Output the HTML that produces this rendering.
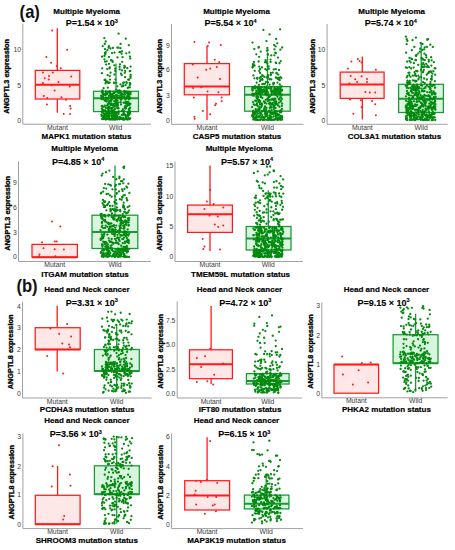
<!DOCTYPE html>
<html><head><meta charset="utf-8"><style>
html,body{margin:0;padding:0;background:#fff;}
body{width:455px;height:550px;overflow:hidden;}
svg{display:block;}
text{font-family:"Liberation Sans",sans-serif;}
.tk{font-size:6.8px;fill:#3a3a3a;}
.yl{font-size:7.7px;font-weight:bold;fill:#000;stroke:#000;stroke-width:0.3px;}
.ti{font-size:8px;font-weight:bold;fill:#000;stroke:#000;stroke-width:0.18px;}
.pv{font-size:9px;font-weight:bold;fill:#000;stroke:#000;stroke-width:0.12px;}
.sup{font-size:5.5px;}
.xt{font-size:8px;font-weight:bold;fill:#000;stroke:#000;stroke-width:0.18px;}
.lab{font-size:17.5px;font-weight:bold;fill:#111;}
</style></head><body>
<svg width="455" height="550" viewBox="0 0 455 550">
<rect width="455" height="550" fill="#fff"/>
<text transform="translate(19.6 17.9) scale(0.95 1)" class="lab">(a)</text>
<text transform="translate(16.4 292.3) scale(0.95 1)" class="lab">(b)</text>
<path d="M22.8 23.5V124.2H151" fill="none" stroke="#a0a0a0" stroke-width="1"/>
<text x="21" y="52.2" text-anchor="end" class="tk">10</text>
<text x="21" y="87.6" text-anchor="end" class="tk">5</text>
<text x="21" y="122.9" text-anchor="end" class="tk">0</text>
<text transform="translate(9.4 76.4) rotate(-90)" text-anchor="middle" textLength="74.5" lengthAdjust="spacingAndGlyphs" class="yl">ANGPTL3 expression</text>
<text x="86.7" y="14" text-anchor="middle" class="ti">Multiple Myeloma</text>
<text x="65.7" y="26.3" class="pv">P=1.54 × 10<tspan dy="-3.6" class="sup">3</tspan></text>
<text x="57.5" y="129.8" text-anchor="middle" class="tk">Mutant</text>
<text x="115.7" y="129.8" text-anchor="middle" class="tk">Wild</text>
<text x="86.5" y="139.3" text-anchor="middle" class="xt">MAPK1 mutation status</text>
<line x1="57.3" y1="28.3" x2="57.3" y2="70.4" stroke="#ff1a1a" stroke-width="1.3"/>
<line x1="57.3" y1="99" x2="57.3" y2="112.8" stroke="#ff1a1a" stroke-width="1.3"/>
<rect x="35.3" y="70.4" width="44.5" height="28.6" fill="#fde7e7" stroke="#ff1a1a" stroke-width="1.25"/>
<line x1="35.3" y1="84.7" x2="79.8" y2="84.7" stroke="#ff1a1a" stroke-width="2"/>
<line x1="116" y1="63.4" x2="116" y2="91.3" stroke="#179a35" stroke-width="1.3"/>
<line x1="116" y1="111.6" x2="116" y2="119.5" stroke="#179a35" stroke-width="1.3"/>
<rect x="93.5" y="91.3" width="45" height="20.3" fill="#d9f5dd" stroke="#179a35" stroke-width="1.25"/>
<line x1="93.5" y1="98.3" x2="138.5" y2="98.3" stroke="#179a35" stroke-width="2"/>
<circle fill="#ff1a1a" cx="52.1" cy="30.5" r="1"/>
<circle fill="#ff1a1a" cx="67.2" cy="49.7" r="1"/>
<circle fill="#ff1a1a" cx="46.4" cy="57" r="1"/>
<circle fill="#ff1a1a" cx="51.1" cy="62.7" r="1"/>
<circle fill="#ff1a1a" cx="56.8" cy="66" r="1"/>
<circle fill="#ff1a1a" cx="60.8" cy="68.2" r="1"/>
<circle fill="#ff1a1a" cx="43" cy="72.6" r="1"/>
<circle fill="#ff1a1a" cx="52.8" cy="72.6" r="1"/>
<circle fill="#ff1a1a" cx="49" cy="76" r="1"/>
<circle fill="#ff1a1a" cx="44.7" cy="78.3" r="1"/>
<circle fill="#ff1a1a" cx="48.7" cy="79.5" r="1"/>
<circle fill="#ff1a1a" cx="71.2" cy="76.5" r="1"/>
<circle fill="#ff1a1a" cx="58.5" cy="82" r="1"/>
<circle fill="#ff1a1a" cx="43" cy="83" r="1"/>
<circle fill="#ff1a1a" cx="51.6" cy="85.2" r="1"/>
<circle fill="#ff1a1a" cx="69.8" cy="86.4" r="1"/>
<circle fill="#ff1a1a" cx="54.6" cy="90.4" r="1"/>
<circle fill="#ff1a1a" cx="43.8" cy="95.9" r="1"/>
<circle fill="#ff1a1a" cx="47.3" cy="98" r="1"/>
<circle fill="#ff1a1a" cx="61.5" cy="97.3" r="1"/>
<circle fill="#ff1a1a" cx="66" cy="99.7" r="1"/>
<circle fill="#ff1a1a" cx="46.9" cy="104.5" r="1"/>
<circle fill="#ff1a1a" cx="70.1" cy="105.9" r="1"/>
<circle fill="#ff1a1a" cx="70.6" cy="108.5" r="1"/>
<circle fill="#ff1a1a" cx="63.7" cy="114" r="1"/>
<circle fill="#ff1a1a" cx="70.1" cy="114" r="1"/>
<g fill="#028a0f"><circle cx="105.73" cy="107.67" r="1.15"/><circle cx="103.43" cy="94.24" r="1.15"/><circle cx="112.05" cy="97.33" r="1.15"/><circle cx="116.22" cy="118.7" r="1.15"/><circle cx="114.05" cy="119.13" r="1.15"/><circle cx="103.97" cy="118.27" r="1.15"/><circle cx="125.61" cy="102.32" r="1.15"/><circle cx="107.86" cy="116.27" r="1.15"/><circle cx="129.16" cy="94.87" r="1.15"/><circle cx="112.96" cy="96.22" r="1.15"/><circle cx="102.67" cy="46.2" r="1.15"/><circle cx="109.81" cy="76.03" r="1.15"/><circle cx="104.76" cy="115.51" r="1.15"/><circle cx="125.29" cy="108.49" r="1.15"/><circle cx="118.4" cy="114.16" r="1.15"/><circle cx="112.25" cy="94.56" r="1.15"/><circle cx="103.15" cy="97.01" r="1.15"/><circle cx="107.36" cy="118.64" r="1.15"/><circle cx="113.87" cy="93.44" r="1.15"/><circle cx="118.52" cy="108.19" r="1.15"/><circle cx="110.11" cy="100.79" r="1.15"/><circle cx="121.85" cy="86.44" r="1.15"/><circle cx="118.19" cy="111.82" r="1.15"/><circle cx="127.03" cy="97.62" r="1.15"/><circle cx="109.77" cy="92.12" r="1.15"/><circle cx="104.77" cy="44.02" r="1.15"/><circle cx="123.56" cy="102.66" r="1.15"/><circle cx="115.68" cy="115.23" r="1.15"/><circle cx="120.95" cy="119.11" r="1.15"/><circle cx="118.15" cy="90.65" r="1.15"/><circle cx="110.52" cy="72.65" r="1.15"/><circle cx="118.77" cy="93.04" r="1.15"/><circle cx="114.71" cy="96.15" r="1.15"/><circle cx="129.07" cy="79.71" r="1.15"/><circle cx="120.83" cy="99.68" r="1.15"/><circle cx="121.92" cy="118.61" r="1.15"/><circle cx="130.5" cy="94.34" r="1.15"/><circle cx="109.67" cy="82.55" r="1.15"/><circle cx="120.96" cy="104.38" r="1.15"/><circle cx="114.87" cy="119.27" r="1.15"/><circle cx="104.74" cy="114.63" r="1.15"/><circle cx="123.89" cy="118.67" r="1.15"/><circle cx="108.58" cy="116.06" r="1.15"/><circle cx="126.92" cy="104.1" r="1.15"/><circle cx="114.51" cy="117.87" r="1.15"/><circle cx="127.27" cy="96.97" r="1.15"/><circle cx="126.7" cy="82.92" r="1.15"/><circle cx="113.51" cy="110.09" r="1.15"/><circle cx="127.3" cy="105.81" r="1.15"/><circle cx="105.74" cy="52.21" r="1.15"/><circle cx="108.12" cy="114.33" r="1.15"/><circle cx="115.56" cy="112.22" r="1.15"/><circle cx="109.02" cy="95.9" r="1.15"/><circle cx="113.62" cy="119.46" r="1.15"/><circle cx="117.95" cy="105.26" r="1.15"/><circle cx="121.6" cy="53.63" r="1.15"/><circle cx="119.46" cy="97.88" r="1.15"/><circle cx="102.89" cy="93.56" r="1.15"/><circle cx="124.23" cy="67.87" r="1.15"/><circle cx="124.76" cy="72.84" r="1.15"/><circle cx="113.03" cy="104.03" r="1.15"/><circle cx="119.95" cy="117.02" r="1.15"/><circle cx="103.28" cy="118.55" r="1.15"/><circle cx="106.07" cy="113.13" r="1.15"/><circle cx="102.85" cy="106.81" r="1.15"/><circle cx="105.75" cy="119.5" r="1.15"/><circle cx="111.99" cy="117.1" r="1.15"/><circle cx="127.01" cy="119.24" r="1.15"/><circle cx="105.67" cy="95.23" r="1.15"/><circle cx="111.51" cy="111.48" r="1.15"/><circle cx="104.91" cy="105.53" r="1.15"/><circle cx="130.5" cy="77.93" r="1.15"/><circle cx="115.52" cy="100.11" r="1.15"/><circle cx="104.3" cy="117.67" r="1.15"/><circle cx="109.08" cy="106.67" r="1.15"/><circle cx="106.05" cy="81.57" r="1.15"/><circle cx="129.26" cy="119.27" r="1.15"/><circle cx="105.61" cy="97.54" r="1.15"/><circle cx="102.1" cy="97.14" r="1.15"/><circle cx="130.07" cy="97.54" r="1.15"/><circle cx="121.77" cy="75.07" r="1.15"/><circle cx="112.08" cy="111.01" r="1.15"/><circle cx="123.99" cy="114.67" r="1.15"/><circle cx="124.2" cy="97.42" r="1.15"/><circle cx="107.86" cy="107.36" r="1.15"/><circle cx="130.26" cy="84.02" r="1.15"/><circle cx="125" cy="77.19" r="1.15"/><circle cx="123.05" cy="83.06" r="1.15"/><circle cx="116.52" cy="112.46" r="1.15"/><circle cx="102.15" cy="105.98" r="1.15"/><circle cx="109.51" cy="119.22" r="1.15"/><circle cx="121.66" cy="111.11" r="1.15"/><circle cx="114.45" cy="52.58" r="1.15"/><circle cx="130.35" cy="58.57" r="1.15"/><circle cx="112.02" cy="53.05" r="1.15"/><circle cx="107.97" cy="112.69" r="1.15"/><circle cx="107.31" cy="113.57" r="1.15"/><circle cx="127.77" cy="94.96" r="1.15"/><circle cx="115.4" cy="79.62" r="1.15"/><circle cx="124.81" cy="94.18" r="1.15"/><circle cx="120.72" cy="117.71" r="1.15"/><circle cx="124.3" cy="65.83" r="1.15"/><circle cx="115.35" cy="91.57" r="1.15"/><circle cx="124.5" cy="114.24" r="1.15"/><circle cx="124.84" cy="107.21" r="1.15"/><circle cx="112.94" cy="47.93" r="1.15"/><circle cx="129.14" cy="103.55" r="1.15"/><circle cx="106.3" cy="92.25" r="1.15"/><circle cx="105.74" cy="116.15" r="1.15"/><circle cx="125.01" cy="66.81" r="1.15"/><circle cx="125.6" cy="115.44" r="1.15"/><circle cx="120.62" cy="43.95" r="1.15"/><circle cx="117.43" cy="106.26" r="1.15"/><circle cx="101.72" cy="116" r="1.15"/><circle cx="120.4" cy="48.16" r="1.15"/><circle cx="128.75" cy="97.58" r="1.15"/><circle cx="126.93" cy="101.82" r="1.15"/><circle cx="107.5" cy="81.95" r="1.15"/><circle cx="109.91" cy="111.5" r="1.15"/><circle cx="118.54" cy="111.95" r="1.15"/><circle cx="113.62" cy="111.1" r="1.15"/><circle cx="128.05" cy="116" r="1.15"/><circle cx="114.77" cy="106.08" r="1.15"/><circle cx="127.89" cy="96.06" r="1.15"/><circle cx="128.28" cy="102.52" r="1.15"/><circle cx="116.94" cy="98.26" r="1.15"/><circle cx="101.85" cy="97.67" r="1.15"/><circle cx="106.68" cy="101.49" r="1.15"/><circle cx="124.8" cy="119.46" r="1.15"/><circle cx="115.22" cy="114.47" r="1.15"/><circle cx="117.66" cy="92.24" r="1.15"/><circle cx="116.54" cy="107.56" r="1.15"/><circle cx="124.36" cy="96.81" r="1.15"/><circle cx="117.77" cy="116.92" r="1.15"/><circle cx="109.44" cy="111.66" r="1.15"/><circle cx="116.23" cy="89.57" r="1.15"/><circle cx="123.64" cy="96.64" r="1.15"/><circle cx="114.33" cy="65.29" r="1.15"/><circle cx="116.16" cy="95.27" r="1.15"/><circle cx="121.67" cy="97.97" r="1.15"/><circle cx="116.98" cy="100.84" r="1.15"/><circle cx="128.98" cy="99.47" r="1.15"/><circle cx="127.07" cy="92.94" r="1.15"/><circle cx="108.93" cy="56.98" r="1.15"/><circle cx="129.03" cy="96.7" r="1.15"/><circle cx="105.33" cy="79.71" r="1.15"/><circle cx="114.3" cy="116.35" r="1.15"/><circle cx="108.37" cy="118.17" r="1.15"/><circle cx="120.98" cy="118.14" r="1.15"/><circle cx="127.67" cy="87.92" r="1.15"/><circle cx="122.35" cy="115.14" r="1.15"/><circle cx="105.5" cy="93.99" r="1.15"/><circle cx="129.75" cy="71.19" r="1.15"/><circle cx="129.3" cy="112.73" r="1.15"/><circle cx="115.63" cy="103.71" r="1.15"/><circle cx="125.77" cy="38.63" r="1.15"/><circle cx="113.99" cy="114.88" r="1.15"/><circle cx="111.27" cy="97.88" r="1.15"/><circle cx="110.66" cy="113.61" r="1.15"/><circle cx="101.87" cy="92.32" r="1.15"/><circle cx="114.25" cy="96.84" r="1.15"/><circle cx="111.05" cy="119.32" r="1.15"/><circle cx="116.36" cy="94.96" r="1.15"/><circle cx="130.26" cy="118.47" r="1.15"/><circle cx="129.87" cy="87.29" r="1.15"/><circle cx="109.11" cy="116.97" r="1.15"/><circle cx="124.2" cy="119.1" r="1.15"/><circle cx="105.11" cy="110.51" r="1.15"/><circle cx="128.1" cy="102.44" r="1.15"/><circle cx="108.9" cy="82.96" r="1.15"/><circle cx="128.32" cy="115.32" r="1.15"/><circle cx="121.89" cy="96.4" r="1.15"/><circle cx="102.99" cy="117.54" r="1.15"/><circle cx="113.8" cy="93.23" r="1.15"/><circle cx="128.89" cy="118.17" r="1.15"/><circle cx="124.87" cy="94.68" r="1.15"/><circle cx="126.47" cy="117.75" r="1.15"/><circle cx="126.67" cy="118.38" r="1.15"/><circle cx="111.27" cy="100.76" r="1.15"/><circle cx="128.54" cy="96.87" r="1.15"/><circle cx="105.1" cy="110.65" r="1.15"/><circle cx="108.31" cy="97.58" r="1.15"/><circle cx="106.05" cy="116.8" r="1.15"/><circle cx="107.23" cy="118.99" r="1.15"/><circle cx="110.27" cy="108.3" r="1.15"/><circle cx="109.82" cy="91.31" r="1.15"/><circle cx="106.53" cy="98.3" r="1.15"/><circle cx="101.83" cy="106.44" r="1.15"/><circle cx="101.75" cy="111.58" r="1.15"/><circle cx="117.5" cy="92.02" r="1.15"/><circle cx="115.26" cy="113.84" r="1.15"/><circle cx="104.42" cy="59.3" r="1.15"/><circle cx="114.01" cy="82.97" r="1.15"/><circle cx="125.84" cy="98.57" r="1.15"/><circle cx="116.2" cy="103.99" r="1.15"/><circle cx="130.18" cy="93.25" r="1.15"/><circle cx="125.77" cy="106.67" r="1.15"/><circle cx="120" cy="92.73" r="1.15"/><circle cx="111.52" cy="103.37" r="1.15"/><circle cx="105.12" cy="118.84" r="1.15"/><circle cx="123.08" cy="118.23" r="1.15"/><circle cx="106.1" cy="111.3" r="1.15"/><circle cx="126.03" cy="117.72" r="1.15"/><circle cx="121.01" cy="73.63" r="1.15"/><circle cx="108.42" cy="109.9" r="1.15"/><circle cx="114.81" cy="109.31" r="1.15"/><circle cx="114.41" cy="115.02" r="1.15"/><circle cx="129.58" cy="110.9" r="1.15"/><circle cx="117.38" cy="47.63" r="1.15"/><circle cx="129.69" cy="111.81" r="1.15"/><circle cx="111.78" cy="108.43" r="1.15"/><circle cx="112.52" cy="119.49" r="1.15"/><circle cx="116.08" cy="99.65" r="1.15"/><circle cx="116.14" cy="113.41" r="1.15"/><circle cx="109.07" cy="119.45" r="1.15"/><circle cx="113.05" cy="117.53" r="1.15"/><circle cx="101.96" cy="119.08" r="1.15"/><circle cx="108.14" cy="108.71" r="1.15"/><circle cx="116.86" cy="96" r="1.15"/><circle cx="120.63" cy="91.55" r="1.15"/><circle cx="127.15" cy="92.48" r="1.15"/><circle cx="110.89" cy="104.18" r="1.15"/><circle cx="105.69" cy="41.49" r="1.15"/><circle cx="120.21" cy="92.27" r="1.15"/><circle cx="125.86" cy="119.06" r="1.15"/><circle cx="119.74" cy="69.38" r="1.15"/><circle cx="125.18" cy="92" r="1.15"/><circle cx="116.7" cy="115.7" r="1.15"/><circle cx="125.85" cy="98.18" r="1.15"/><circle cx="125.6" cy="84.99" r="1.15"/><circle cx="127.55" cy="96.04" r="1.15"/><circle cx="121.68" cy="93.38" r="1.15"/><circle cx="102.22" cy="112.34" r="1.15"/><circle cx="111.9" cy="115.93" r="1.15"/><circle cx="125.87" cy="116.97" r="1.15"/><circle cx="119.76" cy="96.72" r="1.15"/><circle cx="121.31" cy="94.9" r="1.15"/><circle cx="101.4" cy="98.87" r="1.15"/><circle cx="123.3" cy="85.97" r="1.15"/><circle cx="117.03" cy="98.22" r="1.15"/><circle cx="103.24" cy="94.01" r="1.15"/><circle cx="108.71" cy="91.92" r="1.15"/><circle cx="109.11" cy="118.1" r="1.15"/><circle cx="107.33" cy="92.13" r="1.15"/><circle cx="129.99" cy="91.84" r="1.15"/><circle cx="112.55" cy="98.62" r="1.15"/><circle cx="121.4" cy="99.42" r="1.15"/><circle cx="119.44" cy="90.31" r="1.15"/><circle cx="103.58" cy="94.46" r="1.15"/><circle cx="108.77" cy="115.4" r="1.15"/><circle cx="110.25" cy="91.75" r="1.15"/><circle cx="101.67" cy="96.48" r="1.15"/><circle cx="109.2" cy="118.61" r="1.15"/><circle cx="121.65" cy="93.67" r="1.15"/><circle cx="109.85" cy="93.57" r="1.15"/><circle cx="114.96" cy="97.85" r="1.15"/><circle cx="104.78" cy="100.09" r="1.15"/><circle cx="107.16" cy="69.04" r="1.15"/><circle cx="128.83" cy="45.16" r="1.15"/><circle cx="114.79" cy="119.32" r="1.15"/><circle cx="129.76" cy="82.83" r="1.15"/><circle cx="109.2" cy="100.99" r="1.15"/><circle cx="129.1" cy="113.09" r="1.15"/><circle cx="118.4" cy="113.05" r="1.15"/><circle cx="116.71" cy="115.61" r="1.15"/><circle cx="105.2" cy="53.74" r="1.15"/><circle cx="116.26" cy="82.79" r="1.15"/><circle cx="121.98" cy="70.39" r="1.15"/><circle cx="127.69" cy="112.29" r="1.15"/><circle cx="102.03" cy="99.04" r="1.15"/><circle cx="115.76" cy="119.46" r="1.15"/><circle cx="110.18" cy="100.92" r="1.15"/><circle cx="111.41" cy="115.64" r="1.15"/><circle cx="126" cy="108.08" r="1.15"/><circle cx="123.37" cy="119.48" r="1.15"/><circle cx="104.83" cy="79.88" r="1.15"/><circle cx="122.26" cy="61.83" r="1.15"/><circle cx="109.82" cy="67.47" r="1.15"/><circle cx="112.85" cy="105.1" r="1.15"/><circle cx="118.62" cy="33.67" r="1.15"/><circle cx="113.88" cy="105.71" r="1.15"/><circle cx="102.72" cy="110.26" r="1.15"/><circle cx="125.84" cy="117.09" r="1.15"/><circle cx="128.81" cy="109.7" r="1.15"/><circle cx="109.11" cy="111.62" r="1.15"/><circle cx="106.88" cy="98" r="1.15"/><circle cx="129.41" cy="105.04" r="1.15"/><circle cx="125.17" cy="70.9" r="1.15"/><circle cx="128.15" cy="94.78" r="1.15"/><circle cx="117.45" cy="57.44" r="1.15"/><circle cx="102.75" cy="92.39" r="1.15"/><circle cx="114.56" cy="92.04" r="1.15"/><circle cx="120.25" cy="91.5" r="1.15"/><circle cx="102.74" cy="109.67" r="1.15"/><circle cx="105.04" cy="61.72" r="1.15"/><circle cx="111.4" cy="99.78" r="1.15"/><circle cx="123.03" cy="109.06" r="1.15"/><circle cx="108.95" cy="46.18" r="1.15"/><circle cx="110.14" cy="94.1" r="1.15"/><circle cx="112.89" cy="96.76" r="1.15"/><circle cx="106.05" cy="114.66" r="1.15"/><circle cx="127.94" cy="113.16" r="1.15"/><circle cx="107.77" cy="98.46" r="1.15"/><circle cx="130.6" cy="66.53" r="1.15"/><circle cx="105.4" cy="100.96" r="1.15"/><circle cx="103.97" cy="113.73" r="1.15"/><circle cx="103.98" cy="106.71" r="1.15"/><circle cx="108.9" cy="112" r="1.15"/><circle cx="127.39" cy="96.43" r="1.15"/><circle cx="113.44" cy="91.58" r="1.15"/><circle cx="116.71" cy="102.88" r="1.15"/><circle cx="111.24" cy="104.85" r="1.15"/><circle cx="109.46" cy="118.55" r="1.15"/><circle cx="105" cy="49.15" r="1.15"/><circle cx="119.81" cy="98.21" r="1.15"/><circle cx="107.65" cy="75.16" r="1.15"/><circle cx="108.6" cy="110.48" r="1.15"/><circle cx="114.41" cy="103.63" r="1.15"/><circle cx="126.25" cy="53.37" r="1.15"/><circle cx="101.94" cy="73.17" r="1.15"/><circle cx="122.16" cy="119.18" r="1.15"/><circle cx="115.21" cy="68.63" r="1.15"/><circle cx="101.31" cy="95.95" r="1.15"/><circle cx="128.55" cy="104.07" r="1.15"/><circle cx="126.45" cy="82.03" r="1.15"/><circle cx="108.6" cy="47.75" r="1.15"/><circle cx="105.84" cy="116.82" r="1.15"/><circle cx="121.35" cy="97.7" r="1.15"/><circle cx="122.52" cy="57.2" r="1.15"/><circle cx="123.79" cy="94.33" r="1.15"/><circle cx="117.51" cy="100.57" r="1.15"/><circle cx="124.3" cy="119.1" r="1.15"/><circle cx="128.35" cy="112.24" r="1.15"/><circle cx="110.23" cy="94.38" r="1.15"/><circle cx="108.7" cy="116.12" r="1.15"/><circle cx="121.84" cy="94.63" r="1.15"/><circle cx="103.37" cy="116.7" r="1.15"/><circle cx="118.44" cy="97.64" r="1.15"/><circle cx="107.87" cy="104.25" r="1.15"/><circle cx="101.61" cy="95.58" r="1.15"/><circle cx="114.84" cy="108.86" r="1.15"/><circle cx="120.25" cy="51.83" r="1.15"/><circle cx="115.27" cy="71" r="1.15"/><circle cx="108.56" cy="112.16" r="1.15"/><circle cx="122.02" cy="51.32" r="1.15"/><circle cx="101.94" cy="108.55" r="1.15"/><circle cx="121.13" cy="98.39" r="1.15"/><circle cx="108.86" cy="102.56" r="1.15"/><circle cx="128.5" cy="93.79" r="1.15"/><circle cx="102.3" cy="112.46" r="1.15"/><circle cx="113.66" cy="106.92" r="1.15"/><circle cx="107.12" cy="93.38" r="1.15"/><circle cx="123.03" cy="86.06" r="1.15"/><circle cx="107.33" cy="98.17" r="1.15"/><circle cx="110.46" cy="48.48" r="1.15"/><circle cx="108.09" cy="82.82" r="1.15"/><circle cx="123.66" cy="112.66" r="1.15"/><circle cx="129.29" cy="109.21" r="1.15"/><circle cx="106.81" cy="98.53" r="1.15"/><circle cx="113.56" cy="112.59" r="1.15"/><circle cx="129.19" cy="93.85" r="1.15"/><circle cx="112.87" cy="115.43" r="1.15"/><circle cx="129.94" cy="112.97" r="1.15"/><circle cx="102.82" cy="115.6" r="1.15"/><circle cx="112.86" cy="118.62" r="1.15"/><circle cx="127.28" cy="68.14" r="1.15"/><circle cx="130.63" cy="92.03" r="1.15"/><circle cx="110.98" cy="60.24" r="1.15"/><circle cx="128.81" cy="113.99" r="1.15"/><circle cx="102.24" cy="91.67" r="1.15"/><circle cx="112.43" cy="93.87" r="1.15"/><circle cx="111.05" cy="105.01" r="1.15"/><circle cx="101.38" cy="114.59" r="1.15"/><circle cx="111.63" cy="110.01" r="1.15"/><circle cx="104.94" cy="52.89" r="1.15"/><circle cx="107.4" cy="50.2" r="1.15"/><circle cx="125.45" cy="105.93" r="1.15"/><circle cx="114.01" cy="82.54" r="1.15"/><circle cx="115.22" cy="119.01" r="1.15"/><circle cx="128.33" cy="105.07" r="1.15"/><circle cx="112.01" cy="113.71" r="1.15"/><circle cx="102.19" cy="68.37" r="1.15"/><circle cx="125.17" cy="103.05" r="1.15"/><circle cx="102.5" cy="90.36" r="1.15"/><circle cx="103.14" cy="119.15" r="1.15"/><circle cx="108.86" cy="63.78" r="1.15"/><circle cx="127.72" cy="91.64" r="1.15"/><circle cx="109.31" cy="106.86" r="1.15"/><circle cx="119.44" cy="52.22" r="1.15"/><circle cx="122.37" cy="110.95" r="1.15"/><circle cx="109.4" cy="108.06" r="1.15"/><circle cx="123.52" cy="119.46" r="1.15"/><circle cx="119.94" cy="64.5" r="1.15"/><circle cx="102.01" cy="56.66" r="1.15"/><circle cx="115.27" cy="112.2" r="1.15"/><circle cx="129.34" cy="52.5" r="1.15"/><circle cx="108.68" cy="104.34" r="1.15"/><circle cx="115.81" cy="102.03" r="1.15"/><circle cx="106.68" cy="61.31" r="1.15"/><circle cx="123.01" cy="85.28" r="1.15"/><circle cx="124.02" cy="82.43" r="1.15"/><circle cx="110.94" cy="95.41" r="1.15"/><circle cx="111.94" cy="107.9" r="1.15"/><circle cx="103.62" cy="88.16" r="1.15"/><circle cx="123.43" cy="113.55" r="1.15"/><circle cx="103.2" cy="111.7" r="1.15"/><circle cx="117.55" cy="119.16" r="1.15"/><circle cx="130.12" cy="107.57" r="1.15"/><circle cx="130.34" cy="71.06" r="1.15"/><circle cx="103.77" cy="110.81" r="1.15"/><circle cx="115.96" cy="117.28" r="1.15"/><circle cx="114.44" cy="92.65" r="1.15"/><circle cx="113.56" cy="112.18" r="1.15"/><circle cx="121.12" cy="95.06" r="1.15"/><circle cx="126.2" cy="91.62" r="1.15"/><circle cx="104.86" cy="93.87" r="1.15"/><circle cx="109.94" cy="79.53" r="1.15"/><circle cx="112.27" cy="96.5" r="1.15"/><circle cx="107.16" cy="91.89" r="1.15"/><circle cx="108.51" cy="111.7" r="1.15"/><circle cx="127.29" cy="115.18" r="1.15"/><circle cx="110.89" cy="96.19" r="1.15"/><circle cx="130.48" cy="103.83" r="1.15"/><circle cx="108.1" cy="98.1" r="1.15"/><circle cx="120.51" cy="84.45" r="1.15"/><circle cx="104.31" cy="38.03" r="1.15"/><circle cx="125.38" cy="99.64" r="1.15"/><circle cx="128.18" cy="79.6" r="1.15"/><circle cx="109.93" cy="119.1" r="1.15"/><circle cx="106.87" cy="116.44" r="1.15"/><circle cx="118.45" cy="47.53" r="1.15"/><circle cx="112.24" cy="60.67" r="1.15"/><circle cx="114.5" cy="74.51" r="1.15"/><circle cx="124.17" cy="111.07" r="1.15"/><circle cx="104.41" cy="55.9" r="1.15"/><circle cx="119.53" cy="95.71" r="1.15"/><circle cx="112.14" cy="112.8" r="1.15"/><circle cx="107.3" cy="115.62" r="1.15"/><circle cx="118.92" cy="111.34" r="1.15"/><circle cx="107.28" cy="94.22" r="1.15"/><circle cx="110.92" cy="119.39" r="1.15"/><circle cx="106.74" cy="93.5" r="1.15"/><circle cx="107.28" cy="108.29" r="1.15"/><circle cx="117.41" cy="86.31" r="1.15"/><circle cx="104.28" cy="118.51" r="1.15"/><circle cx="117.47" cy="103.87" r="1.15"/><circle cx="103.98" cy="94.55" r="1.15"/><circle cx="121.74" cy="114.79" r="1.15"/><circle cx="109.63" cy="103.1" r="1.15"/><circle cx="129.32" cy="108.54" r="1.15"/><circle cx="117.96" cy="108.28" r="1.15"/><circle cx="113.54" cy="105.9" r="1.15"/><circle cx="130.6" cy="74.89" r="1.15"/><circle cx="107.1" cy="105.55" r="1.15"/><circle cx="107.29" cy="92.16" r="1.15"/><circle cx="127.81" cy="119.44" r="1.15"/><circle cx="125.42" cy="102.36" r="1.15"/><circle cx="127.26" cy="103.29" r="1.15"/><circle cx="106.08" cy="100.38" r="1.15"/><circle cx="117.52" cy="119.35" r="1.15"/><circle cx="128.05" cy="94.51" r="1.15"/><circle cx="119.59" cy="117.56" r="1.15"/><circle cx="116.13" cy="105.17" r="1.15"/><circle cx="109.63" cy="115.45" r="1.15"/><circle cx="128.51" cy="97.73" r="1.15"/><circle cx="115.72" cy="116.82" r="1.15"/><circle cx="129.73" cy="84.97" r="1.15"/><circle cx="105.02" cy="113.55" r="1.15"/><circle cx="129.98" cy="56.71" r="1.15"/><circle cx="102.87" cy="99.22" r="1.15"/><circle cx="112.7" cy="61.9" r="1.15"/><circle cx="119.54" cy="66.94" r="1.15"/><circle cx="106.01" cy="82.18" r="1.15"/><circle cx="107.83" cy="87.65" r="1.15"/><circle cx="126.18" cy="103.38" r="1.15"/><circle cx="106.68" cy="81.52" r="1.15"/><circle cx="113.05" cy="112.78" r="1.15"/><circle cx="112.58" cy="97.82" r="1.15"/><circle cx="108.56" cy="116.3" r="1.15"/><circle cx="127.68" cy="92.25" r="1.15"/><circle cx="117.83" cy="119.09" r="1.15"/><circle cx="102.42" cy="91.37" r="1.15"/><circle cx="104.76" cy="80.06" r="1.15"/><circle cx="117.47" cy="95.62" r="1.15"/><circle cx="110.3" cy="94.88" r="1.15"/><circle cx="118.43" cy="102.55" r="1.15"/><circle cx="120.67" cy="102.25" r="1.15"/><circle cx="114.19" cy="101.13" r="1.15"/><circle cx="119.5" cy="119.27" r="1.15"/><circle cx="108.22" cy="98.86" r="1.15"/><circle cx="124.23" cy="90.8" r="1.15"/><circle cx="106.58" cy="100.52" r="1.15"/><circle cx="104.45" cy="99.72" r="1.15"/><circle cx="113.96" cy="116.1" r="1.15"/><circle cx="114.29" cy="117.46" r="1.15"/><circle cx="102.5" cy="98.03" r="1.15"/><circle cx="103.72" cy="94.63" r="1.15"/><circle cx="124.16" cy="92.01" r="1.15"/><circle cx="102.9" cy="97.99" r="1.15"/><circle cx="112.41" cy="98.19" r="1.15"/><circle cx="105.3" cy="54.32" r="1.15"/><circle cx="130.59" cy="76.31" r="1.15"/><circle cx="125.26" cy="92.05" r="1.15"/><circle cx="130.16" cy="113.68" r="1.15"/><circle cx="129.43" cy="98.73" r="1.15"/><circle cx="106.15" cy="64.59" r="1.15"/><circle cx="128.66" cy="87.29" r="1.15"/><circle cx="111.62" cy="118.43" r="1.15"/><circle cx="105.97" cy="91.4" r="1.15"/><circle cx="109.38" cy="68.46" r="1.15"/><circle cx="105.52" cy="83.44" r="1.15"/><circle cx="128.35" cy="98.24" r="1.15"/><circle cx="109.03" cy="113.14" r="1.15"/><circle cx="110.68" cy="98.14" r="1.15"/><circle cx="106.65" cy="119.13" r="1.15"/><circle cx="128.83" cy="114.88" r="1.15"/><circle cx="127.63" cy="93.46" r="1.15"/><circle cx="124.38" cy="114.61" r="1.15"/><circle cx="116.9" cy="116.59" r="1.15"/><circle cx="111.88" cy="94.63" r="1.15"/></g>
<path d="M171.5 23.9V124.3H303.5" fill="none" stroke="#a0a0a0" stroke-width="1"/>
<text x="169.7" y="47.5" text-anchor="end" class="tk">9</text>
<text x="169.7" y="72.4" text-anchor="end" class="tk">6</text>
<text x="169.7" y="97.5" text-anchor="end" class="tk">3</text>
<text x="169.7" y="122.6" text-anchor="end" class="tk">0</text>
<text transform="translate(162.1 76.4) rotate(-90)" text-anchor="middle" textLength="74.5" lengthAdjust="spacingAndGlyphs" class="yl">ANGPTL3 expression</text>
<text x="236.5" y="14" text-anchor="middle" class="ti">Multiple Myeloma</text>
<text x="204.4" y="26.3" class="pv">P=5.54 × 10<tspan dy="-3.6" class="sup">4</tspan></text>
<text x="207" y="129.8" text-anchor="middle" class="tk">Mutant</text>
<text x="267.5" y="129.8" text-anchor="middle" class="tk">Wild</text>
<text x="237" y="139.3" text-anchor="middle" class="xt">CASP5 mutation status</text>
<line x1="207" y1="46" x2="207" y2="63.6" stroke="#ff1a1a" stroke-width="1.3"/>
<line x1="207" y1="94.8" x2="207" y2="120" stroke="#ff1a1a" stroke-width="1.3"/>
<rect x="184.3" y="63.6" width="45.2" height="31.2" fill="#fde7e7" stroke="#ff1a1a" stroke-width="1.25"/>
<line x1="184.3" y1="86.5" x2="229.5" y2="86.5" stroke="#ff1a1a" stroke-width="2"/>
<line x1="267.5" y1="52.2" x2="267.5" y2="86.6" stroke="#179a35" stroke-width="1.3"/>
<line x1="267.5" y1="111.2" x2="267.5" y2="119.4" stroke="#179a35" stroke-width="1.3"/>
<rect x="244.6" y="86.6" width="45.6" height="24.6" fill="#d9f5dd" stroke="#179a35" stroke-width="1.25"/>
<line x1="244.6" y1="94.8" x2="290.2" y2="94.8" stroke="#179a35" stroke-width="2"/>
<circle fill="#ff1a1a" cx="194.4" cy="41.9" r="1"/>
<circle fill="#ff1a1a" cx="209.1" cy="42.4" r="1"/>
<circle fill="#ff1a1a" cx="220.9" cy="45.1" r="1"/>
<circle fill="#ff1a1a" cx="207.8" cy="46.1" r="1"/>
<circle fill="#ff1a1a" cx="214.7" cy="59.8" r="1"/>
<circle fill="#ff1a1a" cx="219.2" cy="62" r="1"/>
<circle fill="#ff1a1a" cx="192.8" cy="64.4" r="1"/>
<circle fill="#ff1a1a" cx="210.2" cy="68.5" r="1"/>
<circle fill="#ff1a1a" cx="206.2" cy="69.7" r="1"/>
<circle fill="#ff1a1a" cx="216.8" cy="66.9" r="1"/>
<circle fill="#ff1a1a" cx="197.7" cy="77.5" r="1"/>
<circle fill="#ff1a1a" cx="220" cy="79.1" r="1"/>
<circle fill="#ff1a1a" cx="193.1" cy="88.1" r="1"/>
<circle fill="#ff1a1a" cx="201.3" cy="87.3" r="1"/>
<circle fill="#ff1a1a" cx="207.5" cy="91.4" r="1"/>
<circle fill="#ff1a1a" cx="218.4" cy="92.2" r="1"/>
<circle fill="#ff1a1a" cx="193.9" cy="97.4" r="1"/>
<circle fill="#ff1a1a" cx="221.7" cy="97.4" r="1"/>
<circle fill="#ff1a1a" cx="221.7" cy="101.2" r="1"/>
<circle fill="#ff1a1a" cx="216" cy="103.7" r="1"/>
<circle fill="#ff1a1a" cx="215.1" cy="105.3" r="1"/>
<circle fill="#ff1a1a" cx="202.9" cy="111" r="1"/>
<circle fill="#ff1a1a" cx="210.2" cy="114.3" r="1"/>
<circle fill="#ff1a1a" cx="194.4" cy="116.7" r="1"/>
<circle fill="#ff1a1a" cx="194.7" cy="118.7" r="1"/>
<g fill="#028a0f"><circle cx="268.88" cy="68.82" r="1.15"/><circle cx="278.83" cy="92.28" r="1.15"/><circle cx="282.19" cy="117.16" r="1.15"/><circle cx="263.99" cy="90.71" r="1.15"/><circle cx="260.05" cy="81.14" r="1.15"/><circle cx="269.55" cy="34.46" r="1.15"/><circle cx="275.25" cy="103.97" r="1.15"/><circle cx="257.37" cy="98.59" r="1.15"/><circle cx="253.47" cy="87.12" r="1.15"/><circle cx="259.71" cy="77.93" r="1.15"/><circle cx="281.92" cy="90.41" r="1.15"/><circle cx="272.18" cy="92.09" r="1.15"/><circle cx="252.05" cy="107.09" r="1.15"/><circle cx="256.54" cy="119.56" r="1.15"/><circle cx="265.14" cy="91.14" r="1.15"/><circle cx="279.22" cy="94.4" r="1.15"/><circle cx="258.91" cy="116.04" r="1.15"/><circle cx="252.68" cy="89.97" r="1.15"/><circle cx="262.79" cy="119.87" r="1.15"/><circle cx="262.86" cy="117.09" r="1.15"/><circle cx="269.74" cy="112.26" r="1.15"/><circle cx="258.21" cy="91.99" r="1.15"/><circle cx="266.44" cy="90.89" r="1.15"/><circle cx="280.47" cy="115.93" r="1.15"/><circle cx="256.54" cy="111.46" r="1.15"/><circle cx="271.4" cy="117.52" r="1.15"/><circle cx="275.78" cy="69.13" r="1.15"/><circle cx="260.03" cy="101.23" r="1.15"/><circle cx="271.61" cy="119.79" r="1.15"/><circle cx="262.65" cy="92.83" r="1.15"/><circle cx="265.49" cy="90.21" r="1.15"/><circle cx="274.3" cy="55.32" r="1.15"/><circle cx="279.47" cy="111.26" r="1.15"/><circle cx="268.16" cy="119.46" r="1.15"/><circle cx="259.23" cy="100.97" r="1.15"/><circle cx="275.68" cy="119.06" r="1.15"/><circle cx="268.75" cy="119.78" r="1.15"/><circle cx="256.32" cy="54.29" r="1.15"/><circle cx="270.49" cy="113.27" r="1.15"/><circle cx="271.5" cy="94.58" r="1.15"/><circle cx="257.31" cy="78.86" r="1.15"/><circle cx="261.13" cy="107.3" r="1.15"/><circle cx="279.04" cy="119.42" r="1.15"/><circle cx="273.75" cy="83.27" r="1.15"/><circle cx="277.67" cy="119.84" r="1.15"/><circle cx="266.14" cy="87.07" r="1.15"/><circle cx="265.76" cy="87.18" r="1.15"/><circle cx="255.2" cy="112.19" r="1.15"/><circle cx="253.18" cy="111.93" r="1.15"/><circle cx="274.79" cy="105.59" r="1.15"/><circle cx="277.7" cy="88.65" r="1.15"/><circle cx="260.09" cy="88.12" r="1.15"/><circle cx="265.26" cy="93.1" r="1.15"/><circle cx="267.91" cy="82.47" r="1.15"/><circle cx="271.52" cy="110.2" r="1.15"/><circle cx="258.6" cy="47.69" r="1.15"/><circle cx="252.46" cy="67.49" r="1.15"/><circle cx="259.18" cy="110.52" r="1.15"/><circle cx="280.72" cy="87.11" r="1.15"/><circle cx="261.94" cy="87.04" r="1.15"/><circle cx="261.99" cy="67.47" r="1.15"/><circle cx="279.59" cy="111.64" r="1.15"/><circle cx="273.06" cy="90.68" r="1.15"/><circle cx="281.76" cy="89.59" r="1.15"/><circle cx="277.53" cy="96.8" r="1.15"/><circle cx="278.07" cy="88.57" r="1.15"/><circle cx="274.03" cy="98.92" r="1.15"/><circle cx="261.36" cy="92.58" r="1.15"/><circle cx="270.93" cy="112.76" r="1.15"/><circle cx="279.69" cy="118.26" r="1.15"/><circle cx="252.82" cy="115.52" r="1.15"/><circle cx="280.24" cy="117.08" r="1.15"/><circle cx="256.31" cy="104.98" r="1.15"/><circle cx="253.27" cy="119.61" r="1.15"/><circle cx="271.27" cy="88.72" r="1.15"/><circle cx="274.4" cy="88.59" r="1.15"/><circle cx="269.95" cy="118.75" r="1.15"/><circle cx="276.85" cy="103.76" r="1.15"/><circle cx="279.09" cy="77.96" r="1.15"/><circle cx="278.38" cy="118.75" r="1.15"/><circle cx="280.71" cy="61.05" r="1.15"/><circle cx="258.25" cy="117.06" r="1.15"/><circle cx="253.05" cy="116.86" r="1.15"/><circle cx="276.69" cy="73.55" r="1.15"/><circle cx="277.08" cy="90.57" r="1.15"/><circle cx="260.74" cy="90.65" r="1.15"/><circle cx="254.97" cy="117.36" r="1.15"/><circle cx="258.23" cy="86.68" r="1.15"/><circle cx="264.88" cy="106.66" r="1.15"/><circle cx="259.8" cy="119.69" r="1.15"/><circle cx="273.76" cy="109.06" r="1.15"/><circle cx="261.75" cy="103.46" r="1.15"/><circle cx="267.31" cy="48" r="1.15"/><circle cx="270.8" cy="72.87" r="1.15"/><circle cx="264.55" cy="119.59" r="1.15"/><circle cx="275.5" cy="98.97" r="1.15"/><circle cx="273.42" cy="104.85" r="1.15"/><circle cx="258.58" cy="93.61" r="1.15"/><circle cx="254.76" cy="70.83" r="1.15"/><circle cx="257.18" cy="77.93" r="1.15"/><circle cx="258.14" cy="119.89" r="1.15"/><circle cx="281.73" cy="86.28" r="1.15"/><circle cx="266.92" cy="119.86" r="1.15"/><circle cx="276.22" cy="95.36" r="1.15"/><circle cx="267.04" cy="113.88" r="1.15"/><circle cx="277.29" cy="104.82" r="1.15"/><circle cx="280.69" cy="110.51" r="1.15"/><circle cx="258.53" cy="108.99" r="1.15"/><circle cx="267.15" cy="88.51" r="1.15"/><circle cx="271.35" cy="116.94" r="1.15"/><circle cx="275.95" cy="118.13" r="1.15"/><circle cx="275.92" cy="88.58" r="1.15"/><circle cx="262.81" cy="90.77" r="1.15"/><circle cx="264" cy="101.28" r="1.15"/><circle cx="254.62" cy="65.55" r="1.15"/><circle cx="252.77" cy="65.92" r="1.15"/><circle cx="260" cy="113" r="1.15"/><circle cx="267.24" cy="63.52" r="1.15"/><circle cx="278.87" cy="102.72" r="1.15"/><circle cx="266.01" cy="111.87" r="1.15"/><circle cx="274.94" cy="93.81" r="1.15"/><circle cx="271.65" cy="86.82" r="1.15"/><circle cx="261.93" cy="104.74" r="1.15"/><circle cx="277.63" cy="115.08" r="1.15"/><circle cx="274.56" cy="89.69" r="1.15"/><circle cx="265.34" cy="114.5" r="1.15"/><circle cx="269.61" cy="84.65" r="1.15"/><circle cx="266.05" cy="116.28" r="1.15"/><circle cx="259.23" cy="66.54" r="1.15"/><circle cx="261.17" cy="113.6" r="1.15"/><circle cx="277.65" cy="88.39" r="1.15"/><circle cx="256.74" cy="115.11" r="1.15"/><circle cx="261.93" cy="111.3" r="1.15"/><circle cx="256.89" cy="94.1" r="1.15"/><circle cx="257.75" cy="106.08" r="1.15"/><circle cx="274.15" cy="44.9" r="1.15"/><circle cx="281.26" cy="117.28" r="1.15"/><circle cx="263.68" cy="117.28" r="1.15"/><circle cx="276.16" cy="38.99" r="1.15"/><circle cx="265.22" cy="87.44" r="1.15"/><circle cx="271.39" cy="113.41" r="1.15"/><circle cx="258.28" cy="117.07" r="1.15"/><circle cx="253.03" cy="102.12" r="1.15"/><circle cx="276.05" cy="101.42" r="1.15"/><circle cx="267.21" cy="88.7" r="1.15"/><circle cx="266.08" cy="90.63" r="1.15"/><circle cx="270.35" cy="115.64" r="1.15"/><circle cx="274.52" cy="101.05" r="1.15"/><circle cx="265.07" cy="62.25" r="1.15"/><circle cx="274.77" cy="92.47" r="1.15"/><circle cx="258.95" cy="99.97" r="1.15"/><circle cx="278.75" cy="87.79" r="1.15"/><circle cx="273.28" cy="84.56" r="1.15"/><circle cx="272.66" cy="72.67" r="1.15"/><circle cx="265.8" cy="90.34" r="1.15"/><circle cx="271.1" cy="107.07" r="1.15"/><circle cx="264.76" cy="117.44" r="1.15"/><circle cx="273.68" cy="83.36" r="1.15"/><circle cx="259.6" cy="90.71" r="1.15"/><circle cx="265.84" cy="99.81" r="1.15"/><circle cx="264.44" cy="90.97" r="1.15"/><circle cx="280.28" cy="89.27" r="1.15"/><circle cx="271.9" cy="113.94" r="1.15"/><circle cx="263.82" cy="83.96" r="1.15"/><circle cx="281.63" cy="95.47" r="1.15"/><circle cx="268.52" cy="119.52" r="1.15"/><circle cx="275.77" cy="114.86" r="1.15"/><circle cx="267.78" cy="54.39" r="1.15"/><circle cx="269.47" cy="117.31" r="1.15"/><circle cx="273.81" cy="93.51" r="1.15"/><circle cx="271.43" cy="94.42" r="1.15"/><circle cx="267.86" cy="76.6" r="1.15"/><circle cx="280.82" cy="100.68" r="1.15"/><circle cx="272.8" cy="112.84" r="1.15"/><circle cx="275.19" cy="101.85" r="1.15"/><circle cx="281.93" cy="116.43" r="1.15"/><circle cx="253.72" cy="104.28" r="1.15"/><circle cx="264.15" cy="109.6" r="1.15"/><circle cx="264.72" cy="119.77" r="1.15"/><circle cx="273.23" cy="100.01" r="1.15"/><circle cx="260.06" cy="104.5" r="1.15"/><circle cx="274.54" cy="112.25" r="1.15"/><circle cx="268.02" cy="54.56" r="1.15"/><circle cx="276.37" cy="112.47" r="1.15"/><circle cx="258.45" cy="101.89" r="1.15"/><circle cx="275.61" cy="116.15" r="1.15"/><circle cx="271.28" cy="79.41" r="1.15"/><circle cx="269.09" cy="96.82" r="1.15"/><circle cx="281.3" cy="112.18" r="1.15"/><circle cx="271.42" cy="104.43" r="1.15"/><circle cx="276.81" cy="78.08" r="1.15"/><circle cx="260.95" cy="96.89" r="1.15"/><circle cx="255.81" cy="93.28" r="1.15"/><circle cx="262.78" cy="75.91" r="1.15"/><circle cx="260.13" cy="73" r="1.15"/><circle cx="259.71" cy="102.92" r="1.15"/><circle cx="257.65" cy="99.65" r="1.15"/><circle cx="273.94" cy="119.87" r="1.15"/><circle cx="259.45" cy="109.15" r="1.15"/><circle cx="266.58" cy="107.8" r="1.15"/><circle cx="271.37" cy="99.49" r="1.15"/><circle cx="263.02" cy="89.78" r="1.15"/><circle cx="277.98" cy="57.62" r="1.15"/><circle cx="277.17" cy="119.11" r="1.15"/><circle cx="275.83" cy="62.66" r="1.15"/><circle cx="277.27" cy="115.69" r="1.15"/><circle cx="252.46" cy="90.6" r="1.15"/><circle cx="280.93" cy="119.79" r="1.15"/><circle cx="259.6" cy="89.88" r="1.15"/><circle cx="256.34" cy="117.29" r="1.15"/><circle cx="275.6" cy="111.87" r="1.15"/><circle cx="256.64" cy="104.87" r="1.15"/><circle cx="276.07" cy="62.98" r="1.15"/><circle cx="279.09" cy="114.57" r="1.15"/><circle cx="275.75" cy="91.38" r="1.15"/><circle cx="279.17" cy="89.49" r="1.15"/><circle cx="277.5" cy="82.53" r="1.15"/><circle cx="273.06" cy="113.36" r="1.15"/><circle cx="274.55" cy="93.83" r="1.15"/><circle cx="278.83" cy="98.83" r="1.15"/><circle cx="260.04" cy="93.06" r="1.15"/><circle cx="256.24" cy="111.85" r="1.15"/><circle cx="253.78" cy="95.25" r="1.15"/><circle cx="256.39" cy="96.96" r="1.15"/><circle cx="267.14" cy="95.37" r="1.15"/><circle cx="278.23" cy="93.55" r="1.15"/><circle cx="277.56" cy="119.83" r="1.15"/><circle cx="269.1" cy="96.9" r="1.15"/><circle cx="277.55" cy="89.59" r="1.15"/><circle cx="264.73" cy="103" r="1.15"/><circle cx="254.29" cy="48.92" r="1.15"/><circle cx="271.34" cy="90.48" r="1.15"/><circle cx="270.53" cy="119.61" r="1.15"/><circle cx="280.32" cy="89.04" r="1.15"/><circle cx="281.84" cy="105.92" r="1.15"/><circle cx="266.73" cy="94.46" r="1.15"/><circle cx="253.03" cy="64.21" r="1.15"/><circle cx="271.01" cy="87.92" r="1.15"/><circle cx="278.2" cy="105.39" r="1.15"/><circle cx="266.43" cy="103.58" r="1.15"/><circle cx="275.43" cy="93.99" r="1.15"/><circle cx="265.23" cy="112.81" r="1.15"/><circle cx="268.84" cy="99.89" r="1.15"/><circle cx="260.9" cy="76.92" r="1.15"/><circle cx="264.27" cy="76.78" r="1.15"/><circle cx="260.26" cy="94.68" r="1.15"/><circle cx="281.64" cy="94.6" r="1.15"/><circle cx="276.08" cy="89.93" r="1.15"/><circle cx="261.64" cy="105.89" r="1.15"/><circle cx="269.83" cy="107.97" r="1.15"/><circle cx="275.84" cy="90.55" r="1.15"/><circle cx="273.97" cy="119.5" r="1.15"/><circle cx="268.58" cy="66.45" r="1.15"/><circle cx="261.13" cy="119.4" r="1.15"/><circle cx="257.77" cy="119.84" r="1.15"/><circle cx="270.5" cy="59.61" r="1.15"/><circle cx="275.99" cy="89.82" r="1.15"/><circle cx="270.6" cy="61.91" r="1.15"/><circle cx="271.06" cy="91.12" r="1.15"/><circle cx="270.13" cy="88.61" r="1.15"/><circle cx="258.46" cy="89.09" r="1.15"/><circle cx="265.92" cy="89.53" r="1.15"/><circle cx="255.08" cy="86.21" r="1.15"/><circle cx="253.12" cy="114.02" r="1.15"/><circle cx="279.79" cy="84.49" r="1.15"/><circle cx="263.21" cy="89.89" r="1.15"/><circle cx="275.91" cy="77.52" r="1.15"/><circle cx="259.84" cy="92.84" r="1.15"/><circle cx="264.82" cy="107.79" r="1.15"/><circle cx="265.09" cy="106.71" r="1.15"/><circle cx="280.39" cy="90.33" r="1.15"/><circle cx="269.25" cy="119.21" r="1.15"/><circle cx="255.61" cy="119.51" r="1.15"/><circle cx="269.49" cy="79.3" r="1.15"/><circle cx="265.57" cy="60.26" r="1.15"/><circle cx="263.77" cy="119.76" r="1.15"/><circle cx="280.51" cy="91.9" r="1.15"/><circle cx="266.45" cy="41.07" r="1.15"/><circle cx="255.1" cy="100.55" r="1.15"/><circle cx="258.45" cy="90.24" r="1.15"/><circle cx="252.47" cy="115.23" r="1.15"/><circle cx="272.79" cy="119.85" r="1.15"/><circle cx="281.38" cy="116.46" r="1.15"/><circle cx="278.43" cy="117.84" r="1.15"/><circle cx="252.54" cy="116.16" r="1.15"/><circle cx="259.37" cy="87.88" r="1.15"/><circle cx="257.7" cy="87.43" r="1.15"/><circle cx="275.53" cy="119.39" r="1.15"/><circle cx="278.01" cy="88.06" r="1.15"/><circle cx="254.56" cy="87.55" r="1.15"/><circle cx="273.56" cy="90.74" r="1.15"/><circle cx="280.34" cy="97.39" r="1.15"/><circle cx="281.32" cy="110.93" r="1.15"/><circle cx="252.35" cy="87.95" r="1.15"/><circle cx="271.78" cy="119.75" r="1.15"/><circle cx="254.42" cy="78.29" r="1.15"/><circle cx="274.18" cy="107.19" r="1.15"/><circle cx="278.17" cy="114.64" r="1.15"/><circle cx="253.82" cy="95.7" r="1.15"/><circle cx="269.48" cy="103.49" r="1.15"/><circle cx="272.58" cy="98.82" r="1.15"/><circle cx="276.24" cy="115.51" r="1.15"/><circle cx="271.6" cy="103.77" r="1.15"/><circle cx="264.71" cy="90.71" r="1.15"/><circle cx="275.9" cy="102.3" r="1.15"/><circle cx="275.85" cy="53.2" r="1.15"/><circle cx="260.89" cy="92.69" r="1.15"/><circle cx="281.61" cy="118.96" r="1.15"/><circle cx="277.15" cy="88.39" r="1.15"/><circle cx="270.42" cy="105.82" r="1.15"/><circle cx="277.27" cy="43.34" r="1.15"/><circle cx="261.38" cy="91.61" r="1.15"/><circle cx="279" cy="99.49" r="1.15"/><circle cx="272.82" cy="102.89" r="1.15"/><circle cx="279.24" cy="91.59" r="1.15"/><circle cx="260.61" cy="79.72" r="1.15"/><circle cx="260" cy="119.88" r="1.15"/><circle cx="269.83" cy="99.88" r="1.15"/><circle cx="278.98" cy="78.48" r="1.15"/><circle cx="277.33" cy="119.48" r="1.15"/><circle cx="278.36" cy="79.1" r="1.15"/><circle cx="260.32" cy="92.53" r="1.15"/><circle cx="276.53" cy="72.9" r="1.15"/><circle cx="279.78" cy="88.98" r="1.15"/><circle cx="254.59" cy="104.85" r="1.15"/><circle cx="276.24" cy="93.11" r="1.15"/><circle cx="274.81" cy="113.23" r="1.15"/><circle cx="259.11" cy="56.8" r="1.15"/><circle cx="272.6" cy="91.43" r="1.15"/><circle cx="258.28" cy="97.07" r="1.15"/><circle cx="274.83" cy="110.89" r="1.15"/><circle cx="265.98" cy="82.01" r="1.15"/><circle cx="276.52" cy="117.85" r="1.15"/><circle cx="259.08" cy="84.84" r="1.15"/><circle cx="279.27" cy="92.29" r="1.15"/><circle cx="267.86" cy="66.54" r="1.15"/><circle cx="269.92" cy="96.34" r="1.15"/><circle cx="257.85" cy="113.69" r="1.15"/><circle cx="273.31" cy="114.04" r="1.15"/><circle cx="269.16" cy="103.8" r="1.15"/><circle cx="267.72" cy="101.2" r="1.15"/><circle cx="253.36" cy="115.34" r="1.15"/><circle cx="263.37" cy="29.94" r="1.15"/><circle cx="271.24" cy="117.1" r="1.15"/><circle cx="256.75" cy="82.63" r="1.15"/><circle cx="262.49" cy="91.73" r="1.15"/><circle cx="252.63" cy="94.19" r="1.15"/><circle cx="282.11" cy="119.56" r="1.15"/><circle cx="266.78" cy="70.11" r="1.15"/><circle cx="259.95" cy="92.68" r="1.15"/><circle cx="264.95" cy="83.82" r="1.15"/><circle cx="275.32" cy="52.77" r="1.15"/><circle cx="281.29" cy="78.07" r="1.15"/><circle cx="253.15" cy="110.94" r="1.15"/><circle cx="257.49" cy="113.21" r="1.15"/><circle cx="253.55" cy="118.02" r="1.15"/><circle cx="278.47" cy="92.99" r="1.15"/><circle cx="280.8" cy="97.54" r="1.15"/><circle cx="253.95" cy="61.89" r="1.15"/><circle cx="264.08" cy="91.71" r="1.15"/><circle cx="281.16" cy="116.53" r="1.15"/><circle cx="269.16" cy="110.73" r="1.15"/><circle cx="281.08" cy="90.36" r="1.15"/><circle cx="263.95" cy="89.45" r="1.15"/><circle cx="256.86" cy="98.19" r="1.15"/><circle cx="282.15" cy="47.52" r="1.15"/><circle cx="253.17" cy="112.36" r="1.15"/><circle cx="262.7" cy="110.82" r="1.15"/><circle cx="279.5" cy="63.23" r="1.15"/><circle cx="253.43" cy="75.4" r="1.15"/><circle cx="273.57" cy="82.78" r="1.15"/><circle cx="281.96" cy="90.17" r="1.15"/><circle cx="256.4" cy="119.16" r="1.15"/><circle cx="280.56" cy="86.76" r="1.15"/><circle cx="261.08" cy="89.22" r="1.15"/><circle cx="275.04" cy="91.92" r="1.15"/><circle cx="261.85" cy="117.13" r="1.15"/><circle cx="255.77" cy="110.74" r="1.15"/><circle cx="257.12" cy="96.03" r="1.15"/><circle cx="256.35" cy="111.67" r="1.15"/><circle cx="252.38" cy="89.2" r="1.15"/><circle cx="257.93" cy="87.95" r="1.15"/><circle cx="280.2" cy="119.54" r="1.15"/><circle cx="280.39" cy="112.41" r="1.15"/><circle cx="279.02" cy="69.98" r="1.15"/><circle cx="265.6" cy="115.72" r="1.15"/><circle cx="280.23" cy="117.47" r="1.15"/><circle cx="271.1" cy="74.58" r="1.15"/><circle cx="262.33" cy="97.93" r="1.15"/><circle cx="266.52" cy="77.46" r="1.15"/><circle cx="256.34" cy="90.76" r="1.15"/><circle cx="253.72" cy="112.36" r="1.15"/><circle cx="268.82" cy="88.06" r="1.15"/><circle cx="278.47" cy="115.52" r="1.15"/><circle cx="264.52" cy="110.12" r="1.15"/><circle cx="260.24" cy="115.07" r="1.15"/><circle cx="262.17" cy="75.06" r="1.15"/><circle cx="266.93" cy="114.57" r="1.15"/><circle cx="279.46" cy="106.73" r="1.15"/><circle cx="281.75" cy="116.77" r="1.15"/><circle cx="279.21" cy="119.12" r="1.15"/><circle cx="258.42" cy="89.49" r="1.15"/><circle cx="260.7" cy="96.28" r="1.15"/><circle cx="258.13" cy="110.69" r="1.15"/><circle cx="282.13" cy="103.7" r="1.15"/><circle cx="280.12" cy="29.3" r="1.15"/><circle cx="260.8" cy="117.45" r="1.15"/><circle cx="253.75" cy="64.46" r="1.15"/><circle cx="260.92" cy="87.66" r="1.15"/><circle cx="252.49" cy="42.53" r="1.15"/><circle cx="262.36" cy="79.78" r="1.15"/><circle cx="252.06" cy="115.7" r="1.15"/><circle cx="268.01" cy="76.12" r="1.15"/><circle cx="265.23" cy="113.83" r="1.15"/><circle cx="258.64" cy="61.5" r="1.15"/><circle cx="256.2" cy="92.55" r="1.15"/><circle cx="275.42" cy="114.06" r="1.15"/><circle cx="257.98" cy="88.13" r="1.15"/><circle cx="254.66" cy="118.2" r="1.15"/><circle cx="267.06" cy="91.38" r="1.15"/><circle cx="258.26" cy="109.63" r="1.15"/><circle cx="273.52" cy="91.25" r="1.15"/><circle cx="269.72" cy="79.12" r="1.15"/><circle cx="254" cy="113.16" r="1.15"/><circle cx="264.41" cy="87.46" r="1.15"/><circle cx="253.68" cy="87.81" r="1.15"/><circle cx="262.19" cy="79.26" r="1.15"/><circle cx="278.28" cy="74.64" r="1.15"/><circle cx="252.47" cy="95.26" r="1.15"/><circle cx="266.49" cy="61.83" r="1.15"/><circle cx="260.09" cy="69" r="1.15"/><circle cx="277.28" cy="113.82" r="1.15"/><circle cx="256.97" cy="103.52" r="1.15"/><circle cx="270.08" cy="103.25" r="1.15"/><circle cx="267.8" cy="119.85" r="1.15"/><circle cx="267.68" cy="98.36" r="1.15"/><circle cx="273.72" cy="116.5" r="1.15"/><circle cx="278.31" cy="78.4" r="1.15"/><circle cx="273.62" cy="106.54" r="1.15"/><circle cx="274.84" cy="102.58" r="1.15"/><circle cx="278.53" cy="118.94" r="1.15"/><circle cx="267.04" cy="50.71" r="1.15"/><circle cx="268.13" cy="94.38" r="1.15"/><circle cx="252.63" cy="93.62" r="1.15"/><circle cx="258.8" cy="47.07" r="1.15"/><circle cx="255.12" cy="113.97" r="1.15"/><circle cx="276.84" cy="111.17" r="1.15"/><circle cx="254.93" cy="119.6" r="1.15"/><circle cx="257.93" cy="88.52" r="1.15"/><circle cx="270.22" cy="119.72" r="1.15"/><circle cx="267.9" cy="92.39" r="1.15"/><circle cx="255.13" cy="88.41" r="1.15"/><circle cx="273.8" cy="69.46" r="1.15"/><circle cx="255.74" cy="119.45" r="1.15"/><circle cx="267.22" cy="95.22" r="1.15"/><circle cx="255.71" cy="109.26" r="1.15"/><circle cx="256.16" cy="100.99" r="1.15"/><circle cx="278.18" cy="91.9" r="1.15"/><circle cx="269.41" cy="115.41" r="1.15"/><circle cx="257" cy="87.02" r="1.15"/><circle cx="280.5" cy="77.03" r="1.15"/><circle cx="264.78" cy="102.1" r="1.15"/><circle cx="267.98" cy="75.04" r="1.15"/><circle cx="280.62" cy="101.65" r="1.15"/><circle cx="262.29" cy="84.15" r="1.15"/><circle cx="262.19" cy="111.59" r="1.15"/><circle cx="281.83" cy="99.03" r="1.15"/><circle cx="279.75" cy="80.17" r="1.15"/><circle cx="277.77" cy="78.62" r="1.15"/><circle cx="267.73" cy="119.25" r="1.15"/><circle cx="280.4" cy="49.67" r="1.15"/><circle cx="264.83" cy="111.23" r="1.15"/><circle cx="263.08" cy="90.62" r="1.15"/><circle cx="254.11" cy="93.83" r="1.15"/><circle cx="267.35" cy="99.19" r="1.15"/><circle cx="256.24" cy="119.69" r="1.15"/><circle cx="275.61" cy="46.45" r="1.15"/><circle cx="271.25" cy="55.38" r="1.15"/><circle cx="278.88" cy="79.46" r="1.15"/><circle cx="253.04" cy="66.63" r="1.15"/><circle cx="260.08" cy="90.33" r="1.15"/><circle cx="260.31" cy="89.17" r="1.15"/><circle cx="280.1" cy="93.47" r="1.15"/><circle cx="259.62" cy="90.98" r="1.15"/><circle cx="265.18" cy="94.16" r="1.15"/><circle cx="260.74" cy="51.58" r="1.15"/><circle cx="271.68" cy="107.56" r="1.15"/><circle cx="270.07" cy="116.51" r="1.15"/><circle cx="267.62" cy="50.16" r="1.15"/><circle cx="266.18" cy="109.99" r="1.15"/><circle cx="256.51" cy="93.73" r="1.15"/><circle cx="255.99" cy="116.37" r="1.15"/><circle cx="264.36" cy="108.34" r="1.15"/><circle cx="259.4" cy="108.69" r="1.15"/><circle cx="268.61" cy="117.85" r="1.15"/><circle cx="270.54" cy="75.04" r="1.15"/><circle cx="271.77" cy="92.59" r="1.15"/><circle cx="273.59" cy="113.2" r="1.15"/><circle cx="268.66" cy="97.37" r="1.15"/><circle cx="266.26" cy="91.24" r="1.15"/><circle cx="259.36" cy="107.23" r="1.15"/><circle cx="267.58" cy="112.37" r="1.15"/><circle cx="269.8" cy="102.46" r="1.15"/><circle cx="262.72" cy="119.78" r="1.15"/><circle cx="259.25" cy="70.9" r="1.15"/><circle cx="266.94" cy="93.01" r="1.15"/><circle cx="282.02" cy="108.92" r="1.15"/><circle cx="275.47" cy="108.21" r="1.15"/><circle cx="254.03" cy="114.95" r="1.15"/><circle cx="265.38" cy="69.14" r="1.15"/><circle cx="263.79" cy="118.91" r="1.15"/><circle cx="274.36" cy="98.74" r="1.15"/><circle cx="258.85" cy="116.97" r="1.15"/><circle cx="274.45" cy="49.28" r="1.15"/><circle cx="262.25" cy="115.11" r="1.15"/><circle cx="272.53" cy="104.48" r="1.15"/><circle cx="277.84" cy="91.13" r="1.15"/><circle cx="267.74" cy="77.73" r="1.15"/><circle cx="274.6" cy="87.27" r="1.15"/><circle cx="266.45" cy="86.61" r="1.15"/></g>
<path d="M327.1 23.9V124.3H447.7" fill="none" stroke="#a0a0a0" stroke-width="1"/>
<text x="325.3" y="52.2" text-anchor="end" class="tk">10</text>
<text x="325.3" y="87.6" text-anchor="end" class="tk">5</text>
<text x="325.3" y="122.5" text-anchor="end" class="tk">0</text>
<text transform="translate(314.8 76.4) rotate(-90)" text-anchor="middle" textLength="74.5" lengthAdjust="spacingAndGlyphs" class="yl">ANGPTL3 expression</text>
<text x="391.7" y="14" text-anchor="middle" class="ti">Multiple Myeloma</text>
<text x="364.7" y="26.3" class="pv">P=5.74 × 10<tspan dy="-3.6" class="sup">4</tspan></text>
<text x="362.3" y="129.8" text-anchor="middle" class="tk">Mutant</text>
<text x="421.2" y="129.8" text-anchor="middle" class="tk">Wild</text>
<text x="394.5" y="139.3" text-anchor="middle" class="xt">COL3A1 mutation status</text>
<line x1="362.3" y1="56.5" x2="362.3" y2="72.1" stroke="#ff1a1a" stroke-width="1.3"/>
<line x1="362.3" y1="98.4" x2="362.3" y2="119.5" stroke="#ff1a1a" stroke-width="1.3"/>
<rect x="340.2" y="72.1" width="43.9" height="26.3" fill="#fde7e7" stroke="#ff1a1a" stroke-width="1.25"/>
<line x1="340.2" y1="84.4" x2="384.1" y2="84.4" stroke="#ff1a1a" stroke-width="2"/>
<line x1="421.2" y1="42.5" x2="421.2" y2="84.3" stroke="#179a35" stroke-width="1.3"/>
<line x1="421.2" y1="112.5" x2="421.2" y2="119.5" stroke="#179a35" stroke-width="1.3"/>
<rect x="398.6" y="84.3" width="44.8" height="28.2" fill="#d9f5dd" stroke="#179a35" stroke-width="1.25"/>
<line x1="398.6" y1="98.8" x2="443.4" y2="98.8" stroke="#179a35" stroke-width="2"/>
<circle fill="#ff1a1a" cx="351.4" cy="61.6" r="1"/>
<circle fill="#ff1a1a" cx="357.9" cy="58.9" r="1"/>
<circle fill="#ff1a1a" cx="359.5" cy="60.9" r="1"/>
<circle fill="#ff1a1a" cx="361.6" cy="62.5" r="1"/>
<circle fill="#ff1a1a" cx="348" cy="68.4" r="1"/>
<circle fill="#ff1a1a" cx="375.9" cy="69.8" r="1"/>
<circle fill="#ff1a1a" cx="350.7" cy="75.9" r="1"/>
<circle fill="#ff1a1a" cx="361.6" cy="76.2" r="1"/>
<circle fill="#ff1a1a" cx="355.2" cy="79.3" r="1"/>
<circle fill="#ff1a1a" cx="367" cy="78.9" r="1"/>
<circle fill="#ff1a1a" cx="357.1" cy="82" r="1"/>
<circle fill="#ff1a1a" cx="367" cy="82" r="1"/>
<circle fill="#ff1a1a" cx="349.3" cy="83.4" r="1"/>
<circle fill="#ff1a1a" cx="365.3" cy="92" r="1"/>
<circle fill="#ff1a1a" cx="369.8" cy="92.5" r="1"/>
<circle fill="#ff1a1a" cx="375.2" cy="92.5" r="1"/>
<circle fill="#ff1a1a" cx="350" cy="99.4" r="1"/>
<circle fill="#ff1a1a" cx="360.9" cy="100.2" r="1"/>
<circle fill="#ff1a1a" cx="372.1" cy="101.1" r="1"/>
<circle fill="#ff1a1a" cx="375.2" cy="104.3" r="1"/>
<circle fill="#ff1a1a" cx="361.6" cy="107.3" r="1"/>
<circle fill="#ff1a1a" cx="353.4" cy="113.8" r="1"/>
<circle fill="#ff1a1a" cx="375.9" cy="115.2" r="1"/>
<g fill="#028a0f"><circle cx="426.81" cy="79.52" r="1.15"/><circle cx="409.49" cy="60.79" r="1.15"/><circle cx="405.83" cy="67.38" r="1.15"/><circle cx="423.16" cy="82.16" r="1.15"/><circle cx="434.39" cy="98.92" r="1.15"/><circle cx="418.15" cy="94.63" r="1.15"/><circle cx="431.71" cy="79.7" r="1.15"/><circle cx="417.01" cy="92.57" r="1.15"/><circle cx="419.35" cy="101.41" r="1.15"/><circle cx="414.43" cy="85.86" r="1.15"/><circle cx="422.25" cy="104.79" r="1.15"/><circle cx="415.3" cy="105.13" r="1.15"/><circle cx="431.02" cy="79.23" r="1.15"/><circle cx="418.93" cy="98.82" r="1.15"/><circle cx="414.76" cy="114.87" r="1.15"/><circle cx="422.85" cy="116.28" r="1.15"/><circle cx="408.32" cy="94.07" r="1.15"/><circle cx="415.35" cy="59.96" r="1.15"/><circle cx="430.68" cy="71.49" r="1.15"/><circle cx="411.79" cy="50.13" r="1.15"/><circle cx="432.84" cy="102.83" r="1.15"/><circle cx="407.11" cy="120.09" r="1.15"/><circle cx="420.52" cy="95.03" r="1.15"/><circle cx="428.75" cy="59.92" r="1.15"/><circle cx="435.45" cy="96.57" r="1.15"/><circle cx="421.11" cy="97.79" r="1.15"/><circle cx="417.31" cy="88.06" r="1.15"/><circle cx="423.42" cy="106.6" r="1.15"/><circle cx="433.95" cy="106.96" r="1.15"/><circle cx="421.35" cy="88.56" r="1.15"/><circle cx="416.86" cy="117.94" r="1.15"/><circle cx="422.43" cy="104.23" r="1.15"/><circle cx="431.92" cy="94.5" r="1.15"/><circle cx="420.2" cy="48.68" r="1.15"/><circle cx="424.31" cy="102.08" r="1.15"/><circle cx="415.93" cy="37.55" r="1.15"/><circle cx="430.01" cy="97.05" r="1.15"/><circle cx="415.18" cy="115.35" r="1.15"/><circle cx="430.32" cy="44.63" r="1.15"/><circle cx="408.99" cy="98.07" r="1.15"/><circle cx="426.26" cy="63.82" r="1.15"/><circle cx="435.21" cy="74.66" r="1.15"/><circle cx="418.24" cy="64.78" r="1.15"/><circle cx="414.34" cy="115.87" r="1.15"/><circle cx="420.75" cy="98.13" r="1.15"/><circle cx="411.14" cy="114.73" r="1.15"/><circle cx="423.67" cy="91.25" r="1.15"/><circle cx="435.31" cy="106.85" r="1.15"/><circle cx="406.96" cy="90.88" r="1.15"/><circle cx="429.17" cy="103.65" r="1.15"/><circle cx="426.28" cy="109.39" r="1.15"/><circle cx="414.77" cy="120.16" r="1.15"/><circle cx="423.17" cy="71.68" r="1.15"/><circle cx="411.56" cy="89.05" r="1.15"/><circle cx="422.19" cy="98.92" r="1.15"/><circle cx="424.97" cy="111.62" r="1.15"/><circle cx="435.41" cy="96.97" r="1.15"/><circle cx="417.95" cy="94.48" r="1.15"/><circle cx="410.37" cy="117.13" r="1.15"/><circle cx="408.88" cy="83" r="1.15"/><circle cx="410.78" cy="117.9" r="1.15"/><circle cx="430.23" cy="97.5" r="1.15"/><circle cx="429.74" cy="92.25" r="1.15"/><circle cx="406.07" cy="119.26" r="1.15"/><circle cx="415.32" cy="81.49" r="1.15"/><circle cx="416.24" cy="86.3" r="1.15"/><circle cx="413.64" cy="115.4" r="1.15"/><circle cx="432.63" cy="117.92" r="1.15"/><circle cx="416.1" cy="94.03" r="1.15"/><circle cx="417.19" cy="101.55" r="1.15"/><circle cx="432.24" cy="119.53" r="1.15"/><circle cx="434.3" cy="94.01" r="1.15"/><circle cx="424.18" cy="102.11" r="1.15"/><circle cx="407.01" cy="112.52" r="1.15"/><circle cx="431.17" cy="57.24" r="1.15"/><circle cx="432.49" cy="108.95" r="1.15"/><circle cx="414.75" cy="75.29" r="1.15"/><circle cx="434.31" cy="92.85" r="1.15"/><circle cx="434" cy="99.04" r="1.15"/><circle cx="417.32" cy="112.75" r="1.15"/><circle cx="412.3" cy="86.13" r="1.15"/><circle cx="431.78" cy="109.26" r="1.15"/><circle cx="429.32" cy="99.66" r="1.15"/><circle cx="410.87" cy="112.74" r="1.15"/><circle cx="411.26" cy="106.56" r="1.15"/><circle cx="414.36" cy="46.88" r="1.15"/><circle cx="409.12" cy="95.23" r="1.15"/><circle cx="417.19" cy="96.84" r="1.15"/><circle cx="407.65" cy="104.1" r="1.15"/><circle cx="430.31" cy="117.06" r="1.15"/><circle cx="413" cy="106.95" r="1.15"/><circle cx="414.15" cy="114.62" r="1.15"/><circle cx="406.74" cy="112.96" r="1.15"/><circle cx="415.87" cy="89.27" r="1.15"/><circle cx="426.73" cy="115.89" r="1.15"/><circle cx="413.74" cy="118.17" r="1.15"/><circle cx="409.51" cy="72.68" r="1.15"/><circle cx="430.62" cy="101.91" r="1.15"/><circle cx="410.44" cy="76.79" r="1.15"/><circle cx="427.23" cy="106.86" r="1.15"/><circle cx="434.26" cy="105.55" r="1.15"/><circle cx="434.04" cy="114.01" r="1.15"/><circle cx="412.47" cy="98.52" r="1.15"/><circle cx="409.6" cy="101.39" r="1.15"/><circle cx="413.47" cy="86.82" r="1.15"/><circle cx="423.21" cy="63.06" r="1.15"/><circle cx="413.04" cy="106.03" r="1.15"/><circle cx="412.03" cy="92.52" r="1.15"/><circle cx="409.36" cy="67.14" r="1.15"/><circle cx="421.87" cy="98.04" r="1.15"/><circle cx="428.7" cy="111.38" r="1.15"/><circle cx="425.29" cy="105.11" r="1.15"/><circle cx="414.96" cy="94.87" r="1.15"/><circle cx="408.26" cy="104.83" r="1.15"/><circle cx="431.06" cy="115.13" r="1.15"/><circle cx="425.45" cy="108.61" r="1.15"/><circle cx="422.45" cy="117.58" r="1.15"/><circle cx="420.61" cy="106.39" r="1.15"/><circle cx="407.66" cy="109.93" r="1.15"/><circle cx="412.45" cy="109.14" r="1.15"/><circle cx="427.06" cy="116.96" r="1.15"/><circle cx="417.72" cy="110.73" r="1.15"/><circle cx="428.79" cy="61.66" r="1.15"/><circle cx="431.37" cy="65.59" r="1.15"/><circle cx="413.94" cy="116.74" r="1.15"/><circle cx="425.95" cy="119.9" r="1.15"/><circle cx="416.17" cy="89.31" r="1.15"/><circle cx="425.34" cy="103.59" r="1.15"/><circle cx="413.1" cy="87.24" r="1.15"/><circle cx="416.19" cy="70.99" r="1.15"/><circle cx="411.11" cy="91.33" r="1.15"/><circle cx="432.9" cy="117.35" r="1.15"/><circle cx="426.94" cy="85.22" r="1.15"/><circle cx="406.89" cy="119.8" r="1.15"/><circle cx="411.6" cy="115.67" r="1.15"/><circle cx="417.05" cy="109.59" r="1.15"/><circle cx="414.97" cy="119.81" r="1.15"/><circle cx="411.05" cy="90.78" r="1.15"/><circle cx="422.69" cy="72.07" r="1.15"/><circle cx="413.29" cy="86.24" r="1.15"/><circle cx="426.09" cy="102.37" r="1.15"/><circle cx="405.73" cy="107.07" r="1.15"/><circle cx="428.84" cy="72.78" r="1.15"/><circle cx="406.98" cy="110.51" r="1.15"/><circle cx="423.8" cy="69.88" r="1.15"/><circle cx="412.98" cy="119.73" r="1.15"/><circle cx="429.28" cy="117.5" r="1.15"/><circle cx="432.95" cy="113.93" r="1.15"/><circle cx="408.27" cy="84.33" r="1.15"/><circle cx="417.43" cy="87.51" r="1.15"/><circle cx="430.4" cy="84.44" r="1.15"/><circle cx="408.38" cy="110.79" r="1.15"/><circle cx="418.33" cy="53.29" r="1.15"/><circle cx="426.31" cy="57.4" r="1.15"/><circle cx="430.43" cy="84.96" r="1.15"/><circle cx="419.19" cy="91.37" r="1.15"/><circle cx="426.51" cy="119.55" r="1.15"/><circle cx="420.95" cy="102.73" r="1.15"/><circle cx="409.5" cy="57.93" r="1.15"/><circle cx="407" cy="82.67" r="1.15"/><circle cx="429.71" cy="87.04" r="1.15"/><circle cx="421.98" cy="111.89" r="1.15"/><circle cx="424.7" cy="47.42" r="1.15"/><circle cx="413.14" cy="96.25" r="1.15"/><circle cx="416.36" cy="119.36" r="1.15"/><circle cx="411.7" cy="103.64" r="1.15"/><circle cx="409.77" cy="109.18" r="1.15"/><circle cx="425.68" cy="86.8" r="1.15"/><circle cx="412.9" cy="112.94" r="1.15"/><circle cx="418.96" cy="97.91" r="1.15"/><circle cx="416.17" cy="55.97" r="1.15"/><circle cx="432.06" cy="109.79" r="1.15"/><circle cx="422.49" cy="116.39" r="1.15"/><circle cx="430" cy="107.92" r="1.15"/><circle cx="428.36" cy="96" r="1.15"/><circle cx="425.56" cy="115.41" r="1.15"/><circle cx="419.44" cy="93.08" r="1.15"/><circle cx="430.47" cy="82.09" r="1.15"/><circle cx="414.32" cy="117.38" r="1.15"/><circle cx="411.85" cy="106.45" r="1.15"/><circle cx="414.07" cy="119.33" r="1.15"/><circle cx="426.61" cy="114.4" r="1.15"/><circle cx="409.07" cy="101.65" r="1.15"/><circle cx="419.67" cy="108.42" r="1.15"/><circle cx="410.71" cy="106.31" r="1.15"/><circle cx="406.02" cy="118.91" r="1.15"/><circle cx="428.06" cy="39.15" r="1.15"/><circle cx="427.07" cy="118.48" r="1.15"/><circle cx="422.5" cy="43.91" r="1.15"/><circle cx="420.27" cy="117.58" r="1.15"/><circle cx="411.36" cy="102.4" r="1.15"/><circle cx="405.95" cy="96.3" r="1.15"/><circle cx="424.91" cy="60.07" r="1.15"/><circle cx="433.57" cy="91.39" r="1.15"/><circle cx="413.19" cy="89.95" r="1.15"/><circle cx="409.83" cy="112.64" r="1.15"/><circle cx="428.78" cy="119.92" r="1.15"/><circle cx="414.53" cy="72.06" r="1.15"/><circle cx="424.72" cy="114.81" r="1.15"/><circle cx="433.32" cy="71.14" r="1.15"/><circle cx="429.08" cy="115.44" r="1.15"/><circle cx="427.82" cy="73.31" r="1.15"/><circle cx="411.2" cy="108.3" r="1.15"/><circle cx="415.24" cy="74.01" r="1.15"/><circle cx="422.12" cy="106" r="1.15"/><circle cx="430.48" cy="105.96" r="1.15"/><circle cx="406.93" cy="112.88" r="1.15"/><circle cx="424.42" cy="94.92" r="1.15"/><circle cx="426.73" cy="74.77" r="1.15"/><circle cx="433.86" cy="62.22" r="1.15"/><circle cx="420.59" cy="99.11" r="1.15"/><circle cx="414.63" cy="115.83" r="1.15"/><circle cx="408.09" cy="94.1" r="1.15"/><circle cx="410.58" cy="87.9" r="1.15"/><circle cx="434.6" cy="101.91" r="1.15"/><circle cx="406.89" cy="118.27" r="1.15"/><circle cx="411.39" cy="102.12" r="1.15"/><circle cx="405.78" cy="85.87" r="1.15"/><circle cx="431.19" cy="71.88" r="1.15"/><circle cx="418.38" cy="79.25" r="1.15"/><circle cx="425.42" cy="110.68" r="1.15"/><circle cx="418.25" cy="97.95" r="1.15"/><circle cx="418.77" cy="107.64" r="1.15"/><circle cx="430.32" cy="89.17" r="1.15"/><circle cx="410.6" cy="62.4" r="1.15"/><circle cx="418.91" cy="109.99" r="1.15"/><circle cx="416.07" cy="95.12" r="1.15"/><circle cx="408.23" cy="114.47" r="1.15"/><circle cx="419.42" cy="108.46" r="1.15"/><circle cx="432.78" cy="46.94" r="1.15"/><circle cx="434.74" cy="68.19" r="1.15"/><circle cx="424.17" cy="49.36" r="1.15"/><circle cx="407.49" cy="75.94" r="1.15"/><circle cx="423.85" cy="88.57" r="1.15"/><circle cx="422.72" cy="109.92" r="1.15"/><circle cx="420.03" cy="51.65" r="1.15"/><circle cx="414.62" cy="90.25" r="1.15"/><circle cx="432.08" cy="107.38" r="1.15"/><circle cx="411.33" cy="119.92" r="1.15"/><circle cx="419.03" cy="88.44" r="1.15"/><circle cx="425.38" cy="118.43" r="1.15"/><circle cx="423.01" cy="105.81" r="1.15"/><circle cx="421.49" cy="103.38" r="1.15"/><circle cx="417.51" cy="95.04" r="1.15"/><circle cx="411.08" cy="117.39" r="1.15"/><circle cx="422.03" cy="64.5" r="1.15"/><circle cx="431.39" cy="117.46" r="1.15"/><circle cx="408.53" cy="112.31" r="1.15"/><circle cx="413.2" cy="97.01" r="1.15"/><circle cx="422.21" cy="99.39" r="1.15"/><circle cx="422.77" cy="113.34" r="1.15"/><circle cx="420.99" cy="117.43" r="1.15"/><circle cx="408.09" cy="93.67" r="1.15"/><circle cx="407.89" cy="103.84" r="1.15"/><circle cx="431.43" cy="102.11" r="1.15"/><circle cx="427" cy="95.87" r="1.15"/><circle cx="409.12" cy="83.36" r="1.15"/><circle cx="427.2" cy="39.74" r="1.15"/><circle cx="430.44" cy="117.82" r="1.15"/><circle cx="410.8" cy="104.72" r="1.15"/><circle cx="422.48" cy="49.81" r="1.15"/><circle cx="409.78" cy="80.89" r="1.15"/><circle cx="407.42" cy="80.72" r="1.15"/><circle cx="416.8" cy="112.97" r="1.15"/><circle cx="423.41" cy="120.05" r="1.15"/><circle cx="414.64" cy="113.83" r="1.15"/><circle cx="418.39" cy="86.77" r="1.15"/><circle cx="424.21" cy="64.71" r="1.15"/><circle cx="422.48" cy="67.18" r="1.15"/><circle cx="431.65" cy="60.37" r="1.15"/><circle cx="427.91" cy="115.45" r="1.15"/><circle cx="428.46" cy="107.49" r="1.15"/><circle cx="430.3" cy="88.33" r="1.15"/><circle cx="416.82" cy="117.08" r="1.15"/><circle cx="433.95" cy="85.04" r="1.15"/><circle cx="407" cy="85.94" r="1.15"/><circle cx="408.67" cy="92.78" r="1.15"/><circle cx="429.63" cy="95.97" r="1.15"/><circle cx="433.28" cy="117.43" r="1.15"/><circle cx="413.29" cy="88.64" r="1.15"/><circle cx="419.01" cy="114.55" r="1.15"/><circle cx="423.02" cy="72.25" r="1.15"/><circle cx="406.32" cy="117.41" r="1.15"/><circle cx="429.56" cy="117.52" r="1.15"/><circle cx="422.22" cy="114.83" r="1.15"/><circle cx="426.18" cy="110.31" r="1.15"/><circle cx="410" cy="105.33" r="1.15"/><circle cx="421.75" cy="66.69" r="1.15"/><circle cx="429.78" cy="87.81" r="1.15"/><circle cx="406.11" cy="52.68" r="1.15"/><circle cx="410.2" cy="107.44" r="1.15"/><circle cx="431.72" cy="98.7" r="1.15"/><circle cx="406.76" cy="77.4" r="1.15"/><circle cx="430.09" cy="114.94" r="1.15"/><circle cx="417.4" cy="88.39" r="1.15"/><circle cx="410.42" cy="100.13" r="1.15"/><circle cx="417.42" cy="71.23" r="1.15"/><circle cx="423.9" cy="67.05" r="1.15"/><circle cx="415.51" cy="118.77" r="1.15"/><circle cx="432.34" cy="113.71" r="1.15"/><circle cx="407" cy="93.63" r="1.15"/><circle cx="416.46" cy="115.39" r="1.15"/><circle cx="422.9" cy="100.57" r="1.15"/><circle cx="416.24" cy="104.94" r="1.15"/><circle cx="422.96" cy="120.14" r="1.15"/><circle cx="406.31" cy="107.91" r="1.15"/><circle cx="435.09" cy="101.02" r="1.15"/><circle cx="410.05" cy="119.75" r="1.15"/><circle cx="413.83" cy="88.88" r="1.15"/><circle cx="420.6" cy="111.22" r="1.15"/><circle cx="422.66" cy="111.84" r="1.15"/><circle cx="434.22" cy="97.17" r="1.15"/><circle cx="406.72" cy="39.13" r="1.15"/><circle cx="428.67" cy="95.28" r="1.15"/><circle cx="428.77" cy="67.14" r="1.15"/><circle cx="424.61" cy="91.08" r="1.15"/><circle cx="414.09" cy="106.31" r="1.15"/><circle cx="431.71" cy="78.11" r="1.15"/><circle cx="426" cy="55.25" r="1.15"/><circle cx="428.45" cy="109.54" r="1.15"/><circle cx="420.87" cy="84.91" r="1.15"/><circle cx="416.14" cy="90.96" r="1.15"/><circle cx="417.8" cy="95.86" r="1.15"/><circle cx="415.75" cy="119.32" r="1.15"/><circle cx="435.15" cy="108.49" r="1.15"/><circle cx="416.65" cy="99.82" r="1.15"/><circle cx="412.7" cy="112.74" r="1.15"/><circle cx="409.74" cy="107.06" r="1.15"/><circle cx="431.66" cy="120.13" r="1.15"/><circle cx="418.98" cy="101.37" r="1.15"/><circle cx="414.71" cy="94.81" r="1.15"/><circle cx="407.68" cy="115.42" r="1.15"/><circle cx="414.89" cy="109.68" r="1.15"/><circle cx="422.13" cy="85.65" r="1.15"/><circle cx="415.85" cy="55.56" r="1.15"/><circle cx="423.08" cy="59.69" r="1.15"/><circle cx="411.03" cy="118.62" r="1.15"/><circle cx="435.13" cy="94.13" r="1.15"/><circle cx="428.78" cy="106.64" r="1.15"/><circle cx="431.58" cy="102.73" r="1.15"/><circle cx="420.14" cy="119.06" r="1.15"/><circle cx="413.92" cy="63.13" r="1.15"/><circle cx="406.39" cy="112.09" r="1.15"/><circle cx="413.69" cy="115.58" r="1.15"/><circle cx="412.21" cy="86.95" r="1.15"/><circle cx="411.67" cy="104.3" r="1.15"/><circle cx="431.45" cy="92.83" r="1.15"/><circle cx="411.56" cy="90.21" r="1.15"/><circle cx="434.4" cy="85.23" r="1.15"/><circle cx="408.06" cy="92.94" r="1.15"/><circle cx="431.79" cy="76.17" r="1.15"/><circle cx="409.77" cy="107.5" r="1.15"/><circle cx="421.7" cy="114.73" r="1.15"/><circle cx="424.77" cy="66.68" r="1.15"/><circle cx="412.02" cy="59.26" r="1.15"/><circle cx="428.03" cy="108.29" r="1.15"/><circle cx="417.78" cy="90.16" r="1.15"/><circle cx="415.77" cy="88.42" r="1.15"/><circle cx="418.05" cy="119.43" r="1.15"/><circle cx="424.36" cy="119.75" r="1.15"/><circle cx="420.43" cy="107.87" r="1.15"/><circle cx="413.36" cy="93.12" r="1.15"/><circle cx="406.11" cy="100.81" r="1.15"/><circle cx="422.51" cy="58.65" r="1.15"/><circle cx="407.37" cy="40.99" r="1.15"/><circle cx="427.28" cy="92.19" r="1.15"/><circle cx="408.48" cy="108.16" r="1.15"/><circle cx="409.95" cy="115.88" r="1.15"/><circle cx="408.38" cy="81.95" r="1.15"/><circle cx="418.31" cy="75.55" r="1.15"/><circle cx="423.24" cy="96.56" r="1.15"/><circle cx="425.29" cy="95.61" r="1.15"/><circle cx="415.56" cy="92.91" r="1.15"/><circle cx="413.38" cy="84.82" r="1.15"/><circle cx="428.45" cy="86.54" r="1.15"/><circle cx="414.92" cy="80.75" r="1.15"/><circle cx="434.83" cy="81.21" r="1.15"/><circle cx="413.99" cy="101.37" r="1.15"/><circle cx="433.74" cy="97.45" r="1.15"/><circle cx="405.97" cy="116.75" r="1.15"/><circle cx="425.23" cy="100.13" r="1.15"/><circle cx="416.5" cy="81" r="1.15"/><circle cx="412.5" cy="40.19" r="1.15"/><circle cx="408.38" cy="83.4" r="1.15"/><circle cx="409.7" cy="119.92" r="1.15"/><circle cx="420.66" cy="119.33" r="1.15"/><circle cx="411.12" cy="95.6" r="1.15"/><circle cx="416.6" cy="54.97" r="1.15"/><circle cx="410.99" cy="116.12" r="1.15"/><circle cx="433.16" cy="85.01" r="1.15"/><circle cx="406.57" cy="115.67" r="1.15"/><circle cx="412.93" cy="80.46" r="1.15"/><circle cx="420.57" cy="43.07" r="1.15"/><circle cx="415.96" cy="90.9" r="1.15"/><circle cx="419.41" cy="77.39" r="1.15"/><circle cx="432.62" cy="108.45" r="1.15"/><circle cx="427.55" cy="117.62" r="1.15"/><circle cx="424.93" cy="119.14" r="1.15"/><circle cx="431.45" cy="104.18" r="1.15"/><circle cx="422.51" cy="119.34" r="1.15"/><circle cx="433.09" cy="103.74" r="1.15"/><circle cx="424.39" cy="53.65" r="1.15"/><circle cx="413.21" cy="113.43" r="1.15"/><circle cx="418.63" cy="111.82" r="1.15"/><circle cx="411.76" cy="113.17" r="1.15"/><circle cx="424.85" cy="83.05" r="1.15"/><circle cx="435.33" cy="109.84" r="1.15"/><circle cx="422.67" cy="113.7" r="1.15"/><circle cx="431.42" cy="115.86" r="1.15"/><circle cx="413.66" cy="67.61" r="1.15"/><circle cx="430.22" cy="84.09" r="1.15"/><circle cx="415.58" cy="110.72" r="1.15"/><circle cx="432.25" cy="99.59" r="1.15"/><circle cx="426.05" cy="115.68" r="1.15"/><circle cx="419.2" cy="93.14" r="1.15"/><circle cx="432.01" cy="94.2" r="1.15"/><circle cx="432.03" cy="113.95" r="1.15"/><circle cx="428.94" cy="106.45" r="1.15"/><circle cx="411.13" cy="68.5" r="1.15"/><circle cx="435.35" cy="68.4" r="1.15"/><circle cx="406.43" cy="109.89" r="1.15"/><circle cx="434.74" cy="117.48" r="1.15"/><circle cx="432.87" cy="120.11" r="1.15"/><circle cx="427.63" cy="116.07" r="1.15"/><circle cx="410.73" cy="117.99" r="1.15"/><circle cx="408.39" cy="88.2" r="1.15"/><circle cx="433.07" cy="107.59" r="1.15"/><circle cx="431.98" cy="86.25" r="1.15"/><circle cx="406.68" cy="44.14" r="1.15"/><circle cx="429.3" cy="113.05" r="1.15"/><circle cx="406.83" cy="87.81" r="1.15"/><circle cx="412.6" cy="98.52" r="1.15"/><circle cx="408.83" cy="102.61" r="1.15"/><circle cx="435.23" cy="120" r="1.15"/><circle cx="431.88" cy="108.86" r="1.15"/><circle cx="420.22" cy="117.16" r="1.15"/><circle cx="418.47" cy="116.61" r="1.15"/><circle cx="426.12" cy="115.06" r="1.15"/><circle cx="427.7" cy="116.17" r="1.15"/><circle cx="409.05" cy="98.76" r="1.15"/><circle cx="420.49" cy="106.82" r="1.15"/><circle cx="416.11" cy="60.2" r="1.15"/><circle cx="434.53" cy="113.76" r="1.15"/><circle cx="427.5" cy="65.53" r="1.15"/><circle cx="410.98" cy="111.24" r="1.15"/><circle cx="407.75" cy="111.7" r="1.15"/><circle cx="420.86" cy="119.77" r="1.15"/><circle cx="422.29" cy="103.83" r="1.15"/><circle cx="406.02" cy="106.33" r="1.15"/><circle cx="425.16" cy="87.89" r="1.15"/><circle cx="422.05" cy="96.25" r="1.15"/><circle cx="434.97" cy="87.76" r="1.15"/><circle cx="427.09" cy="66.89" r="1.15"/><circle cx="415.18" cy="104.32" r="1.15"/><circle cx="434.69" cy="103.23" r="1.15"/><circle cx="417.19" cy="104.99" r="1.15"/><circle cx="409.96" cy="103.73" r="1.15"/><circle cx="405.86" cy="36.66" r="1.15"/><circle cx="433.3" cy="92.55" r="1.15"/><circle cx="423.91" cy="112.24" r="1.15"/><circle cx="412.87" cy="105.54" r="1.15"/><circle cx="409.16" cy="114.36" r="1.15"/><circle cx="429.06" cy="71.54" r="1.15"/><circle cx="407.18" cy="61.72" r="1.15"/><circle cx="415.37" cy="87.54" r="1.15"/><circle cx="422.06" cy="90.32" r="1.15"/><circle cx="434.65" cy="108.9" r="1.15"/><circle cx="427.94" cy="120.19" r="1.15"/><circle cx="420.9" cy="69.98" r="1.15"/><circle cx="435.34" cy="93.45" r="1.15"/><circle cx="424.46" cy="113.06" r="1.15"/><circle cx="416.99" cy="84.69" r="1.15"/><circle cx="417.43" cy="86.49" r="1.15"/><circle cx="423.96" cy="97.28" r="1.15"/><circle cx="415.3" cy="88.52" r="1.15"/><circle cx="421.88" cy="91.32" r="1.15"/><circle cx="423.95" cy="113.46" r="1.15"/><circle cx="432.78" cy="111.68" r="1.15"/><circle cx="427.2" cy="100.26" r="1.15"/><circle cx="419.9" cy="97.52" r="1.15"/><circle cx="409.93" cy="113.54" r="1.15"/><circle cx="421.46" cy="58.13" r="1.15"/><circle cx="421.42" cy="97.41" r="1.15"/><circle cx="412.81" cy="75.64" r="1.15"/><circle cx="430.19" cy="115.3" r="1.15"/><circle cx="424.79" cy="100.98" r="1.15"/><circle cx="432.34" cy="73.72" r="1.15"/><circle cx="406.99" cy="67.83" r="1.15"/><circle cx="430.5" cy="105.31" r="1.15"/><circle cx="409.37" cy="75.04" r="1.15"/><circle cx="413.19" cy="115.96" r="1.15"/><circle cx="416.33" cy="117.8" r="1.15"/><circle cx="421.24" cy="77.03" r="1.15"/><circle cx="408.32" cy="101.39" r="1.15"/><circle cx="435.41" cy="104.52" r="1.15"/><circle cx="419.09" cy="87.49" r="1.15"/><circle cx="429.49" cy="99.99" r="1.15"/><circle cx="410.17" cy="83.1" r="1.15"/><circle cx="416.63" cy="88.35" r="1.15"/><circle cx="412.78" cy="97.6" r="1.15"/><circle cx="415.83" cy="105.88" r="1.15"/><circle cx="406.23" cy="105.31" r="1.15"/><circle cx="422.7" cy="114.27" r="1.15"/><circle cx="411.02" cy="119.42" r="1.15"/><circle cx="413.88" cy="86.15" r="1.15"/><circle cx="412.91" cy="108.44" r="1.15"/><circle cx="408.42" cy="72.8" r="1.15"/><circle cx="431.29" cy="90.9" r="1.15"/><circle cx="418.31" cy="114.24" r="1.15"/><circle cx="424.11" cy="78.52" r="1.15"/><circle cx="407.01" cy="105.84" r="1.15"/><circle cx="416.64" cy="101.95" r="1.15"/><circle cx="414.5" cy="86.47" r="1.15"/><circle cx="425.02" cy="103.85" r="1.15"/><circle cx="416.2" cy="75.99" r="1.15"/><circle cx="422.95" cy="105.08" r="1.15"/><circle cx="411.41" cy="58.77" r="1.15"/><circle cx="426.91" cy="46.92" r="1.15"/><circle cx="425.53" cy="105.79" r="1.15"/><circle cx="407.81" cy="108.15" r="1.15"/></g>
<path d="M18.5 161.5V261.5H151" fill="none" stroke="#a0a0a0" stroke-width="1"/>
<text x="16.7" y="184.8" text-anchor="end" class="tk">9</text>
<text x="16.7" y="209.9" text-anchor="end" class="tk">6</text>
<text x="16.7" y="234.7" text-anchor="end" class="tk">3</text>
<text x="16.7" y="259.4" text-anchor="end" class="tk">0</text>
<text transform="translate(9.8 213.4) rotate(-90)" text-anchor="middle" textLength="74.5" lengthAdjust="spacingAndGlyphs" class="yl">ANGPTL3 expression</text>
<text x="84.7" y="151.2" text-anchor="middle" class="ti">Multiple Myeloma</text>
<text x="52.1" y="164.6" class="pv">P=4.85 × 10<tspan dy="-3.6" class="sup">4</tspan></text>
<text x="54.7" y="266.8" text-anchor="middle" class="tk">Mutant</text>
<text x="115" y="266.8" text-anchor="middle" class="tk">Wild</text>
<text x="85" y="276.8" text-anchor="middle" class="xt">ITGAM mutation status</text>
<rect x="32" y="244.4" width="45.4" height="12.8" fill="#fde7e7" stroke="#ff1a1a" stroke-width="1.25"/>
<line x1="32" y1="257.2" x2="77.4" y2="257.2" stroke="#ff1a1a" stroke-width="2"/>
<line x1="115" y1="165.6" x2="115" y2="215.2" stroke="#179a35" stroke-width="1.3"/>
<line x1="115" y1="248.5" x2="115" y2="257" stroke="#179a35" stroke-width="1.3"/>
<rect x="92" y="215.2" width="45.8" height="33.3" fill="#d9f5dd" stroke="#179a35" stroke-width="1.25"/>
<line x1="92" y1="231.9" x2="137.8" y2="231.9" stroke="#179a35" stroke-width="2"/>
<circle fill="#ff1a1a" cx="52" cy="221.6" r="1"/>
<circle fill="#ff1a1a" cx="60.3" cy="226.5" r="1"/>
<circle fill="#ff1a1a" cx="42.1" cy="242.3" r="1"/>
<circle fill="#ff1a1a" cx="54.7" cy="241.4" r="1"/>
<circle fill="#ff1a1a" cx="56.6" cy="241.4" r="1"/>
<circle fill="#ff1a1a" cx="43.5" cy="248.2" r="1"/>
<circle fill="#ff1a1a" cx="54.7" cy="249.3" r="1"/>
<circle fill="#ff1a1a" cx="63.9" cy="249.6" r="1"/>
<circle fill="#ff1a1a" cx="39.5" cy="254.6" r="1"/>
<circle fill="#ff1a1a" cx="39.2" cy="256.2" r="1"/>
<circle fill="#ff1a1a" cx="55.3" cy="256.2" r="1"/>
<g fill="#028a0f"><circle cx="111.5" cy="215.45" r="1.15"/><circle cx="114.9" cy="230.24" r="1.15"/><circle cx="122.45" cy="197.6" r="1.15"/><circle cx="117.69" cy="256.68" r="1.15"/><circle cx="113.9" cy="234.39" r="1.15"/><circle cx="112.53" cy="205.9" r="1.15"/><circle cx="126.32" cy="233.65" r="1.15"/><circle cx="114.75" cy="235.89" r="1.15"/><circle cx="124.42" cy="231.14" r="1.15"/><circle cx="121.97" cy="220.96" r="1.15"/><circle cx="101.68" cy="238.43" r="1.15"/><circle cx="116.56" cy="220.35" r="1.15"/><circle cx="122.83" cy="214.12" r="1.15"/><circle cx="106.9" cy="253.52" r="1.15"/><circle cx="124.21" cy="255.09" r="1.15"/><circle cx="103.06" cy="254.15" r="1.15"/><circle cx="116.87" cy="215.63" r="1.15"/><circle cx="120.25" cy="255.93" r="1.15"/><circle cx="114.5" cy="218.34" r="1.15"/><circle cx="120.54" cy="255.94" r="1.15"/><circle cx="117.43" cy="237.35" r="1.15"/><circle cx="124.19" cy="166.71" r="1.15"/><circle cx="104.72" cy="202.11" r="1.15"/><circle cx="115.53" cy="242.9" r="1.15"/><circle cx="129.17" cy="256.92" r="1.15"/><circle cx="108.11" cy="246.86" r="1.15"/><circle cx="107.9" cy="244.31" r="1.15"/><circle cx="116.62" cy="203.64" r="1.15"/><circle cx="112.69" cy="231.19" r="1.15"/><circle cx="109.33" cy="256.08" r="1.15"/><circle cx="123.76" cy="202.72" r="1.15"/><circle cx="107.96" cy="203.9" r="1.15"/><circle cx="102.01" cy="250.33" r="1.15"/><circle cx="111.34" cy="229.53" r="1.15"/><circle cx="114.68" cy="234.28" r="1.15"/><circle cx="111.11" cy="226.52" r="1.15"/><circle cx="106.31" cy="210.35" r="1.15"/><circle cx="116.63" cy="193.76" r="1.15"/><circle cx="109.61" cy="256.07" r="1.15"/><circle cx="112.36" cy="229.78" r="1.15"/><circle cx="109.88" cy="227.73" r="1.15"/><circle cx="123.59" cy="246.94" r="1.15"/><circle cx="121.11" cy="245.74" r="1.15"/><circle cx="117.67" cy="210.24" r="1.15"/><circle cx="127.61" cy="234.91" r="1.15"/><circle cx="125.96" cy="235.56" r="1.15"/><circle cx="113.08" cy="255.83" r="1.15"/><circle cx="101.92" cy="222.95" r="1.15"/><circle cx="102.59" cy="203.2" r="1.15"/><circle cx="105.72" cy="225.72" r="1.15"/><circle cx="116.77" cy="193.12" r="1.15"/><circle cx="114.95" cy="210.44" r="1.15"/><circle cx="120.07" cy="220.73" r="1.15"/><circle cx="106.62" cy="245.52" r="1.15"/><circle cx="104.73" cy="206.04" r="1.15"/><circle cx="106.5" cy="194.08" r="1.15"/><circle cx="103.26" cy="254.18" r="1.15"/><circle cx="128.08" cy="212.36" r="1.15"/><circle cx="119.61" cy="237.56" r="1.15"/><circle cx="126.77" cy="248" r="1.15"/><circle cx="104.99" cy="219.96" r="1.15"/><circle cx="120.68" cy="255.87" r="1.15"/><circle cx="124.75" cy="256.43" r="1.15"/><circle cx="107.25" cy="245.6" r="1.15"/><circle cx="109.74" cy="226.63" r="1.15"/><circle cx="104.97" cy="228.01" r="1.15"/><circle cx="109.91" cy="195.35" r="1.15"/><circle cx="104.91" cy="205.69" r="1.15"/><circle cx="128.92" cy="210.6" r="1.15"/><circle cx="101.46" cy="239.1" r="1.15"/><circle cx="119.08" cy="239.87" r="1.15"/><circle cx="116.33" cy="249.51" r="1.15"/><circle cx="113.97" cy="254.46" r="1.15"/><circle cx="112.97" cy="217.24" r="1.15"/><circle cx="103.82" cy="220.41" r="1.15"/><circle cx="104.04" cy="207.19" r="1.15"/><circle cx="129.39" cy="192.92" r="1.15"/><circle cx="115.76" cy="189.5" r="1.15"/><circle cx="110.59" cy="245.79" r="1.15"/><circle cx="114.9" cy="215.82" r="1.15"/><circle cx="103.2" cy="191.54" r="1.15"/><circle cx="125.56" cy="232.91" r="1.15"/><circle cx="116.18" cy="225.62" r="1.15"/><circle cx="104.55" cy="254.65" r="1.15"/><circle cx="126.4" cy="247.09" r="1.15"/><circle cx="107.09" cy="205.21" r="1.15"/><circle cx="101.44" cy="192.65" r="1.15"/><circle cx="128.55" cy="225.55" r="1.15"/><circle cx="127.89" cy="242.24" r="1.15"/><circle cx="101.95" cy="221.85" r="1.15"/><circle cx="113.54" cy="242.98" r="1.15"/><circle cx="122.03" cy="248.6" r="1.15"/><circle cx="123.34" cy="251.21" r="1.15"/><circle cx="102.51" cy="245.3" r="1.15"/><circle cx="103.27" cy="228.1" r="1.15"/><circle cx="123.35" cy="228.59" r="1.15"/><circle cx="113.88" cy="225.76" r="1.15"/><circle cx="115.39" cy="256.58" r="1.15"/><circle cx="119.26" cy="254.32" r="1.15"/><circle cx="117.26" cy="253" r="1.15"/><circle cx="111.37" cy="241.67" r="1.15"/><circle cx="105.25" cy="221.42" r="1.15"/><circle cx="127.8" cy="251.56" r="1.15"/><circle cx="124.93" cy="243.08" r="1.15"/><circle cx="114.43" cy="201.94" r="1.15"/><circle cx="103.23" cy="252.35" r="1.15"/><circle cx="103.9" cy="201.28" r="1.15"/><circle cx="116.04" cy="232.16" r="1.15"/><circle cx="114.07" cy="253.54" r="1.15"/><circle cx="116.03" cy="251.78" r="1.15"/><circle cx="111.14" cy="231.46" r="1.15"/><circle cx="112.21" cy="250.49" r="1.15"/><circle cx="104.19" cy="250.27" r="1.15"/><circle cx="125.77" cy="248.89" r="1.15"/><circle cx="126.33" cy="231.78" r="1.15"/><circle cx="127.86" cy="256.81" r="1.15"/><circle cx="123.44" cy="232.67" r="1.15"/><circle cx="120.48" cy="227.38" r="1.15"/><circle cx="122.25" cy="249.29" r="1.15"/><circle cx="108.16" cy="252.17" r="1.15"/><circle cx="111.9" cy="256.61" r="1.15"/><circle cx="108.97" cy="230.74" r="1.15"/><circle cx="102.95" cy="199.89" r="1.15"/><circle cx="107.28" cy="226.86" r="1.15"/><circle cx="123.24" cy="225.78" r="1.15"/><circle cx="102.3" cy="218.36" r="1.15"/><circle cx="117.88" cy="248.66" r="1.15"/><circle cx="101.7" cy="175.49" r="1.15"/><circle cx="120.56" cy="224.3" r="1.15"/><circle cx="110.42" cy="208.81" r="1.15"/><circle cx="113.89" cy="209.29" r="1.15"/><circle cx="100.81" cy="193.45" r="1.15"/><circle cx="112.45" cy="189.31" r="1.15"/><circle cx="103.05" cy="238.07" r="1.15"/><circle cx="121.78" cy="248.7" r="1.15"/><circle cx="104.89" cy="220.42" r="1.15"/><circle cx="104.57" cy="242.24" r="1.15"/><circle cx="106.87" cy="250.47" r="1.15"/><circle cx="128.8" cy="243.12" r="1.15"/><circle cx="123.46" cy="167.17" r="1.15"/><circle cx="114.92" cy="233.25" r="1.15"/><circle cx="126.83" cy="212.95" r="1.15"/><circle cx="118.96" cy="215.75" r="1.15"/><circle cx="118.63" cy="250.44" r="1.15"/><circle cx="123.31" cy="205.18" r="1.15"/><circle cx="121.31" cy="254.5" r="1.15"/><circle cx="105.2" cy="241.91" r="1.15"/><circle cx="120.01" cy="183.9" r="1.15"/><circle cx="104.41" cy="216.13" r="1.15"/><circle cx="127.68" cy="207.2" r="1.15"/><circle cx="122.1" cy="196.86" r="1.15"/><circle cx="123.76" cy="206.73" r="1.15"/><circle cx="113.12" cy="226.09" r="1.15"/><circle cx="123.25" cy="207.58" r="1.15"/><circle cx="109.17" cy="202.24" r="1.15"/><circle cx="115.92" cy="184.93" r="1.15"/><circle cx="103.86" cy="188.11" r="1.15"/><circle cx="123.34" cy="183.33" r="1.15"/><circle cx="124.81" cy="248.37" r="1.15"/><circle cx="106.24" cy="249.18" r="1.15"/><circle cx="107.36" cy="234.7" r="1.15"/><circle cx="126.84" cy="232.39" r="1.15"/><circle cx="121.1" cy="220" r="1.15"/><circle cx="123.23" cy="239.07" r="1.15"/><circle cx="120.3" cy="211.27" r="1.15"/><circle cx="124.45" cy="189.01" r="1.15"/><circle cx="103.03" cy="238.13" r="1.15"/><circle cx="124.75" cy="222.11" r="1.15"/><circle cx="117.75" cy="242.55" r="1.15"/><circle cx="123.5" cy="206.28" r="1.15"/><circle cx="114.68" cy="256.94" r="1.15"/><circle cx="103.71" cy="256.8" r="1.15"/><circle cx="112.64" cy="209.07" r="1.15"/><circle cx="113.77" cy="225.17" r="1.15"/><circle cx="106.7" cy="242.83" r="1.15"/><circle cx="124.99" cy="241.61" r="1.15"/><circle cx="108.97" cy="224.24" r="1.15"/><circle cx="108.36" cy="254.67" r="1.15"/><circle cx="113.32" cy="218.98" r="1.15"/><circle cx="123.91" cy="221.56" r="1.15"/><circle cx="120.31" cy="253.43" r="1.15"/><circle cx="124.37" cy="256.44" r="1.15"/><circle cx="108.37" cy="251.01" r="1.15"/><circle cx="111.01" cy="185.61" r="1.15"/><circle cx="126.31" cy="249.48" r="1.15"/><circle cx="126.42" cy="224.82" r="1.15"/><circle cx="114.99" cy="238.91" r="1.15"/><circle cx="115.2" cy="186.02" r="1.15"/><circle cx="105.99" cy="172.24" r="1.15"/><circle cx="105.2" cy="206.94" r="1.15"/><circle cx="100.51" cy="230.15" r="1.15"/><circle cx="127.91" cy="251.34" r="1.15"/><circle cx="123.97" cy="234.92" r="1.15"/><circle cx="110.72" cy="248.45" r="1.15"/><circle cx="116.53" cy="254.18" r="1.15"/><circle cx="115.4" cy="203.24" r="1.15"/><circle cx="127.43" cy="240.09" r="1.15"/><circle cx="119.82" cy="199.19" r="1.15"/><circle cx="118.6" cy="255.13" r="1.15"/><circle cx="128.28" cy="235.61" r="1.15"/><circle cx="119.67" cy="241.08" r="1.15"/><circle cx="111.4" cy="223.43" r="1.15"/><circle cx="120.12" cy="230.48" r="1.15"/><circle cx="114.95" cy="196.35" r="1.15"/><circle cx="128.81" cy="240.95" r="1.15"/><circle cx="124.71" cy="255.85" r="1.15"/><circle cx="116.66" cy="220.11" r="1.15"/><circle cx="122.28" cy="235.37" r="1.15"/><circle cx="121.64" cy="199.76" r="1.15"/><circle cx="101.52" cy="215.85" r="1.15"/><circle cx="104.47" cy="243.51" r="1.15"/><circle cx="126.35" cy="186.62" r="1.15"/><circle cx="117.54" cy="252.52" r="1.15"/><circle cx="101.85" cy="226.97" r="1.15"/><circle cx="122.17" cy="239.06" r="1.15"/><circle cx="108.65" cy="222.81" r="1.15"/><circle cx="108.94" cy="214.91" r="1.15"/><circle cx="112.7" cy="229.06" r="1.15"/><circle cx="119.32" cy="178.27" r="1.15"/><circle cx="120.12" cy="209.95" r="1.15"/><circle cx="128.43" cy="239.84" r="1.15"/><circle cx="120.53" cy="218.43" r="1.15"/><circle cx="105.19" cy="246.68" r="1.15"/><circle cx="124.45" cy="227.07" r="1.15"/><circle cx="110.57" cy="211.26" r="1.15"/><circle cx="115.46" cy="252.69" r="1.15"/><circle cx="105.2" cy="201.47" r="1.15"/><circle cx="105.45" cy="216.59" r="1.15"/><circle cx="102.05" cy="244.39" r="1.15"/><circle cx="111.61" cy="245.34" r="1.15"/><circle cx="128.4" cy="183.65" r="1.15"/><circle cx="109.47" cy="250.89" r="1.15"/><circle cx="106.22" cy="188.58" r="1.15"/><circle cx="113.21" cy="243.79" r="1.15"/><circle cx="108.05" cy="253.89" r="1.15"/><circle cx="111.68" cy="238.94" r="1.15"/><circle cx="108.24" cy="184.36" r="1.15"/><circle cx="126.85" cy="250.25" r="1.15"/><circle cx="124.78" cy="235.2" r="1.15"/><circle cx="123.08" cy="223.09" r="1.15"/><circle cx="104.91" cy="244.2" r="1.15"/><circle cx="114.14" cy="215.39" r="1.15"/><circle cx="119.95" cy="228.13" r="1.15"/><circle cx="108.49" cy="215.67" r="1.15"/><circle cx="127.11" cy="241.01" r="1.15"/><circle cx="108.86" cy="230.02" r="1.15"/><circle cx="108.03" cy="223.54" r="1.15"/><circle cx="101.7" cy="213.87" r="1.15"/><circle cx="116.93" cy="207.41" r="1.15"/><circle cx="127.76" cy="241.62" r="1.15"/><circle cx="107.56" cy="247.47" r="1.15"/><circle cx="116.41" cy="255.36" r="1.15"/><circle cx="120.16" cy="215.6" r="1.15"/><circle cx="123.93" cy="237.69" r="1.15"/><circle cx="109.4" cy="253.78" r="1.15"/><circle cx="128.55" cy="222.6" r="1.15"/><circle cx="120.57" cy="223.3" r="1.15"/><circle cx="111.94" cy="213.49" r="1.15"/><circle cx="122.03" cy="189.3" r="1.15"/><circle cx="111.88" cy="242.41" r="1.15"/><circle cx="110.64" cy="209.85" r="1.15"/><circle cx="125.78" cy="250.95" r="1.15"/><circle cx="115.61" cy="229.86" r="1.15"/><circle cx="126.64" cy="221.02" r="1.15"/><circle cx="110.32" cy="252.94" r="1.15"/><circle cx="112.48" cy="255.51" r="1.15"/><circle cx="125.21" cy="231.76" r="1.15"/><circle cx="117.26" cy="221.12" r="1.15"/><circle cx="117.14" cy="238.3" r="1.15"/><circle cx="125" cy="246.92" r="1.15"/><circle cx="124.81" cy="211.87" r="1.15"/><circle cx="119.97" cy="252.27" r="1.15"/><circle cx="115.02" cy="215.58" r="1.15"/><circle cx="126.57" cy="198.23" r="1.15"/><circle cx="124.31" cy="216.29" r="1.15"/><circle cx="125.98" cy="222.34" r="1.15"/><circle cx="120.92" cy="253.02" r="1.15"/><circle cx="118.26" cy="218.81" r="1.15"/><circle cx="102.45" cy="246.83" r="1.15"/><circle cx="124.4" cy="225.26" r="1.15"/><circle cx="106.68" cy="246.97" r="1.15"/><circle cx="103.22" cy="249.5" r="1.15"/><circle cx="128.77" cy="220.59" r="1.15"/><circle cx="110.93" cy="210.28" r="1.15"/><circle cx="102.59" cy="219.09" r="1.15"/><circle cx="109.93" cy="206.01" r="1.15"/><circle cx="118.75" cy="256.96" r="1.15"/><circle cx="108.48" cy="252.74" r="1.15"/><circle cx="113.43" cy="255.77" r="1.15"/><circle cx="123.91" cy="228.37" r="1.15"/><circle cx="124.49" cy="256.5" r="1.15"/><circle cx="107.01" cy="253.81" r="1.15"/><circle cx="110.36" cy="223.59" r="1.15"/><circle cx="116.99" cy="243.12" r="1.15"/><circle cx="123.51" cy="249.72" r="1.15"/><circle cx="124.84" cy="250.06" r="1.15"/><circle cx="116.08" cy="209.5" r="1.15"/><circle cx="123.06" cy="256.62" r="1.15"/><circle cx="115.14" cy="256.65" r="1.15"/><circle cx="102.33" cy="236.95" r="1.15"/><circle cx="121.51" cy="223.55" r="1.15"/><circle cx="112.1" cy="226.45" r="1.15"/><circle cx="117.57" cy="231.12" r="1.15"/><circle cx="125.66" cy="249.4" r="1.15"/><circle cx="123.82" cy="168.1" r="1.15"/><circle cx="110.05" cy="184.84" r="1.15"/><circle cx="102.57" cy="173.57" r="1.15"/><circle cx="104.38" cy="233.37" r="1.15"/><circle cx="120.3" cy="234.96" r="1.15"/><circle cx="113.68" cy="218.51" r="1.15"/><circle cx="106.01" cy="242.41" r="1.15"/><circle cx="108.69" cy="238.35" r="1.15"/><circle cx="121.84" cy="250.63" r="1.15"/><circle cx="113.22" cy="230.86" r="1.15"/><circle cx="120.91" cy="250.49" r="1.15"/><circle cx="108.2" cy="250.53" r="1.15"/><circle cx="120.84" cy="228.03" r="1.15"/><circle cx="122.18" cy="181.25" r="1.15"/><circle cx="127.18" cy="187.61" r="1.15"/><circle cx="121.37" cy="217.61" r="1.15"/><circle cx="106.46" cy="255.63" r="1.15"/><circle cx="125.54" cy="256.84" r="1.15"/><circle cx="118.78" cy="217.64" r="1.15"/><circle cx="110.81" cy="247.58" r="1.15"/><circle cx="118.83" cy="251.79" r="1.15"/><circle cx="109.37" cy="170.55" r="1.15"/><circle cx="105.58" cy="256.34" r="1.15"/><circle cx="126.57" cy="241.51" r="1.15"/><circle cx="113.7" cy="210" r="1.15"/><circle cx="103.59" cy="254.13" r="1.15"/><circle cx="123.05" cy="252.16" r="1.15"/><circle cx="129.23" cy="233.81" r="1.15"/><circle cx="123.55" cy="195.38" r="1.15"/><circle cx="124.34" cy="233.48" r="1.15"/><circle cx="103.66" cy="253.14" r="1.15"/><circle cx="115.23" cy="227.83" r="1.15"/><circle cx="107.81" cy="250.05" r="1.15"/><circle cx="126.86" cy="256.73" r="1.15"/><circle cx="127.91" cy="218.4" r="1.15"/><circle cx="113.17" cy="176.88" r="1.15"/><circle cx="111.64" cy="216.97" r="1.15"/><circle cx="124.9" cy="209.14" r="1.15"/><circle cx="100.87" cy="252.93" r="1.15"/><circle cx="117.48" cy="249.87" r="1.15"/><circle cx="100.76" cy="239.94" r="1.15"/><circle cx="123.3" cy="206.98" r="1.15"/><circle cx="101.75" cy="234.31" r="1.15"/><circle cx="115.99" cy="200.11" r="1.15"/><circle cx="109.88" cy="255.32" r="1.15"/><circle cx="126.17" cy="223.9" r="1.15"/><circle cx="119.04" cy="232.93" r="1.15"/><circle cx="107.56" cy="250.19" r="1.15"/><circle cx="111.6" cy="196.64" r="1.15"/><circle cx="117.65" cy="254.06" r="1.15"/><circle cx="106.3" cy="253.21" r="1.15"/><circle cx="117.48" cy="234.79" r="1.15"/><circle cx="121" cy="223.14" r="1.15"/><circle cx="102.46" cy="235.91" r="1.15"/><circle cx="102.06" cy="217.48" r="1.15"/><circle cx="112.11" cy="233.85" r="1.15"/><circle cx="121.2" cy="220.79" r="1.15"/><circle cx="119.34" cy="248.89" r="1.15"/><circle cx="114.18" cy="219.57" r="1.15"/><circle cx="126.86" cy="252.62" r="1.15"/><circle cx="102.32" cy="225.54" r="1.15"/><circle cx="129.12" cy="248.93" r="1.15"/><circle cx="111.88" cy="249.31" r="1.15"/><circle cx="124.39" cy="211.92" r="1.15"/><circle cx="122.01" cy="223.3" r="1.15"/><circle cx="103.22" cy="256.52" r="1.15"/><circle cx="123.78" cy="179.43" r="1.15"/><circle cx="101.91" cy="256.52" r="1.15"/><circle cx="127.49" cy="248.86" r="1.15"/><circle cx="119.98" cy="249.66" r="1.15"/><circle cx="119.02" cy="191.42" r="1.15"/><circle cx="108.13" cy="193.78" r="1.15"/><circle cx="101.03" cy="252.18" r="1.15"/><circle cx="103.51" cy="215.38" r="1.15"/><circle cx="121.09" cy="181.17" r="1.15"/><circle cx="123.9" cy="250.9" r="1.15"/><circle cx="115.35" cy="251.82" r="1.15"/><circle cx="123.32" cy="253.99" r="1.15"/><circle cx="127.07" cy="200.04" r="1.15"/><circle cx="125.19" cy="256.97" r="1.15"/><circle cx="124.32" cy="228.31" r="1.15"/><circle cx="118.48" cy="231.74" r="1.15"/><circle cx="123.69" cy="225.83" r="1.15"/><circle cx="102.07" cy="255.07" r="1.15"/><circle cx="108.94" cy="228.98" r="1.15"/><circle cx="100.72" cy="238.74" r="1.15"/><circle cx="101.2" cy="216.16" r="1.15"/><circle cx="124.03" cy="207.05" r="1.15"/><circle cx="104.04" cy="234.69" r="1.15"/><circle cx="106.51" cy="222.26" r="1.15"/><circle cx="103.7" cy="236.61" r="1.15"/><circle cx="116.34" cy="179.26" r="1.15"/><circle cx="103.23" cy="241.69" r="1.15"/><circle cx="125.14" cy="217.12" r="1.15"/><circle cx="103.44" cy="204.87" r="1.15"/><circle cx="109.28" cy="240.69" r="1.15"/><circle cx="104.79" cy="214.92" r="1.15"/><circle cx="128.88" cy="225.06" r="1.15"/><circle cx="100.7" cy="214.17" r="1.15"/><circle cx="103.8" cy="255.17" r="1.15"/><circle cx="117.86" cy="219.54" r="1.15"/><circle cx="113.71" cy="230.61" r="1.15"/><circle cx="118.22" cy="238.05" r="1.15"/><circle cx="127.08" cy="222.36" r="1.15"/><circle cx="123.6" cy="216.95" r="1.15"/><circle cx="124.78" cy="195.14" r="1.15"/><circle cx="101.39" cy="217.98" r="1.15"/><circle cx="125.15" cy="220.28" r="1.15"/><circle cx="125.97" cy="236.5" r="1.15"/><circle cx="127.84" cy="251.17" r="1.15"/><circle cx="120.99" cy="235.77" r="1.15"/><circle cx="109.22" cy="248.32" r="1.15"/><circle cx="109.91" cy="241.96" r="1.15"/><circle cx="113.34" cy="254.42" r="1.15"/><circle cx="119.47" cy="176.69" r="1.15"/><circle cx="122.61" cy="191.03" r="1.15"/><circle cx="129.33" cy="206.22" r="1.15"/><circle cx="108.45" cy="215.67" r="1.15"/><circle cx="112.46" cy="248.51" r="1.15"/><circle cx="107.19" cy="256.74" r="1.15"/><circle cx="127.21" cy="200.43" r="1.15"/><circle cx="122.84" cy="243.27" r="1.15"/><circle cx="126.3" cy="213.45" r="1.15"/><circle cx="115.93" cy="211.15" r="1.15"/><circle cx="124.44" cy="254.03" r="1.15"/><circle cx="118.68" cy="244.27" r="1.15"/><circle cx="116.08" cy="240.72" r="1.15"/><circle cx="105.17" cy="183.93" r="1.15"/><circle cx="119.35" cy="229.91" r="1.15"/><circle cx="127.7" cy="229.43" r="1.15"/><circle cx="127" cy="238.04" r="1.15"/><circle cx="128.56" cy="219.71" r="1.15"/><circle cx="106.66" cy="254.61" r="1.15"/><circle cx="126.79" cy="246.02" r="1.15"/><circle cx="108.05" cy="256.83" r="1.15"/><circle cx="129.2" cy="218.04" r="1.15"/><circle cx="113.2" cy="251.31" r="1.15"/><circle cx="120.53" cy="219.9" r="1.15"/><circle cx="122.34" cy="216.1" r="1.15"/><circle cx="107.96" cy="248.56" r="1.15"/><circle cx="120.54" cy="256.65" r="1.15"/><circle cx="108.03" cy="250.05" r="1.15"/><circle cx="119.16" cy="184.21" r="1.15"/><circle cx="119.53" cy="226.05" r="1.15"/><circle cx="120.65" cy="225.61" r="1.15"/><circle cx="102.35" cy="244.92" r="1.15"/></g>
<path d="M175 161.5V261.5H303" fill="none" stroke="#a0a0a0" stroke-width="1"/>
<text x="173.2" y="168" text-anchor="end" class="tk">15</text>
<text x="173.2" y="198.7" text-anchor="end" class="tk">10</text>
<text x="173.2" y="229.4" text-anchor="end" class="tk">5</text>
<text x="173.2" y="259.4" text-anchor="end" class="tk">0</text>
<text transform="translate(162.1 213.4) rotate(-90)" text-anchor="middle" textLength="74.5" lengthAdjust="spacingAndGlyphs" class="yl">ANGPTL3 expression</text>
<text x="239" y="151.2" text-anchor="middle" class="ti">Multiple Myeloma</text>
<text x="220.9" y="164.6" class="pv">P=5.57 × 10<tspan dy="-3.6" class="sup">4</tspan></text>
<text x="210" y="266.8" text-anchor="middle" class="tk">Mutant</text>
<text x="268.3" y="266.8" text-anchor="middle" class="tk">Wild</text>
<text x="240.6" y="276.8" text-anchor="middle" class="xt">TMEM59L mutation status</text>
<line x1="210" y1="165.5" x2="210" y2="205.1" stroke="#ff1a1a" stroke-width="1.3"/>
<line x1="210" y1="232.4" x2="210" y2="250.9" stroke="#ff1a1a" stroke-width="1.3"/>
<rect x="187.6" y="205.1" width="44.8" height="27.3" fill="#fde7e7" stroke="#ff1a1a" stroke-width="1.25"/>
<line x1="187.6" y1="214.2" x2="232.4" y2="214.2" stroke="#ff1a1a" stroke-width="2"/>
<line x1="268.3" y1="190.2" x2="268.3" y2="226.5" stroke="#179a35" stroke-width="1.3"/>
<line x1="268.3" y1="250" x2="268.3" y2="257" stroke="#179a35" stroke-width="1.3"/>
<rect x="246.2" y="226.5" width="44.8" height="23.5" fill="#d9f5dd" stroke="#179a35" stroke-width="1.25"/>
<line x1="246.2" y1="238.6" x2="291" y2="238.6" stroke="#179a35" stroke-width="2"/>
<circle fill="#ff1a1a" cx="210" cy="190" r="1"/>
<circle fill="#ff1a1a" cx="206.9" cy="201.5" r="1"/>
<circle fill="#ff1a1a" cx="213.6" cy="204" r="1"/>
<circle fill="#ff1a1a" cx="204.5" cy="209.1" r="1"/>
<circle fill="#ff1a1a" cx="223.3" cy="207.6" r="1"/>
<circle fill="#ff1a1a" cx="209.5" cy="215.5" r="1"/>
<circle fill="#ff1a1a" cx="217.8" cy="216.4" r="1"/>
<circle fill="#ff1a1a" cx="214.9" cy="224.5" r="1"/>
<circle fill="#ff1a1a" cx="218.2" cy="226.9" r="1"/>
<circle fill="#ff1a1a" cx="223.3" cy="225.5" r="1"/>
<circle fill="#ff1a1a" cx="202.7" cy="239.1" r="1"/>
<circle fill="#ff1a1a" cx="204.5" cy="246.4" r="1"/>
<circle fill="#ff1a1a" cx="203.3" cy="249.1" r="1"/>
<circle fill="#ff1a1a" cx="220" cy="249.5" r="1"/>
<g fill="#028a0f"><circle cx="253.74" cy="255.95" r="1.15"/><circle cx="257.57" cy="244.92" r="1.15"/><circle cx="268.11" cy="254.46" r="1.15"/><circle cx="273.93" cy="182.03" r="1.15"/><circle cx="276.38" cy="248.93" r="1.15"/><circle cx="256.3" cy="252.34" r="1.15"/><circle cx="265.57" cy="247.58" r="1.15"/><circle cx="266.65" cy="229.43" r="1.15"/><circle cx="256.15" cy="227.55" r="1.15"/><circle cx="263.57" cy="195.93" r="1.15"/><circle cx="254.22" cy="215.65" r="1.15"/><circle cx="260.09" cy="216.12" r="1.15"/><circle cx="277.39" cy="212.66" r="1.15"/><circle cx="261.63" cy="230.34" r="1.15"/><circle cx="259" cy="256.9" r="1.15"/><circle cx="258.04" cy="202.03" r="1.15"/><circle cx="270.91" cy="230.89" r="1.15"/><circle cx="258.72" cy="230.8" r="1.15"/><circle cx="256.21" cy="253.46" r="1.15"/><circle cx="264.79" cy="175.32" r="1.15"/><circle cx="270.39" cy="231.23" r="1.15"/><circle cx="255.24" cy="250.87" r="1.15"/><circle cx="278.88" cy="256.85" r="1.15"/><circle cx="282.19" cy="253.9" r="1.15"/><circle cx="274.98" cy="244.82" r="1.15"/><circle cx="276.94" cy="253.63" r="1.15"/><circle cx="264.29" cy="249.92" r="1.15"/><circle cx="256.64" cy="237.48" r="1.15"/><circle cx="277.18" cy="250.06" r="1.15"/><circle cx="264.72" cy="248.39" r="1.15"/><circle cx="260.02" cy="224.55" r="1.15"/><circle cx="259.87" cy="251.82" r="1.15"/><circle cx="264.26" cy="243.88" r="1.15"/><circle cx="267.45" cy="231.76" r="1.15"/><circle cx="254.82" cy="209.85" r="1.15"/><circle cx="278.39" cy="230.68" r="1.15"/><circle cx="254.18" cy="250.49" r="1.15"/><circle cx="256.78" cy="241.41" r="1.15"/><circle cx="274.65" cy="240.43" r="1.15"/><circle cx="256.83" cy="255.08" r="1.15"/><circle cx="258.51" cy="239.53" r="1.15"/><circle cx="266.51" cy="250.63" r="1.15"/><circle cx="255.34" cy="254.28" r="1.15"/><circle cx="267.38" cy="244.93" r="1.15"/><circle cx="269.94" cy="194.98" r="1.15"/><circle cx="259.97" cy="255.8" r="1.15"/><circle cx="270.19" cy="226.78" r="1.15"/><circle cx="282.17" cy="209.73" r="1.15"/><circle cx="256.6" cy="212.27" r="1.15"/><circle cx="269.05" cy="193.4" r="1.15"/><circle cx="258.42" cy="250.33" r="1.15"/><circle cx="259.67" cy="210.96" r="1.15"/><circle cx="261.26" cy="255.42" r="1.15"/><circle cx="267.13" cy="197.76" r="1.15"/><circle cx="255.53" cy="227.4" r="1.15"/><circle cx="262.83" cy="240.74" r="1.15"/><circle cx="273.19" cy="251.45" r="1.15"/><circle cx="256.89" cy="244.93" r="1.15"/><circle cx="267.75" cy="174.57" r="1.15"/><circle cx="253.63" cy="252.28" r="1.15"/><circle cx="268.74" cy="231.2" r="1.15"/><circle cx="267.41" cy="256.76" r="1.15"/><circle cx="269.41" cy="226.96" r="1.15"/><circle cx="268.27" cy="250.52" r="1.15"/><circle cx="272.83" cy="233.52" r="1.15"/><circle cx="277.41" cy="253.41" r="1.15"/><circle cx="275.51" cy="192.98" r="1.15"/><circle cx="264.33" cy="212.35" r="1.15"/><circle cx="258.75" cy="202.51" r="1.15"/><circle cx="271.24" cy="250.75" r="1.15"/><circle cx="255.76" cy="202.76" r="1.15"/><circle cx="254.38" cy="251.07" r="1.15"/><circle cx="257.51" cy="241.38" r="1.15"/><circle cx="275.77" cy="251.9" r="1.15"/><circle cx="281.48" cy="234.57" r="1.15"/><circle cx="273.67" cy="243.07" r="1.15"/><circle cx="281.75" cy="256.87" r="1.15"/><circle cx="267.61" cy="250.55" r="1.15"/><circle cx="281.75" cy="238.04" r="1.15"/><circle cx="283.06" cy="238.96" r="1.15"/><circle cx="259.79" cy="232.73" r="1.15"/><circle cx="259.36" cy="215.44" r="1.15"/><circle cx="267" cy="166.71" r="1.15"/><circle cx="282.14" cy="250.77" r="1.15"/><circle cx="265.51" cy="246.73" r="1.15"/><circle cx="273.36" cy="245.75" r="1.15"/><circle cx="264.52" cy="256.77" r="1.15"/><circle cx="278.14" cy="252.86" r="1.15"/><circle cx="271.53" cy="257" r="1.15"/><circle cx="266.92" cy="249.64" r="1.15"/><circle cx="274.65" cy="235.61" r="1.15"/><circle cx="260.51" cy="253.65" r="1.15"/><circle cx="282.11" cy="254.21" r="1.15"/><circle cx="257.41" cy="253.28" r="1.15"/><circle cx="270.74" cy="237.53" r="1.15"/><circle cx="255.01" cy="206.11" r="1.15"/><circle cx="258.33" cy="250.51" r="1.15"/><circle cx="266.87" cy="234.46" r="1.15"/><circle cx="279.95" cy="242.75" r="1.15"/><circle cx="279.11" cy="230.77" r="1.15"/><circle cx="261.37" cy="188.46" r="1.15"/><circle cx="265.53" cy="193.77" r="1.15"/><circle cx="280.74" cy="256.45" r="1.15"/><circle cx="253.83" cy="254.74" r="1.15"/><circle cx="261.97" cy="248.19" r="1.15"/><circle cx="279.41" cy="183.38" r="1.15"/><circle cx="269.18" cy="242.24" r="1.15"/><circle cx="277.51" cy="213.47" r="1.15"/><circle cx="268.68" cy="231.17" r="1.15"/><circle cx="260.61" cy="254.34" r="1.15"/><circle cx="270.89" cy="230.95" r="1.15"/><circle cx="280.26" cy="219.77" r="1.15"/><circle cx="259.08" cy="185.69" r="1.15"/><circle cx="280.23" cy="255.65" r="1.15"/><circle cx="258.75" cy="235.2" r="1.15"/><circle cx="260.97" cy="229.3" r="1.15"/><circle cx="264.29" cy="250.44" r="1.15"/><circle cx="273.62" cy="237.44" r="1.15"/><circle cx="275.54" cy="255.74" r="1.15"/><circle cx="267.45" cy="232.59" r="1.15"/><circle cx="277.29" cy="230.27" r="1.15"/><circle cx="267.56" cy="256.9" r="1.15"/><circle cx="274.57" cy="229.99" r="1.15"/><circle cx="258.71" cy="231.46" r="1.15"/><circle cx="276.87" cy="187.67" r="1.15"/><circle cx="266.22" cy="250.56" r="1.15"/><circle cx="259.51" cy="187.97" r="1.15"/><circle cx="282.15" cy="242.74" r="1.15"/><circle cx="260.27" cy="203.09" r="1.15"/><circle cx="264.09" cy="227.21" r="1.15"/><circle cx="276.31" cy="230.69" r="1.15"/><circle cx="259.98" cy="253.98" r="1.15"/><circle cx="261.28" cy="251.14" r="1.15"/><circle cx="257.38" cy="256.64" r="1.15"/><circle cx="265.92" cy="242.88" r="1.15"/><circle cx="270.77" cy="255.6" r="1.15"/><circle cx="270.61" cy="193.69" r="1.15"/><circle cx="274.43" cy="245.18" r="1.15"/><circle cx="258.56" cy="241.46" r="1.15"/><circle cx="253.83" cy="239.43" r="1.15"/><circle cx="258.13" cy="230.08" r="1.15"/><circle cx="282.17" cy="244.54" r="1.15"/><circle cx="278.37" cy="224.29" r="1.15"/><circle cx="272.34" cy="231.72" r="1.15"/><circle cx="282.29" cy="228.68" r="1.15"/><circle cx="276.29" cy="251.75" r="1.15"/><circle cx="260.97" cy="247.68" r="1.15"/><circle cx="271.33" cy="217.07" r="1.15"/><circle cx="279.55" cy="213.36" r="1.15"/><circle cx="259.25" cy="234.3" r="1.15"/><circle cx="269.35" cy="256.85" r="1.15"/><circle cx="261.47" cy="227.68" r="1.15"/><circle cx="253.44" cy="255.85" r="1.15"/><circle cx="274.18" cy="252.5" r="1.15"/><circle cx="260.2" cy="256.96" r="1.15"/><circle cx="274.63" cy="249.31" r="1.15"/><circle cx="253.88" cy="173.02" r="1.15"/><circle cx="281.34" cy="254.41" r="1.15"/><circle cx="257.76" cy="181.82" r="1.15"/><circle cx="268.97" cy="246.11" r="1.15"/><circle cx="265.82" cy="246.8" r="1.15"/><circle cx="261.06" cy="239.56" r="1.15"/><circle cx="255.82" cy="256.34" r="1.15"/><circle cx="256.04" cy="252.85" r="1.15"/><circle cx="274.2" cy="232.6" r="1.15"/><circle cx="277.05" cy="249.41" r="1.15"/><circle cx="263.55" cy="227.53" r="1.15"/><circle cx="258.95" cy="238.97" r="1.15"/><circle cx="270.11" cy="196.67" r="1.15"/><circle cx="257.92" cy="256.46" r="1.15"/><circle cx="264.86" cy="229.28" r="1.15"/><circle cx="260.18" cy="228.1" r="1.15"/><circle cx="277.36" cy="220.28" r="1.15"/><circle cx="270.89" cy="255.06" r="1.15"/><circle cx="274.53" cy="251.91" r="1.15"/><circle cx="277.04" cy="219.38" r="1.15"/><circle cx="256.1" cy="250.61" r="1.15"/><circle cx="270.25" cy="230.69" r="1.15"/><circle cx="259.08" cy="253.63" r="1.15"/><circle cx="256.54" cy="234.61" r="1.15"/><circle cx="260.53" cy="232.12" r="1.15"/><circle cx="266" cy="249.61" r="1.15"/><circle cx="275.03" cy="237" r="1.15"/><circle cx="275.03" cy="256.69" r="1.15"/><circle cx="262.02" cy="250.94" r="1.15"/><circle cx="274.04" cy="231.83" r="1.15"/><circle cx="280.35" cy="233.05" r="1.15"/><circle cx="262.63" cy="251.47" r="1.15"/><circle cx="261.12" cy="230.73" r="1.15"/><circle cx="260.09" cy="253.01" r="1.15"/><circle cx="278.11" cy="223.69" r="1.15"/><circle cx="282.06" cy="228.13" r="1.15"/><circle cx="262.59" cy="220.65" r="1.15"/><circle cx="274.94" cy="247.02" r="1.15"/><circle cx="271.58" cy="256.32" r="1.15"/><circle cx="254.77" cy="255.23" r="1.15"/><circle cx="257.84" cy="237.93" r="1.15"/><circle cx="279.62" cy="196.07" r="1.15"/><circle cx="259.23" cy="240.34" r="1.15"/><circle cx="268.5" cy="254.24" r="1.15"/><circle cx="264.19" cy="237.57" r="1.15"/><circle cx="269.18" cy="228.13" r="1.15"/><circle cx="256.49" cy="223.15" r="1.15"/><circle cx="264.91" cy="255.85" r="1.15"/><circle cx="260.88" cy="239.35" r="1.15"/><circle cx="259.96" cy="230.44" r="1.15"/><circle cx="267.61" cy="246.89" r="1.15"/><circle cx="276.41" cy="228.32" r="1.15"/><circle cx="266.71" cy="244.45" r="1.15"/><circle cx="281.32" cy="196.98" r="1.15"/><circle cx="256.45" cy="232.85" r="1.15"/><circle cx="272.4" cy="240.62" r="1.15"/><circle cx="254.42" cy="248.7" r="1.15"/><circle cx="280.59" cy="176.11" r="1.15"/><circle cx="267.28" cy="253.93" r="1.15"/><circle cx="262.3" cy="232.82" r="1.15"/><circle cx="275.82" cy="255.9" r="1.15"/><circle cx="266.42" cy="223.76" r="1.15"/><circle cx="265.12" cy="255.34" r="1.15"/><circle cx="282.21" cy="255.07" r="1.15"/><circle cx="261.94" cy="256.46" r="1.15"/><circle cx="257.35" cy="224.14" r="1.15"/><circle cx="255.42" cy="254.66" r="1.15"/><circle cx="269.26" cy="252.8" r="1.15"/><circle cx="258.37" cy="215.55" r="1.15"/><circle cx="276.25" cy="252.48" r="1.15"/><circle cx="263.44" cy="241.98" r="1.15"/><circle cx="260.58" cy="254.12" r="1.15"/><circle cx="256.81" cy="180.91" r="1.15"/><circle cx="275.52" cy="249.56" r="1.15"/><circle cx="280.43" cy="204.95" r="1.15"/><circle cx="281.99" cy="239.84" r="1.15"/><circle cx="261.96" cy="233.56" r="1.15"/><circle cx="274.78" cy="240.19" r="1.15"/><circle cx="257.19" cy="227.27" r="1.15"/><circle cx="282.05" cy="251.83" r="1.15"/><circle cx="277.7" cy="254.65" r="1.15"/><circle cx="260.74" cy="245.95" r="1.15"/><circle cx="267.38" cy="249.76" r="1.15"/><circle cx="257.76" cy="171.31" r="1.15"/><circle cx="262.94" cy="212.72" r="1.15"/><circle cx="275.64" cy="252.51" r="1.15"/><circle cx="258.93" cy="245.82" r="1.15"/><circle cx="277.95" cy="242.32" r="1.15"/><circle cx="270.55" cy="211.32" r="1.15"/><circle cx="276.2" cy="256.9" r="1.15"/><circle cx="280.28" cy="233.44" r="1.15"/><circle cx="263.11" cy="190.97" r="1.15"/><circle cx="277.87" cy="213.52" r="1.15"/><circle cx="264.28" cy="249.27" r="1.15"/><circle cx="263.89" cy="244.32" r="1.15"/><circle cx="256.61" cy="244.15" r="1.15"/><circle cx="280.59" cy="250.74" r="1.15"/><circle cx="272.37" cy="242.68" r="1.15"/><circle cx="275.97" cy="205.94" r="1.15"/><circle cx="280.89" cy="250.18" r="1.15"/><circle cx="283.02" cy="219.36" r="1.15"/><circle cx="275.95" cy="227.56" r="1.15"/><circle cx="260.9" cy="218.19" r="1.15"/><circle cx="264.72" cy="231.05" r="1.15"/><circle cx="257.31" cy="214.68" r="1.15"/><circle cx="263.39" cy="236.71" r="1.15"/><circle cx="263.66" cy="217.19" r="1.15"/><circle cx="278.74" cy="214.13" r="1.15"/><circle cx="257.47" cy="207.81" r="1.15"/><circle cx="275.63" cy="194.61" r="1.15"/><circle cx="272.87" cy="230.04" r="1.15"/><circle cx="279.4" cy="256.52" r="1.15"/><circle cx="266.97" cy="236.29" r="1.15"/><circle cx="276.79" cy="245.93" r="1.15"/><circle cx="279.4" cy="222.25" r="1.15"/><circle cx="263.51" cy="251.17" r="1.15"/><circle cx="256.31" cy="250.02" r="1.15"/><circle cx="254.08" cy="246.48" r="1.15"/><circle cx="260.11" cy="220.36" r="1.15"/><circle cx="255.33" cy="255.83" r="1.15"/><circle cx="259.25" cy="226.93" r="1.15"/><circle cx="265.36" cy="240.33" r="1.15"/><circle cx="281.92" cy="219.59" r="1.15"/><circle cx="272.27" cy="247.27" r="1.15"/><circle cx="267.41" cy="204.28" r="1.15"/><circle cx="275.31" cy="203.19" r="1.15"/><circle cx="279.52" cy="247.19" r="1.15"/><circle cx="256.48" cy="235.05" r="1.15"/><circle cx="278.18" cy="234.37" r="1.15"/><circle cx="267.82" cy="237.7" r="1.15"/><circle cx="279.71" cy="242.41" r="1.15"/><circle cx="259.54" cy="230.59" r="1.15"/><circle cx="264.2" cy="244.88" r="1.15"/><circle cx="274.18" cy="187.58" r="1.15"/><circle cx="280.73" cy="254.07" r="1.15"/><circle cx="271.03" cy="256.65" r="1.15"/><circle cx="274.82" cy="241.68" r="1.15"/><circle cx="256.07" cy="241.82" r="1.15"/><circle cx="277.91" cy="237.45" r="1.15"/><circle cx="264" cy="221.38" r="1.15"/><circle cx="275.64" cy="250.9" r="1.15"/><circle cx="259.87" cy="219.68" r="1.15"/><circle cx="283.07" cy="206.86" r="1.15"/><circle cx="264.72" cy="241.63" r="1.15"/><circle cx="281.19" cy="228.44" r="1.15"/><circle cx="262.35" cy="251.57" r="1.15"/><circle cx="275.27" cy="246.4" r="1.15"/><circle cx="269.71" cy="252.05" r="1.15"/><circle cx="273.35" cy="238.59" r="1.15"/><circle cx="282" cy="253.47" r="1.15"/><circle cx="270.13" cy="166.52" r="1.15"/><circle cx="258.8" cy="220.54" r="1.15"/><circle cx="269.84" cy="200.85" r="1.15"/><circle cx="279.35" cy="225.24" r="1.15"/><circle cx="281.02" cy="244.91" r="1.15"/><circle cx="254" cy="251.38" r="1.15"/><circle cx="280.26" cy="238.48" r="1.15"/><circle cx="281.95" cy="203.01" r="1.15"/><circle cx="281.28" cy="238.08" r="1.15"/><circle cx="257.61" cy="235.7" r="1.15"/><circle cx="277.4" cy="232.26" r="1.15"/><circle cx="271.36" cy="242.07" r="1.15"/><circle cx="261.58" cy="249.58" r="1.15"/><circle cx="268.7" cy="242.24" r="1.15"/><circle cx="256.07" cy="240.05" r="1.15"/><circle cx="263.51" cy="256.94" r="1.15"/><circle cx="275.75" cy="228.1" r="1.15"/><circle cx="260.97" cy="250.42" r="1.15"/><circle cx="258.56" cy="237.79" r="1.15"/><circle cx="280.42" cy="233.62" r="1.15"/><circle cx="270.87" cy="251.56" r="1.15"/><circle cx="275.78" cy="227.91" r="1.15"/><circle cx="274.62" cy="228.34" r="1.15"/><circle cx="278.45" cy="248.97" r="1.15"/><circle cx="254.88" cy="197.53" r="1.15"/><circle cx="266.58" cy="193.31" r="1.15"/><circle cx="255.39" cy="255.32" r="1.15"/><circle cx="273.63" cy="220.32" r="1.15"/><circle cx="267.1" cy="253.51" r="1.15"/><circle cx="283.23" cy="231.89" r="1.15"/><circle cx="276.3" cy="246.08" r="1.15"/><circle cx="259.27" cy="250.16" r="1.15"/><circle cx="265.6" cy="252.89" r="1.15"/><circle cx="262.4" cy="232.88" r="1.15"/><circle cx="259.86" cy="252.86" r="1.15"/><circle cx="259.09" cy="255.36" r="1.15"/><circle cx="268.44" cy="247" r="1.15"/><circle cx="267.69" cy="252.16" r="1.15"/><circle cx="282.49" cy="241.34" r="1.15"/><circle cx="281.64" cy="239.23" r="1.15"/><circle cx="259.24" cy="239.9" r="1.15"/><circle cx="257.64" cy="234.15" r="1.15"/><circle cx="255.5" cy="252.63" r="1.15"/><circle cx="282.31" cy="228.86" r="1.15"/><circle cx="263.92" cy="243.01" r="1.15"/><circle cx="263.86" cy="242.01" r="1.15"/><circle cx="265.06" cy="229.37" r="1.15"/><circle cx="279.23" cy="253.17" r="1.15"/><circle cx="253.49" cy="235.09" r="1.15"/><circle cx="275.15" cy="213.38" r="1.15"/><circle cx="272.2" cy="245.24" r="1.15"/><circle cx="265.35" cy="198.62" r="1.15"/><circle cx="262.25" cy="241.68" r="1.15"/><circle cx="273.18" cy="235.98" r="1.15"/><circle cx="281.78" cy="227.22" r="1.15"/><circle cx="264.28" cy="253.4" r="1.15"/><circle cx="277.03" cy="213.11" r="1.15"/><circle cx="273.62" cy="234.24" r="1.15"/><circle cx="281.65" cy="245.89" r="1.15"/><circle cx="265.38" cy="236.21" r="1.15"/><circle cx="256.76" cy="252.2" r="1.15"/><circle cx="277.31" cy="203.66" r="1.15"/><circle cx="263" cy="256.73" r="1.15"/><circle cx="268.17" cy="239.53" r="1.15"/><circle cx="280.15" cy="244.83" r="1.15"/><circle cx="269.26" cy="245.45" r="1.15"/><circle cx="272.48" cy="196.58" r="1.15"/><circle cx="263.28" cy="239.65" r="1.15"/><circle cx="271.57" cy="243.75" r="1.15"/><circle cx="261.12" cy="221.76" r="1.15"/><circle cx="264.93" cy="244.51" r="1.15"/><circle cx="280.69" cy="244.85" r="1.15"/><circle cx="261.57" cy="236.72" r="1.15"/><circle cx="277.94" cy="246.24" r="1.15"/><circle cx="274" cy="252.92" r="1.15"/><circle cx="259.09" cy="256.78" r="1.15"/><circle cx="277.47" cy="256.19" r="1.15"/><circle cx="260.14" cy="253.35" r="1.15"/><circle cx="261.22" cy="256.25" r="1.15"/><circle cx="274.9" cy="227.3" r="1.15"/><circle cx="281.71" cy="200.82" r="1.15"/><circle cx="280.96" cy="236.14" r="1.15"/><circle cx="281.05" cy="255.21" r="1.15"/><circle cx="259.09" cy="241.61" r="1.15"/><circle cx="279.06" cy="226.59" r="1.15"/><circle cx="256.1" cy="243.81" r="1.15"/><circle cx="275.91" cy="209.13" r="1.15"/><circle cx="282.6" cy="233.91" r="1.15"/><circle cx="254.98" cy="256.62" r="1.15"/><circle cx="253.95" cy="254.09" r="1.15"/><circle cx="272.2" cy="228.52" r="1.15"/><circle cx="258.16" cy="254.47" r="1.15"/><circle cx="271.58" cy="252.24" r="1.15"/><circle cx="282.39" cy="230.25" r="1.15"/><circle cx="282.67" cy="244.95" r="1.15"/><circle cx="265.03" cy="241.59" r="1.15"/><circle cx="260.28" cy="249.85" r="1.15"/><circle cx="283.15" cy="179.45" r="1.15"/><circle cx="258.55" cy="228.64" r="1.15"/><circle cx="257.87" cy="252.28" r="1.15"/><circle cx="275.42" cy="245.39" r="1.15"/><circle cx="269.21" cy="256.21" r="1.15"/><circle cx="254.31" cy="229.85" r="1.15"/><circle cx="277.03" cy="241.36" r="1.15"/><circle cx="266.85" cy="234.94" r="1.15"/><circle cx="271.33" cy="207.25" r="1.15"/><circle cx="265.18" cy="246.03" r="1.15"/><circle cx="279.08" cy="193.48" r="1.15"/><circle cx="270.12" cy="199.81" r="1.15"/><circle cx="258.55" cy="253.49" r="1.15"/><circle cx="274.02" cy="243.92" r="1.15"/><circle cx="277.36" cy="256.95" r="1.15"/><circle cx="268.75" cy="221.76" r="1.15"/><circle cx="277.24" cy="256.94" r="1.15"/><circle cx="273.38" cy="242.52" r="1.15"/><circle cx="275.15" cy="235.22" r="1.15"/><circle cx="282.1" cy="242.76" r="1.15"/><circle cx="281.17" cy="189.19" r="1.15"/><circle cx="262.79" cy="233.02" r="1.15"/><circle cx="261.37" cy="244.23" r="1.15"/><circle cx="277.07" cy="202.27" r="1.15"/><circle cx="277.94" cy="221.47" r="1.15"/><circle cx="273.94" cy="171.2" r="1.15"/><circle cx="276.03" cy="246.89" r="1.15"/><circle cx="271.63" cy="249.44" r="1.15"/><circle cx="279.03" cy="252.98" r="1.15"/><circle cx="261.55" cy="239.11" r="1.15"/><circle cx="255.79" cy="198.02" r="1.15"/><circle cx="276.01" cy="196.4" r="1.15"/><circle cx="276.13" cy="253.28" r="1.15"/><circle cx="280.52" cy="235.05" r="1.15"/><circle cx="266.12" cy="234.41" r="1.15"/><circle cx="255.92" cy="195.7" r="1.15"/><circle cx="256.39" cy="222.93" r="1.15"/><circle cx="256.71" cy="248.79" r="1.15"/><circle cx="266.55" cy="209.5" r="1.15"/><circle cx="261" cy="227.64" r="1.15"/><circle cx="272.76" cy="227.45" r="1.15"/><circle cx="268.12" cy="254.95" r="1.15"/><circle cx="259.74" cy="227.86" r="1.15"/><circle cx="261.64" cy="231.13" r="1.15"/><circle cx="280.9" cy="244.5" r="1.15"/><circle cx="283.24" cy="193.54" r="1.15"/><circle cx="270.45" cy="241.94" r="1.15"/><circle cx="276.06" cy="218.79" r="1.15"/><circle cx="279.21" cy="240.6" r="1.15"/><circle cx="281.8" cy="243.1" r="1.15"/><circle cx="256.86" cy="239.84" r="1.15"/><circle cx="257.65" cy="226.54" r="1.15"/><circle cx="254.91" cy="229.91" r="1.15"/><circle cx="269.53" cy="172.47" r="1.15"/><circle cx="257.23" cy="226.97" r="1.15"/><circle cx="264.6" cy="231.98" r="1.15"/><circle cx="277.75" cy="250.03" r="1.15"/><circle cx="267.64" cy="256.67" r="1.15"/><circle cx="278.84" cy="255.3" r="1.15"/><circle cx="254.33" cy="204.61" r="1.15"/><circle cx="267.37" cy="240.22" r="1.15"/><circle cx="275.17" cy="228.02" r="1.15"/><circle cx="281.28" cy="245.75" r="1.15"/><circle cx="257.4" cy="252.1" r="1.15"/><circle cx="256.9" cy="217.97" r="1.15"/><circle cx="268.3" cy="252.08" r="1.15"/><circle cx="258.21" cy="246.06" r="1.15"/><circle cx="267.52" cy="196.46" r="1.15"/><circle cx="260.81" cy="221.77" r="1.15"/><circle cx="259.93" cy="200.31" r="1.15"/><circle cx="271.69" cy="201.68" r="1.15"/><circle cx="276.43" cy="181.26" r="1.15"/><circle cx="269.29" cy="232.27" r="1.15"/><circle cx="266.61" cy="212.68" r="1.15"/><circle cx="280.71" cy="254.93" r="1.15"/><circle cx="273.76" cy="219.17" r="1.15"/><circle cx="260.26" cy="226.76" r="1.15"/><circle cx="277.99" cy="240.27" r="1.15"/><circle cx="281" cy="185.88" r="1.15"/><circle cx="273.82" cy="252.91" r="1.15"/><circle cx="265.45" cy="235.98" r="1.15"/><circle cx="257.41" cy="252.67" r="1.15"/><circle cx="268.09" cy="239.96" r="1.15"/><circle cx="264.33" cy="249.19" r="1.15"/><circle cx="276.16" cy="235.98" r="1.15"/><circle cx="258.16" cy="234.27" r="1.15"/><circle cx="264.33" cy="206.2" r="1.15"/><circle cx="282.75" cy="187.01" r="1.15"/><circle cx="270.77" cy="253.56" r="1.15"/><circle cx="264.85" cy="183.42" r="1.15"/><circle cx="262.72" cy="236.3" r="1.15"/><circle cx="259.44" cy="256.71" r="1.15"/><circle cx="261.83" cy="254.1" r="1.15"/><circle cx="270.19" cy="232.33" r="1.15"/><circle cx="273.86" cy="192.39" r="1.15"/><circle cx="281.78" cy="244.88" r="1.15"/><circle cx="269.6" cy="232.11" r="1.15"/><circle cx="273.4" cy="211.43" r="1.15"/><circle cx="271.44" cy="244.97" r="1.15"/><circle cx="282.38" cy="247.71" r="1.15"/><circle cx="282.49" cy="250.19" r="1.15"/><circle cx="253.6" cy="256.03" r="1.15"/><circle cx="259.47" cy="236.03" r="1.15"/><circle cx="256.84" cy="238.24" r="1.15"/><circle cx="273.37" cy="215.05" r="1.15"/><circle cx="281.1" cy="229.68" r="1.15"/><circle cx="273.65" cy="170.52" r="1.15"/><circle cx="253.35" cy="228.28" r="1.15"/><circle cx="266.1" cy="256.51" r="1.15"/><circle cx="262.69" cy="182.28" r="1.15"/><circle cx="253.57" cy="235.29" r="1.15"/><circle cx="280.38" cy="242.44" r="1.15"/><circle cx="278.03" cy="234.27" r="1.15"/><circle cx="259.38" cy="256.87" r="1.15"/><circle cx="278.27" cy="252.3" r="1.15"/><circle cx="281.26" cy="254.82" r="1.15"/><circle cx="279.71" cy="249.2" r="1.15"/></g>
<path d="M22.5 301.6V398H151.6" fill="none" stroke="#a0a0a0" stroke-width="1"/>
<text x="20.7" y="308.5" text-anchor="end" class="tk">4</text>
<text x="20.7" y="330.4" text-anchor="end" class="tk">3</text>
<text x="20.7" y="352.3" text-anchor="end" class="tk">2</text>
<text x="20.7" y="374.2" text-anchor="end" class="tk">1</text>
<text x="20.7" y="396.1" text-anchor="end" class="tk">0</text>
<text transform="translate(13.4 351.9) rotate(-90)" text-anchor="middle" textLength="74.5" lengthAdjust="spacingAndGlyphs" class="yl">ANGPTL8 expression</text>
<text x="86.9" y="292.3" text-anchor="middle" class="ti">Head and Neck cancer</text>
<text x="65.7" y="305.7" class="pv">P=3.31 × 10<tspan dy="-3.6" class="sup">3</tspan></text>
<text x="57.2" y="403.5" text-anchor="middle" class="tk">Mutant</text>
<text x="116.7" y="403.5" text-anchor="middle" class="tk">Wild</text>
<text x="87.2" y="411.8" text-anchor="middle" class="xt">PCDHA3 mutation status</text>
<line x1="57.2" y1="305.8" x2="57.2" y2="327.7" stroke="#ff1a1a" stroke-width="1.3"/>
<line x1="57.2" y1="349.5" x2="57.2" y2="371.4" stroke="#ff1a1a" stroke-width="1.3"/>
<rect x="35.2" y="327.7" width="45" height="21.8" fill="#fde7e7" stroke="#ff1a1a" stroke-width="1.25"/>
<line x1="35.2" y1="349.5" x2="80.2" y2="349.5" stroke="#ff1a1a" stroke-width="2"/>
<line x1="116.7" y1="324.5" x2="116.7" y2="349.5" stroke="#179a35" stroke-width="1.3"/>
<line x1="116.7" y1="371" x2="116.7" y2="391.8" stroke="#179a35" stroke-width="1.3"/>
<rect x="94.4" y="349.5" width="44.9" height="21.5" fill="#d9f5dd" stroke="#179a35" stroke-width="1.25"/>
<line x1="94.4" y1="371" x2="139.3" y2="371" stroke="#179a35" stroke-width="2"/>
<circle fill="#ff1a1a" cx="67.1" cy="324" r="1"/>
<circle fill="#ff1a1a" cx="50.4" cy="328.4" r="1"/>
<circle fill="#ff1a1a" cx="59.1" cy="333.8" r="1"/>
<circle fill="#ff1a1a" cx="71.1" cy="336.4" r="1"/>
<circle fill="#ff1a1a" cx="62.3" cy="343.4" r="1"/>
<circle fill="#ff1a1a" cx="69" cy="344.4" r="1"/>
<circle fill="#ff1a1a" cx="70" cy="347.3" r="1"/>
<circle fill="#ff1a1a" cx="47.2" cy="356.1" r="1"/>
<circle fill="#ff1a1a" cx="63.2" cy="373.5" r="1"/>
<g fill="#028a0f"><circle cx="111.67" cy="363.38" r="1.15"/><circle cx="114.13" cy="319.93" r="1.15"/><circle cx="103.93" cy="346.97" r="1.15"/><circle cx="131.53" cy="334.29" r="1.15"/><circle cx="124.44" cy="384.05" r="1.15"/><circle cx="106.37" cy="373.18" r="1.15"/><circle cx="121.89" cy="369.43" r="1.15"/><circle cx="131.92" cy="321.29" r="1.15"/><circle cx="120.72" cy="312.73" r="1.15"/><circle cx="106.77" cy="351.23" r="1.15"/><circle cx="118.55" cy="344.32" r="1.15"/><circle cx="129.08" cy="369.64" r="1.15"/><circle cx="106.18" cy="373.8" r="1.15"/><circle cx="106.41" cy="379.77" r="1.15"/><circle cx="126.09" cy="357.99" r="1.15"/><circle cx="117.08" cy="379.6" r="1.15"/><circle cx="118.83" cy="359.45" r="1.15"/><circle cx="118.32" cy="367.49" r="1.15"/><circle cx="103.65" cy="391.79" r="1.15"/><circle cx="109.05" cy="367.09" r="1.15"/><circle cx="109.21" cy="341.48" r="1.15"/><circle cx="109.19" cy="334.97" r="1.15"/><circle cx="116.32" cy="385.59" r="1.15"/><circle cx="112.03" cy="368.5" r="1.15"/><circle cx="108.61" cy="340.72" r="1.15"/><circle cx="127.11" cy="349.5" r="1.15"/><circle cx="117.09" cy="365.89" r="1.15"/><circle cx="120.14" cy="324.45" r="1.15"/><circle cx="104" cy="377.72" r="1.15"/><circle cx="111.92" cy="386.43" r="1.15"/><circle cx="121.49" cy="385.89" r="1.15"/><circle cx="111.22" cy="367.06" r="1.15"/><circle cx="130.19" cy="363.51" r="1.15"/><circle cx="106.57" cy="374.22" r="1.15"/><circle cx="111.69" cy="371.79" r="1.15"/><circle cx="123.23" cy="325.9" r="1.15"/><circle cx="106.91" cy="366.85" r="1.15"/><circle cx="105.6" cy="389.37" r="1.15"/><circle cx="121.47" cy="332.49" r="1.15"/><circle cx="120.78" cy="379.91" r="1.15"/><circle cx="117.21" cy="388.33" r="1.15"/><circle cx="104.99" cy="370.59" r="1.15"/><circle cx="123.55" cy="342.81" r="1.15"/><circle cx="106.98" cy="363.57" r="1.15"/><circle cx="114.99" cy="349.54" r="1.15"/><circle cx="104.66" cy="350.41" r="1.15"/><circle cx="102.01" cy="326.67" r="1.15"/><circle cx="113.93" cy="375.09" r="1.15"/><circle cx="104.55" cy="376.15" r="1.15"/><circle cx="131.91" cy="347.89" r="1.15"/><circle cx="109.94" cy="370.6" r="1.15"/><circle cx="108.62" cy="349.44" r="1.15"/><circle cx="122.69" cy="367.97" r="1.15"/><circle cx="106.6" cy="366.77" r="1.15"/><circle cx="118.3" cy="387.36" r="1.15"/><circle cx="129.68" cy="313.99" r="1.15"/><circle cx="117.07" cy="385.01" r="1.15"/><circle cx="107.76" cy="364.46" r="1.15"/><circle cx="116.87" cy="349.52" r="1.15"/><circle cx="110.72" cy="336.57" r="1.15"/><circle cx="126.5" cy="323.37" r="1.15"/><circle cx="106.17" cy="365.06" r="1.15"/><circle cx="105.74" cy="364.65" r="1.15"/><circle cx="122.96" cy="348.05" r="1.15"/><circle cx="131.38" cy="359.07" r="1.15"/><circle cx="123.5" cy="389.38" r="1.15"/><circle cx="105.31" cy="337.41" r="1.15"/><circle cx="103.52" cy="371.12" r="1.15"/><circle cx="123.73" cy="358.56" r="1.15"/><circle cx="122.9" cy="370.08" r="1.15"/><circle cx="123.41" cy="369.33" r="1.15"/><circle cx="131.44" cy="372.92" r="1.15"/><circle cx="102.01" cy="366.48" r="1.15"/><circle cx="123.83" cy="385.68" r="1.15"/><circle cx="121.13" cy="330.67" r="1.15"/><circle cx="128.24" cy="380.02" r="1.15"/><circle cx="105.38" cy="345.18" r="1.15"/><circle cx="122.18" cy="368.78" r="1.15"/><circle cx="103.18" cy="392.71" r="1.15"/><circle cx="128.31" cy="369.85" r="1.15"/><circle cx="111.51" cy="311.55" r="1.15"/><circle cx="125.64" cy="326.01" r="1.15"/><circle cx="119.66" cy="330.63" r="1.15"/><circle cx="121.35" cy="319.62" r="1.15"/><circle cx="118.99" cy="321.89" r="1.15"/><circle cx="117.57" cy="376.31" r="1.15"/><circle cx="112.09" cy="364.68" r="1.15"/><circle cx="117.32" cy="369.05" r="1.15"/><circle cx="108.62" cy="358.04" r="1.15"/><circle cx="117.09" cy="372.9" r="1.15"/><circle cx="114.55" cy="363.84" r="1.15"/><circle cx="107.5" cy="350.11" r="1.15"/><circle cx="110.23" cy="362.73" r="1.15"/><circle cx="123.15" cy="340.26" r="1.15"/><circle cx="117.53" cy="339.25" r="1.15"/><circle cx="129.85" cy="374.04" r="1.15"/><circle cx="113.23" cy="363.57" r="1.15"/><circle cx="114.04" cy="372.38" r="1.15"/><circle cx="126.62" cy="345.93" r="1.15"/><circle cx="123.98" cy="364.7" r="1.15"/><circle cx="115.55" cy="375.48" r="1.15"/><circle cx="111.15" cy="369.68" r="1.15"/><circle cx="124.69" cy="369.62" r="1.15"/><circle cx="108.16" cy="343.65" r="1.15"/><circle cx="125.59" cy="374.65" r="1.15"/><circle cx="122.32" cy="351.11" r="1.15"/><circle cx="122.84" cy="353.12" r="1.15"/><circle cx="103.74" cy="373.09" r="1.15"/><circle cx="102.88" cy="369.58" r="1.15"/><circle cx="117.75" cy="320.4" r="1.15"/><circle cx="131.09" cy="349.48" r="1.15"/><circle cx="108.82" cy="337.03" r="1.15"/><circle cx="105.18" cy="370.52" r="1.15"/><circle cx="124.16" cy="337.9" r="1.15"/><circle cx="113.05" cy="364.49" r="1.15"/><circle cx="116.61" cy="373.21" r="1.15"/><circle cx="128.94" cy="345.62" r="1.15"/><circle cx="128.1" cy="332.34" r="1.15"/><circle cx="114.62" cy="366.43" r="1.15"/><circle cx="131.32" cy="371.44" r="1.15"/><circle cx="106.67" cy="377.5" r="1.15"/><circle cx="129.75" cy="372.76" r="1.15"/><circle cx="111.91" cy="331.93" r="1.15"/><circle cx="128.8" cy="332.05" r="1.15"/><circle cx="107.71" cy="366.91" r="1.15"/><circle cx="113.21" cy="340.02" r="1.15"/><circle cx="129.16" cy="383.26" r="1.15"/><circle cx="113.9" cy="366.42" r="1.15"/><circle cx="109.61" cy="357.28" r="1.15"/><circle cx="113.68" cy="391.38" r="1.15"/><circle cx="102.23" cy="368.83" r="1.15"/><circle cx="124.89" cy="369.13" r="1.15"/><circle cx="122.42" cy="370.68" r="1.15"/><circle cx="107.59" cy="354.23" r="1.15"/><circle cx="122.27" cy="391.37" r="1.15"/><circle cx="110.77" cy="355.65" r="1.15"/><circle cx="127.73" cy="375.99" r="1.15"/><circle cx="108.95" cy="325.97" r="1.15"/><circle cx="119.25" cy="358.25" r="1.15"/><circle cx="103" cy="371.12" r="1.15"/><circle cx="121.36" cy="370.99" r="1.15"/><circle cx="117.3" cy="356.59" r="1.15"/><circle cx="108.33" cy="382.99" r="1.15"/><circle cx="114.48" cy="371.55" r="1.15"/><circle cx="129.15" cy="369.47" r="1.15"/><circle cx="131.69" cy="383.56" r="1.15"/><circle cx="127.77" cy="374.38" r="1.15"/><circle cx="119.63" cy="374.26" r="1.15"/><circle cx="103.05" cy="368.91" r="1.15"/><circle cx="126.38" cy="337.83" r="1.15"/><circle cx="125.34" cy="373.23" r="1.15"/><circle cx="131.71" cy="364.83" r="1.15"/><circle cx="113.39" cy="388.65" r="1.15"/><circle cx="120.77" cy="374.89" r="1.15"/><circle cx="127.33" cy="339.54" r="1.15"/><circle cx="113.59" cy="362.07" r="1.15"/><circle cx="105.06" cy="337.53" r="1.15"/><circle cx="124.63" cy="373.6" r="1.15"/><circle cx="131.89" cy="366.38" r="1.15"/><circle cx="115.85" cy="385.72" r="1.15"/><circle cx="101.96" cy="375.5" r="1.15"/><circle cx="104.65" cy="385.52" r="1.15"/><circle cx="114.96" cy="369.24" r="1.15"/><circle cx="110.64" cy="363.69" r="1.15"/><circle cx="117.49" cy="346.55" r="1.15"/><circle cx="107.01" cy="317.72" r="1.15"/><circle cx="116.81" cy="363.58" r="1.15"/><circle cx="127.91" cy="369.13" r="1.15"/><circle cx="128.4" cy="375.62" r="1.15"/><circle cx="112.03" cy="369.69" r="1.15"/><circle cx="118.91" cy="355.25" r="1.15"/><circle cx="104.45" cy="372.64" r="1.15"/><circle cx="113.06" cy="321.12" r="1.15"/><circle cx="121.73" cy="383.7" r="1.15"/><circle cx="111.79" cy="362.72" r="1.15"/><circle cx="127.42" cy="370.86" r="1.15"/><circle cx="114.51" cy="370.46" r="1.15"/><circle cx="112.8" cy="320.94" r="1.15"/><circle cx="106.79" cy="367.92" r="1.15"/><circle cx="121.98" cy="350.28" r="1.15"/><circle cx="114.16" cy="366.15" r="1.15"/><circle cx="125.76" cy="374.69" r="1.15"/><circle cx="127.02" cy="365.71" r="1.15"/><circle cx="124.05" cy="369" r="1.15"/><circle cx="108.54" cy="390.7" r="1.15"/><circle cx="122.51" cy="320.55" r="1.15"/><circle cx="116.91" cy="348.97" r="1.15"/><circle cx="107.87" cy="365.11" r="1.15"/><circle cx="121.39" cy="378.43" r="1.15"/><circle cx="109.71" cy="347.3" r="1.15"/><circle cx="106.01" cy="352.15" r="1.15"/><circle cx="107.08" cy="355.43" r="1.15"/><circle cx="111.38" cy="363.62" r="1.15"/><circle cx="105.95" cy="361.93" r="1.15"/><circle cx="120.52" cy="364.66" r="1.15"/><circle cx="111.22" cy="381.87" r="1.15"/><circle cx="118.39" cy="348.7" r="1.15"/><circle cx="125.45" cy="355.05" r="1.15"/><circle cx="108.61" cy="359.76" r="1.15"/><circle cx="126.97" cy="366.3" r="1.15"/><circle cx="124.64" cy="360.26" r="1.15"/><circle cx="115.44" cy="369.44" r="1.15"/><circle cx="126.73" cy="319.58" r="1.15"/><circle cx="105.12" cy="351.29" r="1.15"/><circle cx="102.9" cy="355.56" r="1.15"/><circle cx="131.26" cy="323.36" r="1.15"/><circle cx="109.98" cy="344.14" r="1.15"/><circle cx="107.25" cy="332.66" r="1.15"/><circle cx="117.63" cy="334.56" r="1.15"/><circle cx="128.79" cy="391.74" r="1.15"/><circle cx="126.97" cy="366.4" r="1.15"/><circle cx="117.99" cy="347.79" r="1.15"/><circle cx="108.03" cy="330.91" r="1.15"/><circle cx="112.13" cy="327.1" r="1.15"/><circle cx="112.06" cy="390.92" r="1.15"/><circle cx="104.08" cy="387.71" r="1.15"/><circle cx="105.55" cy="354.28" r="1.15"/><circle cx="110.74" cy="379.63" r="1.15"/><circle cx="129.69" cy="372.85" r="1.15"/><circle cx="128.18" cy="326.38" r="1.15"/><circle cx="115.19" cy="314.33" r="1.15"/><circle cx="110.38" cy="337.89" r="1.15"/><circle cx="126.38" cy="324.15" r="1.15"/><circle cx="108.78" cy="343.76" r="1.15"/><circle cx="129.84" cy="385.68" r="1.15"/><circle cx="120.39" cy="361.77" r="1.15"/><circle cx="106.23" cy="330.96" r="1.15"/><circle cx="115.91" cy="346.79" r="1.15"/><circle cx="115.67" cy="338.79" r="1.15"/><circle cx="130.78" cy="376.3" r="1.15"/><circle cx="124.39" cy="372.75" r="1.15"/><circle cx="109.38" cy="334.2" r="1.15"/><circle cx="113.86" cy="347.19" r="1.15"/><circle cx="108.46" cy="375.04" r="1.15"/><circle cx="113.02" cy="321.24" r="1.15"/><circle cx="117.04" cy="363.61" r="1.15"/><circle cx="124.66" cy="390.87" r="1.15"/><circle cx="128.35" cy="342.56" r="1.15"/><circle cx="108.23" cy="369.72" r="1.15"/><circle cx="124.01" cy="370.1" r="1.15"/><circle cx="114.16" cy="350.75" r="1.15"/><circle cx="106.55" cy="363.01" r="1.15"/><circle cx="116.15" cy="324.99" r="1.15"/><circle cx="125.67" cy="363.73" r="1.15"/><circle cx="123.72" cy="376.19" r="1.15"/><circle cx="126.44" cy="369.87" r="1.15"/><circle cx="110.23" cy="385.45" r="1.15"/><circle cx="116.47" cy="353.08" r="1.15"/><circle cx="119.38" cy="368.92" r="1.15"/><circle cx="115.11" cy="375.29" r="1.15"/><circle cx="126.02" cy="392.85" r="1.15"/><circle cx="126.99" cy="373.84" r="1.15"/><circle cx="120.07" cy="361.78" r="1.15"/><circle cx="105.69" cy="354.08" r="1.15"/><circle cx="110.72" cy="339.6" r="1.15"/><circle cx="125.65" cy="330.87" r="1.15"/><circle cx="126.52" cy="348.75" r="1.15"/><circle cx="122.24" cy="366.53" r="1.15"/><circle cx="107.61" cy="321.37" r="1.15"/><circle cx="114.34" cy="384.93" r="1.15"/><circle cx="106.4" cy="363.62" r="1.15"/><circle cx="128.07" cy="375.15" r="1.15"/><circle cx="106.4" cy="368.48" r="1.15"/><circle cx="119.34" cy="377.53" r="1.15"/><circle cx="116.25" cy="376.9" r="1.15"/><circle cx="115.18" cy="362.49" r="1.15"/><circle cx="127.17" cy="363.85" r="1.15"/><circle cx="129.98" cy="391.66" r="1.15"/><circle cx="103.06" cy="376.07" r="1.15"/><circle cx="119.11" cy="340.5" r="1.15"/><circle cx="108.47" cy="362.48" r="1.15"/><circle cx="111.15" cy="339.25" r="1.15"/><circle cx="108.79" cy="344.25" r="1.15"/><circle cx="121.48" cy="359.62" r="1.15"/><circle cx="116.39" cy="369.13" r="1.15"/><circle cx="121.33" cy="387.78" r="1.15"/><circle cx="106.53" cy="347.54" r="1.15"/><circle cx="124.04" cy="361.93" r="1.15"/><circle cx="127.24" cy="384.9" r="1.15"/><circle cx="103.42" cy="330.07" r="1.15"/><circle cx="104.44" cy="374.06" r="1.15"/><circle cx="104.51" cy="373.89" r="1.15"/><circle cx="109.46" cy="364.43" r="1.15"/><circle cx="115.84" cy="372" r="1.15"/><circle cx="125.71" cy="369.14" r="1.15"/><circle cx="105.35" cy="344.63" r="1.15"/><circle cx="102.15" cy="375.06" r="1.15"/><circle cx="105.17" cy="370.83" r="1.15"/><circle cx="125.47" cy="346.99" r="1.15"/><circle cx="108.21" cy="311.79" r="1.15"/><circle cx="124.76" cy="390.07" r="1.15"/><circle cx="130.02" cy="367.53" r="1.15"/><circle cx="111.34" cy="368.3" r="1.15"/><circle cx="130.53" cy="387.19" r="1.15"/><circle cx="115.21" cy="363.51" r="1.15"/><circle cx="125.11" cy="366.52" r="1.15"/><circle cx="116.27" cy="334.25" r="1.15"/><circle cx="114.17" cy="377.97" r="1.15"/><circle cx="114.21" cy="327.86" r="1.15"/><circle cx="118.8" cy="350.45" r="1.15"/><circle cx="119.26" cy="365.55" r="1.15"/><circle cx="118.73" cy="374.2" r="1.15"/><circle cx="104.31" cy="330.67" r="1.15"/><circle cx="128.49" cy="369.24" r="1.15"/><circle cx="102.3" cy="318.68" r="1.15"/><circle cx="120.99" cy="353.98" r="1.15"/><circle cx="116.09" cy="332.95" r="1.15"/><circle cx="110.97" cy="382.21" r="1.15"/><circle cx="123.9" cy="345.56" r="1.15"/><circle cx="121.31" cy="375.82" r="1.15"/><circle cx="121.77" cy="350.88" r="1.15"/><circle cx="115.24" cy="391.25" r="1.15"/><circle cx="119.94" cy="371" r="1.15"/><circle cx="105.77" cy="370.53" r="1.15"/><circle cx="110.57" cy="349.47" r="1.15"/><circle cx="111.13" cy="338.36" r="1.15"/><circle cx="126.31" cy="362.17" r="1.15"/><circle cx="123.98" cy="383.6" r="1.15"/><circle cx="130.18" cy="387.55" r="1.15"/><circle cx="123.77" cy="390.99" r="1.15"/><circle cx="107.33" cy="369.25" r="1.15"/><circle cx="117.04" cy="368.2" r="1.15"/><circle cx="105.6" cy="367.4" r="1.15"/><circle cx="110.96" cy="363.09" r="1.15"/><circle cx="113.47" cy="319.85" r="1.15"/><circle cx="108.79" cy="366.59" r="1.15"/><circle cx="111.62" cy="319.68" r="1.15"/><circle cx="127.04" cy="351.97" r="1.15"/><circle cx="124.71" cy="368.27" r="1.15"/><circle cx="105.21" cy="372.85" r="1.15"/><circle cx="115.46" cy="389.62" r="1.15"/><circle cx="108.03" cy="329.7" r="1.15"/><circle cx="124.94" cy="366.38" r="1.15"/><circle cx="106.51" cy="372.95" r="1.15"/><circle cx="114.75" cy="363.23" r="1.15"/><circle cx="129" cy="322.88" r="1.15"/></g>
<path d="M177.2 301.5V398H302" fill="none" stroke="#a0a0a0" stroke-width="1"/>
<text x="175.4" y="322.9" text-anchor="end" class="tk">7.5</text>
<text x="175.4" y="347.4" text-anchor="end" class="tk">5.0</text>
<text x="175.4" y="371.8" text-anchor="end" class="tk">2.5</text>
<text x="175.4" y="396.1" text-anchor="end" class="tk">0.0</text>
<text transform="translate(162.8 351.4) rotate(-90)" text-anchor="middle" textLength="74.5" lengthAdjust="spacingAndGlyphs" class="yl">ANGPTL8 expression</text>
<text x="239.5" y="292.3" text-anchor="middle" class="ti">Head and Neck cancer</text>
<text x="219.2" y="305.7" class="pv">P=4.72 × 10<tspan dy="-3.6" class="sup">3</tspan></text>
<text x="211.1" y="403.5" text-anchor="middle" class="tk">Mutant</text>
<text x="267.8" y="403.5" text-anchor="middle" class="tk">Wild</text>
<text x="240" y="411.8" text-anchor="middle" class="xt">IFT80 mutation status</text>
<line x1="211.1" y1="306" x2="211.1" y2="349.8" stroke="#ff1a1a" stroke-width="1.3"/>
<line x1="211.1" y1="378.7" x2="211.1" y2="383.9" stroke="#ff1a1a" stroke-width="1.3"/>
<rect x="189.5" y="349.8" width="42.9" height="28.9" fill="#fde7e7" stroke="#ff1a1a" stroke-width="1.25"/>
<line x1="189.5" y1="364.3" x2="232.4" y2="364.3" stroke="#ff1a1a" stroke-width="2"/>
<rect x="246.4" y="373.6" width="42.7" height="10.4" fill="#d9f5dd" stroke="#179a35" stroke-width="1.25"/>
<line x1="246.4" y1="380.9" x2="289.1" y2="380.9" stroke="#179a35" stroke-width="2"/>
<circle fill="#ff1a1a" cx="210.3" cy="348.8" r="1"/>
<circle fill="#ff1a1a" cx="196.9" cy="357.9" r="1"/>
<circle fill="#ff1a1a" cx="205.1" cy="356.2" r="1"/>
<circle fill="#ff1a1a" cx="223.2" cy="363.6" r="1"/>
<circle fill="#ff1a1a" cx="201.1" cy="367.1" r="1"/>
<circle fill="#ff1a1a" cx="214.2" cy="374.7" r="1"/>
<circle fill="#ff1a1a" cx="196.9" cy="382.1" r="1"/>
<circle fill="#ff1a1a" cx="207.3" cy="381.3" r="1"/>
<circle fill="#ff1a1a" cx="213.2" cy="384.4" r="1"/>
<g fill="#028a0f"><circle cx="269.54" cy="385.38" r="1.15"/><circle cx="254.47" cy="382.07" r="1.15"/><circle cx="279.69" cy="381.58" r="1.15"/><circle cx="270.26" cy="384.07" r="1.15"/><circle cx="255.3" cy="375.22" r="1.15"/><circle cx="256.62" cy="354.6" r="1.15"/><circle cx="273.97" cy="384.09" r="1.15"/><circle cx="264.24" cy="392.38" r="1.15"/><circle cx="267.04" cy="388.95" r="1.15"/><circle cx="257.82" cy="392.49" r="1.15"/><circle cx="255.83" cy="385.88" r="1.15"/><circle cx="259.06" cy="390.1" r="1.15"/><circle cx="257.42" cy="380.15" r="1.15"/><circle cx="265.42" cy="367.86" r="1.15"/><circle cx="260.39" cy="384.97" r="1.15"/><circle cx="254.84" cy="365.76" r="1.15"/><circle cx="256.29" cy="374.41" r="1.15"/><circle cx="265.18" cy="351.37" r="1.15"/><circle cx="278.19" cy="378.1" r="1.15"/><circle cx="255.33" cy="389.79" r="1.15"/><circle cx="270.31" cy="375.65" r="1.15"/><circle cx="261.45" cy="374.95" r="1.15"/><circle cx="258.84" cy="380.65" r="1.15"/><circle cx="261.55" cy="381.71" r="1.15"/><circle cx="262.05" cy="378.41" r="1.15"/><circle cx="271.88" cy="384.56" r="1.15"/><circle cx="276.41" cy="390.26" r="1.15"/><circle cx="260.05" cy="380.67" r="1.15"/><circle cx="268.05" cy="389.32" r="1.15"/><circle cx="274.08" cy="380.5" r="1.15"/><circle cx="265.29" cy="382.82" r="1.15"/><circle cx="261.33" cy="359.59" r="1.15"/><circle cx="279.03" cy="331.83" r="1.15"/><circle cx="280.48" cy="326.66" r="1.15"/><circle cx="276.79" cy="384.87" r="1.15"/><circle cx="259.33" cy="377.74" r="1.15"/><circle cx="272.02" cy="315.43" r="1.15"/><circle cx="269.46" cy="369.17" r="1.15"/><circle cx="278.19" cy="390.46" r="1.15"/><circle cx="260.91" cy="387.39" r="1.15"/><circle cx="259.05" cy="377.63" r="1.15"/><circle cx="273.91" cy="381.26" r="1.15"/><circle cx="272.39" cy="389.93" r="1.15"/><circle cx="267.1" cy="389.66" r="1.15"/><circle cx="273.16" cy="376.78" r="1.15"/><circle cx="258.97" cy="391.62" r="1.15"/><circle cx="264.68" cy="343.11" r="1.15"/><circle cx="264.21" cy="381.92" r="1.15"/><circle cx="274.68" cy="375.59" r="1.15"/><circle cx="265.01" cy="376.76" r="1.15"/><circle cx="268.24" cy="378.82" r="1.15"/><circle cx="280.65" cy="386.99" r="1.15"/><circle cx="275.73" cy="340.57" r="1.15"/><circle cx="266.82" cy="323.05" r="1.15"/><circle cx="260.38" cy="365.81" r="1.15"/><circle cx="273.95" cy="374.4" r="1.15"/><circle cx="277.33" cy="352.32" r="1.15"/><circle cx="261.16" cy="361.22" r="1.15"/><circle cx="267.09" cy="371.71" r="1.15"/><circle cx="264.04" cy="383.9" r="1.15"/><circle cx="277.6" cy="370.4" r="1.15"/><circle cx="272.65" cy="365.18" r="1.15"/><circle cx="257.95" cy="387.55" r="1.15"/><circle cx="259.56" cy="378.86" r="1.15"/><circle cx="256.43" cy="383.48" r="1.15"/><circle cx="274.01" cy="388.05" r="1.15"/><circle cx="277.75" cy="385.84" r="1.15"/><circle cx="277.78" cy="383.61" r="1.15"/><circle cx="261.15" cy="384.07" r="1.15"/><circle cx="253.85" cy="382.45" r="1.15"/><circle cx="264.37" cy="381.73" r="1.15"/><circle cx="278.14" cy="392.6" r="1.15"/><circle cx="253.51" cy="382.8" r="1.15"/><circle cx="260.03" cy="343" r="1.15"/><circle cx="254.19" cy="384.95" r="1.15"/><circle cx="273.8" cy="389.81" r="1.15"/><circle cx="267.92" cy="378.5" r="1.15"/><circle cx="261.7" cy="385.12" r="1.15"/><circle cx="264.15" cy="337.75" r="1.15"/><circle cx="278.86" cy="327.3" r="1.15"/><circle cx="277.76" cy="389.01" r="1.15"/><circle cx="273.84" cy="392.33" r="1.15"/><circle cx="273.39" cy="369.18" r="1.15"/><circle cx="276.75" cy="379.33" r="1.15"/><circle cx="268.94" cy="388.06" r="1.15"/><circle cx="264.92" cy="384.72" r="1.15"/><circle cx="273.76" cy="386.88" r="1.15"/><circle cx="275.79" cy="378.73" r="1.15"/><circle cx="270.64" cy="377.32" r="1.15"/><circle cx="276.74" cy="354.95" r="1.15"/><circle cx="262.83" cy="378.89" r="1.15"/><circle cx="264.11" cy="354.01" r="1.15"/><circle cx="263.03" cy="389.73" r="1.15"/><circle cx="280.14" cy="375.33" r="1.15"/><circle cx="272.45" cy="376.88" r="1.15"/><circle cx="275.75" cy="352.51" r="1.15"/><circle cx="266.71" cy="381.56" r="1.15"/><circle cx="262.59" cy="373.96" r="1.15"/><circle cx="271.22" cy="389.49" r="1.15"/><circle cx="260.6" cy="369.25" r="1.15"/><circle cx="279.03" cy="375.91" r="1.15"/><circle cx="257.38" cy="388.92" r="1.15"/><circle cx="263.06" cy="380.72" r="1.15"/><circle cx="282.01" cy="348.91" r="1.15"/><circle cx="276.18" cy="381.56" r="1.15"/><circle cx="258.46" cy="377.23" r="1.15"/><circle cx="258.49" cy="336.83" r="1.15"/><circle cx="266.44" cy="390.57" r="1.15"/><circle cx="267.25" cy="392.43" r="1.15"/><circle cx="280.79" cy="382.15" r="1.15"/><circle cx="277.8" cy="382.12" r="1.15"/><circle cx="270.27" cy="372.58" r="1.15"/><circle cx="262.22" cy="385.39" r="1.15"/><circle cx="264.8" cy="380.75" r="1.15"/><circle cx="267.95" cy="376.88" r="1.15"/><circle cx="270.85" cy="383.71" r="1.15"/><circle cx="259.29" cy="316.93" r="1.15"/><circle cx="253.84" cy="383.49" r="1.15"/><circle cx="255.09" cy="390" r="1.15"/><circle cx="277.42" cy="381.96" r="1.15"/><circle cx="281.13" cy="375.55" r="1.15"/><circle cx="270.26" cy="366.06" r="1.15"/><circle cx="253.86" cy="378.55" r="1.15"/><circle cx="260.98" cy="382.65" r="1.15"/><circle cx="255.37" cy="377.52" r="1.15"/><circle cx="264.24" cy="379.52" r="1.15"/><circle cx="265.07" cy="380.74" r="1.15"/><circle cx="274.42" cy="389.73" r="1.15"/><circle cx="270.61" cy="370.23" r="1.15"/><circle cx="270.64" cy="389.29" r="1.15"/><circle cx="281.72" cy="362.17" r="1.15"/><circle cx="254.81" cy="373.99" r="1.15"/><circle cx="272.52" cy="361.31" r="1.15"/><circle cx="279.81" cy="384.53" r="1.15"/><circle cx="279.1" cy="367.3" r="1.15"/><circle cx="270" cy="385.08" r="1.15"/><circle cx="261.96" cy="382.73" r="1.15"/><circle cx="271.13" cy="373.92" r="1.15"/><circle cx="269.03" cy="383.56" r="1.15"/><circle cx="269.71" cy="353.94" r="1.15"/><circle cx="269.69" cy="356.28" r="1.15"/><circle cx="254.33" cy="323.59" r="1.15"/><circle cx="269.29" cy="381.3" r="1.15"/><circle cx="281.21" cy="374.8" r="1.15"/><circle cx="267.17" cy="377.45" r="1.15"/><circle cx="268.76" cy="377.17" r="1.15"/><circle cx="280.58" cy="375.36" r="1.15"/><circle cx="262.66" cy="392.55" r="1.15"/><circle cx="255.21" cy="361.56" r="1.15"/><circle cx="254.38" cy="371.38" r="1.15"/><circle cx="276.39" cy="376.81" r="1.15"/><circle cx="264.4" cy="385.38" r="1.15"/><circle cx="273.66" cy="385.75" r="1.15"/><circle cx="270.82" cy="379.86" r="1.15"/><circle cx="270.28" cy="383.67" r="1.15"/><circle cx="275.78" cy="346.2" r="1.15"/><circle cx="260.57" cy="347.65" r="1.15"/><circle cx="264.53" cy="380.19" r="1.15"/><circle cx="276.48" cy="383.31" r="1.15"/><circle cx="269.47" cy="387.4" r="1.15"/><circle cx="280.26" cy="373.24" r="1.15"/><circle cx="261.24" cy="392.4" r="1.15"/><circle cx="280.28" cy="380.72" r="1.15"/><circle cx="277.55" cy="387.78" r="1.15"/><circle cx="269.17" cy="382.41" r="1.15"/><circle cx="255.34" cy="353.99" r="1.15"/><circle cx="257.96" cy="383.6" r="1.15"/><circle cx="262.18" cy="388.72" r="1.15"/><circle cx="270.1" cy="375.47" r="1.15"/><circle cx="276.42" cy="389.1" r="1.15"/><circle cx="257.59" cy="380.41" r="1.15"/><circle cx="276.97" cy="367.94" r="1.15"/><circle cx="280.37" cy="386.06" r="1.15"/><circle cx="260.05" cy="369.09" r="1.15"/><circle cx="278.31" cy="392.97" r="1.15"/><circle cx="256.29" cy="367.3" r="1.15"/><circle cx="275.61" cy="373.79" r="1.15"/><circle cx="277.31" cy="377.18" r="1.15"/><circle cx="262.87" cy="329.81" r="1.15"/><circle cx="279.84" cy="366.4" r="1.15"/><circle cx="273.05" cy="383.88" r="1.15"/><circle cx="277.78" cy="375.89" r="1.15"/><circle cx="261.38" cy="378.89" r="1.15"/><circle cx="269.02" cy="384.97" r="1.15"/><circle cx="278.08" cy="388.67" r="1.15"/><circle cx="260.43" cy="360.09" r="1.15"/><circle cx="272.75" cy="375.56" r="1.15"/><circle cx="275.76" cy="389.1" r="1.15"/><circle cx="262.26" cy="373.79" r="1.15"/><circle cx="261.56" cy="389.86" r="1.15"/><circle cx="266.85" cy="373.52" r="1.15"/><circle cx="258.06" cy="368.52" r="1.15"/><circle cx="263.48" cy="389.59" r="1.15"/><circle cx="258.13" cy="361.16" r="1.15"/><circle cx="275.03" cy="390.65" r="1.15"/><circle cx="272.6" cy="390.08" r="1.15"/><circle cx="260.56" cy="390.33" r="1.15"/><circle cx="278.48" cy="376.42" r="1.15"/><circle cx="266.36" cy="382.2" r="1.15"/><circle cx="263.24" cy="392.01" r="1.15"/><circle cx="276.06" cy="385.25" r="1.15"/><circle cx="275.93" cy="375.13" r="1.15"/><circle cx="273.5" cy="379.79" r="1.15"/><circle cx="264.51" cy="388.93" r="1.15"/><circle cx="261.57" cy="384.24" r="1.15"/><circle cx="259.62" cy="374.49" r="1.15"/><circle cx="261.58" cy="383.67" r="1.15"/><circle cx="271.76" cy="362.97" r="1.15"/><circle cx="264.36" cy="380.94" r="1.15"/><circle cx="280.37" cy="355" r="1.15"/><circle cx="269.71" cy="381.49" r="1.15"/><circle cx="260.83" cy="363.14" r="1.15"/><circle cx="256.45" cy="384.85" r="1.15"/><circle cx="275.48" cy="380.55" r="1.15"/><circle cx="265.87" cy="387.99" r="1.15"/><circle cx="267.26" cy="326.01" r="1.15"/><circle cx="277.51" cy="382.67" r="1.15"/><circle cx="264.26" cy="359.67" r="1.15"/><circle cx="271.71" cy="389.05" r="1.15"/><circle cx="279.9" cy="374.46" r="1.15"/><circle cx="262.3" cy="376.51" r="1.15"/><circle cx="261.73" cy="380.22" r="1.15"/><circle cx="266.89" cy="381.55" r="1.15"/><circle cx="279.41" cy="356.49" r="1.15"/><circle cx="267.17" cy="354.25" r="1.15"/><circle cx="257.47" cy="340.84" r="1.15"/><circle cx="271.81" cy="355.08" r="1.15"/><circle cx="265.32" cy="362" r="1.15"/><circle cx="254.22" cy="325.63" r="1.15"/><circle cx="276.94" cy="364.81" r="1.15"/><circle cx="277.2" cy="382.81" r="1.15"/><circle cx="275.02" cy="386.16" r="1.15"/><circle cx="265.26" cy="381.16" r="1.15"/><circle cx="276.38" cy="386.71" r="1.15"/><circle cx="256.05" cy="374.7" r="1.15"/><circle cx="259.83" cy="333.47" r="1.15"/><circle cx="265.36" cy="382.8" r="1.15"/><circle cx="278.96" cy="378.64" r="1.15"/><circle cx="271.61" cy="351.22" r="1.15"/><circle cx="256.57" cy="382.97" r="1.15"/><circle cx="268.34" cy="390.8" r="1.15"/><circle cx="266.29" cy="378.47" r="1.15"/><circle cx="265.33" cy="331.07" r="1.15"/><circle cx="265.46" cy="383.22" r="1.15"/><circle cx="280.36" cy="387.5" r="1.15"/><circle cx="269.02" cy="378.28" r="1.15"/><circle cx="260.65" cy="381.91" r="1.15"/><circle cx="267.62" cy="383.85" r="1.15"/><circle cx="281.51" cy="381.55" r="1.15"/><circle cx="259.42" cy="378.99" r="1.15"/><circle cx="258.05" cy="391.28" r="1.15"/><circle cx="275.88" cy="383.31" r="1.15"/><circle cx="260.26" cy="360.09" r="1.15"/><circle cx="266.13" cy="372.52" r="1.15"/><circle cx="268.74" cy="379.64" r="1.15"/><circle cx="255.39" cy="391.64" r="1.15"/><circle cx="273.21" cy="376.32" r="1.15"/><circle cx="279.78" cy="382.71" r="1.15"/><circle cx="262.14" cy="368" r="1.15"/><circle cx="269.33" cy="390.86" r="1.15"/><circle cx="259.92" cy="376.66" r="1.15"/><circle cx="267.43" cy="391.6" r="1.15"/><circle cx="274.57" cy="391.91" r="1.15"/><circle cx="261.48" cy="377.39" r="1.15"/><circle cx="260.16" cy="381.56" r="1.15"/><circle cx="258.69" cy="387.05" r="1.15"/><circle cx="266.46" cy="368.49" r="1.15"/><circle cx="263.44" cy="375.09" r="1.15"/><circle cx="270.54" cy="369.49" r="1.15"/><circle cx="264.73" cy="376.66" r="1.15"/><circle cx="258.95" cy="379.02" r="1.15"/><circle cx="272.72" cy="335.77" r="1.15"/><circle cx="271.77" cy="379.77" r="1.15"/><circle cx="263.07" cy="389.79" r="1.15"/><circle cx="277.61" cy="385.62" r="1.15"/><circle cx="266.22" cy="392.59" r="1.15"/><circle cx="275.88" cy="362.45" r="1.15"/><circle cx="262.12" cy="375.01" r="1.15"/><circle cx="273.64" cy="385.57" r="1.15"/><circle cx="274.18" cy="384.14" r="1.15"/></g>
<path d="M321.8 302.6V397.8H447.7" fill="none" stroke="#a0a0a0" stroke-width="1"/>
<text x="320" y="308" text-anchor="end" class="tk">3</text>
<text x="320" y="337.5" text-anchor="end" class="tk">2</text>
<text x="320" y="366.8" text-anchor="end" class="tk">1</text>
<text x="320" y="396.3" text-anchor="end" class="tk">0</text>
<text transform="translate(312.8 351.5) rotate(-90)" text-anchor="middle" textLength="74.5" lengthAdjust="spacingAndGlyphs" class="yl">ANGPTL8 expression</text>
<text x="386.5" y="292.3" text-anchor="middle" class="ti">Head and Neck cancer</text>
<text x="357.4" y="305.8" class="pv">P=9.15 × 10<tspan dy="-3.6" class="sup">3</tspan></text>
<text x="356.3" y="403.3" text-anchor="middle" class="tk">Mutant</text>
<text x="415.6" y="403.3" text-anchor="middle" class="tk">Wild</text>
<text x="386.4" y="411.6" text-anchor="middle" class="xt">PHKA2 mutation status</text>
<rect x="334" y="364.5" width="44.6" height="28.7" fill="#fde7e7" stroke="#ff1a1a" stroke-width="1.25"/>
<line x1="334" y1="364.5" x2="378.6" y2="364.5" stroke="#ff1a1a" stroke-width="2"/>
<line x1="415.6" y1="313.6" x2="415.6" y2="334.7" stroke="#179a35" stroke-width="1.3"/>
<line x1="415.6" y1="363.2" x2="415.6" y2="391.8" stroke="#179a35" stroke-width="1.3"/>
<rect x="393.1" y="334.7" width="44.9" height="28.5" fill="#d9f5dd" stroke="#179a35" stroke-width="1.25"/>
<line x1="393.1" y1="363.2" x2="438" y2="363.2" stroke="#179a35" stroke-width="2"/>
<circle fill="#ff1a1a" cx="342.1" cy="356.4" r="1"/>
<circle fill="#ff1a1a" cx="361.9" cy="362.9" r="1"/>
<circle fill="#ff1a1a" cx="370.7" cy="362.6" r="1"/>
<circle fill="#ff1a1a" cx="358.6" cy="370.3" r="1"/>
<circle fill="#ff1a1a" cx="342.9" cy="374.6" r="1"/>
<circle fill="#ff1a1a" cx="368.1" cy="382.6" r="1"/>
<circle fill="#ff1a1a" cx="352.9" cy="384.6" r="1"/>
<g fill="#028a0f"><circle cx="423.83" cy="361.39" r="1.15"/><circle cx="425.54" cy="353.3" r="1.15"/><circle cx="411.91" cy="307.87" r="1.15"/><circle cx="400.41" cy="307.71" r="1.15"/><circle cx="401.03" cy="326.03" r="1.15"/><circle cx="412.21" cy="354.31" r="1.15"/><circle cx="409.93" cy="334.71" r="1.15"/><circle cx="424.56" cy="371.86" r="1.15"/><circle cx="423.68" cy="354.13" r="1.15"/><circle cx="401.24" cy="356.34" r="1.15"/><circle cx="406.91" cy="334.6" r="1.15"/><circle cx="400.12" cy="356.97" r="1.15"/><circle cx="420.87" cy="367.07" r="1.15"/><circle cx="419.96" cy="335.36" r="1.15"/><circle cx="422.96" cy="358.01" r="1.15"/><circle cx="406.53" cy="346.09" r="1.15"/><circle cx="418.75" cy="354.68" r="1.15"/><circle cx="406.27" cy="339.34" r="1.15"/><circle cx="410.8" cy="362.81" r="1.15"/><circle cx="410.97" cy="382.77" r="1.15"/><circle cx="418.12" cy="339.26" r="1.15"/><circle cx="422.93" cy="375.19" r="1.15"/><circle cx="423.54" cy="380.66" r="1.15"/><circle cx="403.11" cy="377.57" r="1.15"/><circle cx="416.17" cy="367.76" r="1.15"/><circle cx="427.68" cy="366.03" r="1.15"/><circle cx="408.94" cy="316.34" r="1.15"/><circle cx="421.8" cy="336.96" r="1.15"/><circle cx="408.05" cy="353.73" r="1.15"/><circle cx="429.94" cy="314.33" r="1.15"/><circle cx="410.4" cy="391.17" r="1.15"/><circle cx="406.29" cy="362.44" r="1.15"/><circle cx="428.12" cy="358.48" r="1.15"/><circle cx="426.18" cy="390.08" r="1.15"/><circle cx="400.52" cy="362.88" r="1.15"/><circle cx="408.6" cy="323.26" r="1.15"/><circle cx="403.74" cy="371.49" r="1.15"/><circle cx="403.83" cy="360.76" r="1.15"/><circle cx="407.9" cy="374.55" r="1.15"/><circle cx="414.02" cy="353.11" r="1.15"/><circle cx="416.51" cy="363.02" r="1.15"/><circle cx="422.69" cy="334.37" r="1.15"/><circle cx="428.74" cy="361.62" r="1.15"/><circle cx="417.63" cy="332.98" r="1.15"/><circle cx="410.38" cy="356.84" r="1.15"/><circle cx="427.73" cy="378.9" r="1.15"/><circle cx="403.18" cy="352.02" r="1.15"/><circle cx="427.78" cy="318.64" r="1.15"/><circle cx="421.96" cy="389.09" r="1.15"/><circle cx="416.81" cy="369.03" r="1.15"/><circle cx="411.04" cy="329.51" r="1.15"/><circle cx="420.86" cy="356.01" r="1.15"/><circle cx="419.65" cy="373.36" r="1.15"/><circle cx="430.75" cy="358.66" r="1.15"/><circle cx="422.28" cy="373.8" r="1.15"/><circle cx="408.65" cy="388.32" r="1.15"/><circle cx="404.75" cy="380.56" r="1.15"/><circle cx="405.54" cy="354.93" r="1.15"/><circle cx="403.11" cy="332.7" r="1.15"/><circle cx="426.96" cy="351.26" r="1.15"/><circle cx="406.88" cy="379.66" r="1.15"/><circle cx="414.77" cy="335.27" r="1.15"/><circle cx="410.64" cy="317.45" r="1.15"/><circle cx="429.98" cy="359.65" r="1.15"/><circle cx="430.25" cy="361.61" r="1.15"/><circle cx="406.35" cy="324.82" r="1.15"/><circle cx="429.47" cy="354.29" r="1.15"/><circle cx="426.58" cy="380.59" r="1.15"/><circle cx="423.48" cy="334.36" r="1.15"/><circle cx="403.22" cy="352.3" r="1.15"/><circle cx="403.29" cy="312.75" r="1.15"/><circle cx="422.66" cy="333.6" r="1.15"/><circle cx="421.46" cy="362.57" r="1.15"/><circle cx="423.52" cy="359.19" r="1.15"/><circle cx="429.22" cy="388.1" r="1.15"/><circle cx="425.16" cy="360.14" r="1.15"/><circle cx="425.45" cy="356.98" r="1.15"/><circle cx="417.11" cy="363.16" r="1.15"/><circle cx="415.36" cy="389.94" r="1.15"/><circle cx="426.91" cy="384.47" r="1.15"/><circle cx="413.36" cy="345.14" r="1.15"/><circle cx="429.64" cy="309.9" r="1.15"/><circle cx="402.67" cy="313.05" r="1.15"/><circle cx="422.8" cy="342.12" r="1.15"/><circle cx="400.59" cy="352.11" r="1.15"/><circle cx="413.78" cy="318.93" r="1.15"/><circle cx="425.52" cy="352.51" r="1.15"/><circle cx="401.01" cy="365.54" r="1.15"/><circle cx="408.54" cy="319.02" r="1.15"/><circle cx="404.36" cy="388.33" r="1.15"/><circle cx="423.18" cy="306.23" r="1.15"/><circle cx="404.67" cy="371.7" r="1.15"/><circle cx="420.84" cy="323.62" r="1.15"/><circle cx="404.19" cy="352.94" r="1.15"/><circle cx="429.63" cy="359.09" r="1.15"/><circle cx="413.18" cy="392.17" r="1.15"/><circle cx="431.23" cy="386.72" r="1.15"/><circle cx="429.86" cy="381.91" r="1.15"/><circle cx="422.93" cy="328.94" r="1.15"/><circle cx="421.8" cy="388.21" r="1.15"/><circle cx="415.43" cy="356.2" r="1.15"/><circle cx="416.08" cy="377.81" r="1.15"/><circle cx="404.2" cy="332.11" r="1.15"/><circle cx="413.2" cy="326.12" r="1.15"/><circle cx="407.56" cy="366.4" r="1.15"/><circle cx="420.3" cy="357.41" r="1.15"/><circle cx="427.87" cy="353.42" r="1.15"/><circle cx="416.09" cy="355.53" r="1.15"/><circle cx="406.81" cy="307.29" r="1.15"/><circle cx="410.35" cy="390.82" r="1.15"/><circle cx="403.97" cy="362.72" r="1.15"/><circle cx="401.18" cy="358.92" r="1.15"/><circle cx="415.21" cy="319.48" r="1.15"/><circle cx="421.86" cy="325.91" r="1.15"/><circle cx="423.77" cy="339.22" r="1.15"/><circle cx="422.85" cy="363.14" r="1.15"/><circle cx="417.41" cy="372.07" r="1.15"/><circle cx="424.3" cy="352.49" r="1.15"/><circle cx="410.84" cy="375.68" r="1.15"/><circle cx="425.2" cy="330.31" r="1.15"/><circle cx="403.79" cy="309.25" r="1.15"/><circle cx="403.43" cy="371.68" r="1.15"/><circle cx="423.36" cy="339.92" r="1.15"/><circle cx="424.42" cy="348.43" r="1.15"/><circle cx="417.64" cy="355.37" r="1.15"/><circle cx="420.33" cy="319.44" r="1.15"/><circle cx="418.47" cy="347.54" r="1.15"/><circle cx="423.71" cy="356.17" r="1.15"/><circle cx="404.12" cy="353.32" r="1.15"/><circle cx="413.25" cy="358.64" r="1.15"/><circle cx="417.6" cy="358.41" r="1.15"/><circle cx="412.3" cy="360.96" r="1.15"/><circle cx="411.69" cy="358.6" r="1.15"/><circle cx="402.92" cy="310.33" r="1.15"/><circle cx="422.61" cy="390.78" r="1.15"/><circle cx="414.11" cy="359.75" r="1.15"/><circle cx="411.55" cy="352.62" r="1.15"/><circle cx="400.58" cy="368.94" r="1.15"/><circle cx="429.4" cy="326.31" r="1.15"/><circle cx="414.62" cy="364.53" r="1.15"/><circle cx="401.92" cy="362.34" r="1.15"/><circle cx="426.2" cy="324.52" r="1.15"/><circle cx="408.05" cy="368.76" r="1.15"/><circle cx="424.96" cy="342.79" r="1.15"/><circle cx="412.19" cy="357.05" r="1.15"/><circle cx="425.01" cy="369.47" r="1.15"/><circle cx="426.87" cy="327.14" r="1.15"/><circle cx="418.62" cy="380.9" r="1.15"/><circle cx="422.41" cy="307.95" r="1.15"/><circle cx="404.63" cy="357.43" r="1.15"/><circle cx="422.93" cy="386.36" r="1.15"/><circle cx="425.34" cy="385.54" r="1.15"/><circle cx="414.87" cy="346.46" r="1.15"/><circle cx="429.2" cy="324.72" r="1.15"/><circle cx="403.21" cy="351.72" r="1.15"/><circle cx="413.23" cy="352.74" r="1.15"/><circle cx="429.07" cy="367.96" r="1.15"/><circle cx="403.9" cy="339.18" r="1.15"/><circle cx="410.79" cy="369.91" r="1.15"/><circle cx="410.23" cy="353.31" r="1.15"/><circle cx="425.48" cy="358.14" r="1.15"/><circle cx="422.57" cy="374.36" r="1.15"/><circle cx="429.57" cy="362.09" r="1.15"/><circle cx="410.32" cy="313.93" r="1.15"/><circle cx="403.56" cy="352.11" r="1.15"/><circle cx="419.55" cy="359.2" r="1.15"/><circle cx="410.79" cy="349.55" r="1.15"/><circle cx="403.98" cy="389.06" r="1.15"/><circle cx="405.44" cy="353.76" r="1.15"/><circle cx="419.39" cy="362.98" r="1.15"/><circle cx="416.18" cy="323.08" r="1.15"/><circle cx="418.38" cy="367.48" r="1.15"/><circle cx="424.51" cy="365.5" r="1.15"/><circle cx="408.27" cy="376.79" r="1.15"/><circle cx="428.43" cy="358.17" r="1.15"/><circle cx="406.1" cy="375.9" r="1.15"/><circle cx="406.77" cy="379.14" r="1.15"/><circle cx="412.43" cy="362.03" r="1.15"/><circle cx="412.7" cy="335.87" r="1.15"/><circle cx="412.47" cy="356.85" r="1.15"/><circle cx="428.28" cy="334.36" r="1.15"/><circle cx="428.84" cy="358.65" r="1.15"/><circle cx="430.61" cy="367.86" r="1.15"/><circle cx="421.38" cy="355.03" r="1.15"/><circle cx="408.57" cy="360.25" r="1.15"/><circle cx="427.72" cy="378.79" r="1.15"/><circle cx="421.9" cy="361.04" r="1.15"/><circle cx="416.53" cy="357.37" r="1.15"/><circle cx="405.62" cy="371.99" r="1.15"/><circle cx="421.36" cy="361.89" r="1.15"/><circle cx="400.17" cy="354.38" r="1.15"/><circle cx="413.61" cy="341.37" r="1.15"/><circle cx="408.21" cy="385.51" r="1.15"/><circle cx="425.77" cy="371.54" r="1.15"/><circle cx="410.3" cy="354.14" r="1.15"/><circle cx="409.18" cy="368.05" r="1.15"/><circle cx="410.91" cy="365.08" r="1.15"/><circle cx="424.7" cy="333.03" r="1.15"/><circle cx="427.71" cy="342.8" r="1.15"/><circle cx="403.64" cy="347.78" r="1.15"/><circle cx="405.23" cy="387.99" r="1.15"/><circle cx="416.58" cy="367.16" r="1.15"/><circle cx="418.38" cy="330.49" r="1.15"/><circle cx="407.65" cy="358.5" r="1.15"/><circle cx="423.6" cy="308.57" r="1.15"/><circle cx="401.53" cy="361.71" r="1.15"/><circle cx="408.09" cy="308.54" r="1.15"/><circle cx="403.76" cy="328.42" r="1.15"/><circle cx="411.22" cy="347.87" r="1.15"/><circle cx="409.37" cy="325.09" r="1.15"/><circle cx="406.3" cy="382.28" r="1.15"/><circle cx="430.63" cy="331.81" r="1.15"/><circle cx="421.37" cy="349.01" r="1.15"/><circle cx="408.6" cy="364.89" r="1.15"/><circle cx="430.83" cy="383.7" r="1.15"/><circle cx="419.21" cy="388.1" r="1.15"/><circle cx="405.93" cy="361.39" r="1.15"/><circle cx="429.14" cy="358.27" r="1.15"/><circle cx="405.24" cy="368.13" r="1.15"/><circle cx="420.6" cy="350.54" r="1.15"/><circle cx="405.7" cy="355.56" r="1.15"/><circle cx="403.56" cy="326.28" r="1.15"/><circle cx="407.64" cy="375.08" r="1.15"/><circle cx="414.96" cy="355.45" r="1.15"/><circle cx="422.78" cy="354.01" r="1.15"/><circle cx="414.71" cy="324.28" r="1.15"/><circle cx="426.02" cy="388.25" r="1.15"/><circle cx="410.02" cy="390.63" r="1.15"/><circle cx="418.89" cy="378.01" r="1.15"/><circle cx="404.12" cy="333.74" r="1.15"/><circle cx="426.65" cy="363.73" r="1.15"/><circle cx="403.48" cy="343.81" r="1.15"/><circle cx="424.87" cy="344.12" r="1.15"/><circle cx="404.95" cy="359.26" r="1.15"/><circle cx="410.06" cy="347.21" r="1.15"/><circle cx="405.24" cy="378.93" r="1.15"/><circle cx="404.06" cy="359.48" r="1.15"/><circle cx="417.3" cy="360.11" r="1.15"/><circle cx="412.7" cy="354.06" r="1.15"/><circle cx="402.84" cy="332.26" r="1.15"/><circle cx="429.22" cy="362.12" r="1.15"/><circle cx="428.83" cy="327.08" r="1.15"/><circle cx="416.82" cy="335.23" r="1.15"/><circle cx="417.96" cy="333.28" r="1.15"/><circle cx="408.07" cy="380.58" r="1.15"/><circle cx="427.4" cy="382.62" r="1.15"/><circle cx="412.81" cy="362.4" r="1.15"/><circle cx="403.25" cy="354.56" r="1.15"/><circle cx="424.92" cy="341.93" r="1.15"/><circle cx="427.59" cy="332.59" r="1.15"/><circle cx="404.64" cy="362.57" r="1.15"/><circle cx="421.73" cy="335.65" r="1.15"/><circle cx="410.81" cy="360.61" r="1.15"/><circle cx="426.05" cy="377.01" r="1.15"/><circle cx="425.44" cy="357.38" r="1.15"/><circle cx="410.12" cy="361.76" r="1.15"/><circle cx="423.36" cy="355.47" r="1.15"/><circle cx="411.12" cy="325.59" r="1.15"/><circle cx="412.7" cy="343.33" r="1.15"/><circle cx="423.81" cy="327.31" r="1.15"/><circle cx="411.41" cy="353.95" r="1.15"/><circle cx="427.71" cy="365.68" r="1.15"/><circle cx="409.62" cy="332.2" r="1.15"/><circle cx="406.19" cy="383.91" r="1.15"/><circle cx="401.32" cy="311.71" r="1.15"/><circle cx="416.6" cy="331.47" r="1.15"/><circle cx="416.93" cy="353.99" r="1.15"/><circle cx="417.49" cy="359.2" r="1.15"/><circle cx="428.8" cy="383.37" r="1.15"/><circle cx="404.43" cy="382.06" r="1.15"/><circle cx="420.09" cy="345.68" r="1.15"/><circle cx="421.71" cy="331.73" r="1.15"/><circle cx="401.71" cy="317.72" r="1.15"/><circle cx="407.49" cy="391.42" r="1.15"/><circle cx="404.86" cy="333.98" r="1.15"/><circle cx="424.14" cy="354.82" r="1.15"/></g>
<path d="M22.9 433.3V528.6H151.3" fill="none" stroke="#a0a0a0" stroke-width="1"/>
<text x="21.1" y="439.1" text-anchor="end" class="tk">3</text>
<text x="21.1" y="468.7" text-anchor="end" class="tk">2</text>
<text x="21.1" y="497.4" text-anchor="end" class="tk">1</text>
<text x="21.1" y="526.7" text-anchor="end" class="tk">0</text>
<text transform="translate(13.6 482.3) rotate(-90)" text-anchor="middle" textLength="74.5" lengthAdjust="spacingAndGlyphs" class="yl">ANGPTL8 expression</text>
<text x="86.9" y="422.8" text-anchor="middle" class="ti">Head and Neck cancer</text>
<text x="49.8" y="437.2" class="pv">P=3.56 × 10<tspan dy="-3.6" class="sup">3</tspan></text>
<text x="57.6" y="534.2" text-anchor="middle" class="tk">Mutant</text>
<text x="116.7" y="534.2" text-anchor="middle" class="tk">Wild</text>
<text x="86.8" y="542.8" text-anchor="middle" class="xt">SHROOM3 mutation status</text>
<line x1="57.6" y1="466" x2="57.6" y2="495.3" stroke="#ff1a1a" stroke-width="1.3"/>
<rect x="35.3" y="495.3" width="44.8" height="28.9" fill="#fde7e7" stroke="#ff1a1a" stroke-width="1.25"/>
<line x1="35.3" y1="524.2" x2="80.1" y2="524.2" stroke="#ff1a1a" stroke-width="2"/>
<line x1="116.7" y1="436.9" x2="116.7" y2="465.8" stroke="#179a35" stroke-width="1.3"/>
<line x1="116.7" y1="494.3" x2="116.7" y2="523.6" stroke="#179a35" stroke-width="1.3"/>
<rect x="94.4" y="465.8" width="44.9" height="28.5" fill="#d9f5dd" stroke="#179a35" stroke-width="1.25"/>
<line x1="94.4" y1="494.3" x2="139.3" y2="494.3" stroke="#179a35" stroke-width="2"/>
<circle fill="#ff1a1a" cx="59" cy="445.3" r="1"/>
<circle fill="#ff1a1a" cx="52.7" cy="466.3" r="1"/>
<circle fill="#ff1a1a" cx="69.9" cy="474.4" r="1"/>
<circle fill="#ff1a1a" cx="51.8" cy="486.4" r="1"/>
<circle fill="#ff1a1a" cx="70.5" cy="485.8" r="1"/>
<circle fill="#ff1a1a" cx="64.2" cy="516" r="1"/>
<circle fill="#ff1a1a" cx="63.2" cy="519.5" r="1"/>
<g fill="#028a0f"><circle cx="117.83" cy="506.87" r="1.15"/><circle cx="124.47" cy="453.57" r="1.15"/><circle cx="116.36" cy="491.09" r="1.15"/><circle cx="130.91" cy="497.48" r="1.15"/><circle cx="122.45" cy="462.06" r="1.15"/><circle cx="124" cy="495.45" r="1.15"/><circle cx="126.01" cy="487.14" r="1.15"/><circle cx="128.52" cy="492.61" r="1.15"/><circle cx="115.51" cy="471" r="1.15"/><circle cx="126.21" cy="483.77" r="1.15"/><circle cx="130.9" cy="485.26" r="1.15"/><circle cx="129" cy="523.16" r="1.15"/><circle cx="116.68" cy="467.62" r="1.15"/><circle cx="106.39" cy="457.27" r="1.15"/><circle cx="123.46" cy="493.77" r="1.15"/><circle cx="113.16" cy="459.15" r="1.15"/><circle cx="121.49" cy="437.41" r="1.15"/><circle cx="105.62" cy="518.74" r="1.15"/><circle cx="119.11" cy="515.13" r="1.15"/><circle cx="109.79" cy="494.47" r="1.15"/><circle cx="104.26" cy="488.88" r="1.15"/><circle cx="127.21" cy="452.16" r="1.15"/><circle cx="115.32" cy="483.95" r="1.15"/><circle cx="120.1" cy="495.12" r="1.15"/><circle cx="131.36" cy="493.36" r="1.15"/><circle cx="123.85" cy="443.99" r="1.15"/><circle cx="104.17" cy="458.97" r="1.15"/><circle cx="112.34" cy="509.64" r="1.15"/><circle cx="114.66" cy="509.35" r="1.15"/><circle cx="127.1" cy="438.81" r="1.15"/><circle cx="108.59" cy="443.54" r="1.15"/><circle cx="102.61" cy="501.81" r="1.15"/><circle cx="103.61" cy="497.81" r="1.15"/><circle cx="110.98" cy="485.3" r="1.15"/><circle cx="118.84" cy="472.25" r="1.15"/><circle cx="110.96" cy="481.01" r="1.15"/><circle cx="122.71" cy="465.46" r="1.15"/><circle cx="116.13" cy="467.6" r="1.15"/><circle cx="110.54" cy="488.16" r="1.15"/><circle cx="115.97" cy="519.34" r="1.15"/><circle cx="107.52" cy="478.85" r="1.15"/><circle cx="128.45" cy="456.55" r="1.15"/><circle cx="126.55" cy="457" r="1.15"/><circle cx="107.21" cy="487.07" r="1.15"/><circle cx="124.18" cy="498" r="1.15"/><circle cx="105.26" cy="439.06" r="1.15"/><circle cx="112.57" cy="523.27" r="1.15"/><circle cx="119.95" cy="493.26" r="1.15"/><circle cx="127.38" cy="510.95" r="1.15"/><circle cx="129.34" cy="493.75" r="1.15"/><circle cx="111.12" cy="494.14" r="1.15"/><circle cx="131.06" cy="505.36" r="1.15"/><circle cx="126.83" cy="481.92" r="1.15"/><circle cx="118.3" cy="516.68" r="1.15"/><circle cx="131.61" cy="465.58" r="1.15"/><circle cx="105.04" cy="447.37" r="1.15"/><circle cx="132.06" cy="492.19" r="1.15"/><circle cx="130.8" cy="485.01" r="1.15"/><circle cx="102.67" cy="499.36" r="1.15"/><circle cx="109.87" cy="445.71" r="1.15"/><circle cx="112.79" cy="483.86" r="1.15"/><circle cx="130.1" cy="483.11" r="1.15"/><circle cx="128.39" cy="445.59" r="1.15"/><circle cx="126.69" cy="499.11" r="1.15"/><circle cx="114.47" cy="521.86" r="1.15"/><circle cx="109.59" cy="446.07" r="1.15"/><circle cx="119.47" cy="492.46" r="1.15"/><circle cx="123.29" cy="500.67" r="1.15"/><circle cx="104.77" cy="474.69" r="1.15"/><circle cx="104.06" cy="450.22" r="1.15"/><circle cx="112.42" cy="469.64" r="1.15"/><circle cx="104.26" cy="507.85" r="1.15"/><circle cx="126.05" cy="436.79" r="1.15"/><circle cx="125.9" cy="488.39" r="1.15"/><circle cx="129.88" cy="441.62" r="1.15"/><circle cx="110.2" cy="485.11" r="1.15"/><circle cx="131.54" cy="485.73" r="1.15"/><circle cx="122.13" cy="465.78" r="1.15"/><circle cx="114.25" cy="457.76" r="1.15"/><circle cx="127.53" cy="483.94" r="1.15"/><circle cx="127.84" cy="503.56" r="1.15"/><circle cx="118.12" cy="521.14" r="1.15"/><circle cx="106.32" cy="483.23" r="1.15"/><circle cx="115.17" cy="449.89" r="1.15"/><circle cx="114.33" cy="504.65" r="1.15"/><circle cx="114.86" cy="481.69" r="1.15"/><circle cx="104.69" cy="523.66" r="1.15"/><circle cx="105.88" cy="467.73" r="1.15"/><circle cx="126.29" cy="499.21" r="1.15"/><circle cx="128.52" cy="456.43" r="1.15"/><circle cx="102.06" cy="505.46" r="1.15"/><circle cx="119.99" cy="464.07" r="1.15"/><circle cx="102.46" cy="492.58" r="1.15"/><circle cx="109.06" cy="489.6" r="1.15"/><circle cx="131.52" cy="482.09" r="1.15"/><circle cx="104.17" cy="502.77" r="1.15"/><circle cx="105.15" cy="469.87" r="1.15"/><circle cx="115.16" cy="501.72" r="1.15"/><circle cx="111.69" cy="438.81" r="1.15"/><circle cx="116.25" cy="494.74" r="1.15"/><circle cx="114.05" cy="506.4" r="1.15"/><circle cx="111.69" cy="469.21" r="1.15"/><circle cx="107.47" cy="461.08" r="1.15"/><circle cx="120.84" cy="512.21" r="1.15"/><circle cx="129.63" cy="488.65" r="1.15"/><circle cx="124.44" cy="511.79" r="1.15"/><circle cx="113.08" cy="472.7" r="1.15"/><circle cx="120.38" cy="509.1" r="1.15"/><circle cx="116.17" cy="463.79" r="1.15"/><circle cx="122.61" cy="487.78" r="1.15"/><circle cx="114.68" cy="479.63" r="1.15"/><circle cx="115.9" cy="504.57" r="1.15"/><circle cx="128.97" cy="484.34" r="1.15"/><circle cx="118.71" cy="437.3" r="1.15"/><circle cx="108.63" cy="494.18" r="1.15"/><circle cx="124.2" cy="477.21" r="1.15"/><circle cx="122.75" cy="499.8" r="1.15"/><circle cx="113.72" cy="436.54" r="1.15"/><circle cx="115.09" cy="446.98" r="1.15"/><circle cx="128.07" cy="474.72" r="1.15"/><circle cx="112.33" cy="503.24" r="1.15"/><circle cx="103.87" cy="439.15" r="1.15"/><circle cx="116.29" cy="495.29" r="1.15"/><circle cx="120.94" cy="464.74" r="1.15"/><circle cx="122.12" cy="448.54" r="1.15"/><circle cx="104.05" cy="523.82" r="1.15"/><circle cx="114.94" cy="519.75" r="1.15"/><circle cx="117.78" cy="520.86" r="1.15"/><circle cx="108.01" cy="476.97" r="1.15"/><circle cx="114.39" cy="456.82" r="1.15"/><circle cx="112.71" cy="443.33" r="1.15"/><circle cx="118.26" cy="478.42" r="1.15"/><circle cx="125.45" cy="498.63" r="1.15"/><circle cx="109.44" cy="523.53" r="1.15"/><circle cx="128.54" cy="494.52" r="1.15"/><circle cx="103" cy="486.53" r="1.15"/><circle cx="120.31" cy="495.85" r="1.15"/><circle cx="105.19" cy="460.19" r="1.15"/><circle cx="113.69" cy="462.29" r="1.15"/><circle cx="114.62" cy="485.48" r="1.15"/><circle cx="131.81" cy="489.29" r="1.15"/><circle cx="129.62" cy="450.41" r="1.15"/><circle cx="123.05" cy="465.39" r="1.15"/><circle cx="102.96" cy="508.01" r="1.15"/><circle cx="122.23" cy="458.62" r="1.15"/><circle cx="111.34" cy="477.19" r="1.15"/><circle cx="129.71" cy="498.31" r="1.15"/><circle cx="102.5" cy="485.13" r="1.15"/><circle cx="112.44" cy="493.65" r="1.15"/><circle cx="131.44" cy="516.15" r="1.15"/><circle cx="126.51" cy="453.19" r="1.15"/><circle cx="114.51" cy="523.51" r="1.15"/><circle cx="123.82" cy="511.04" r="1.15"/><circle cx="125.74" cy="460.15" r="1.15"/><circle cx="105.55" cy="461.41" r="1.15"/><circle cx="104.7" cy="522.45" r="1.15"/><circle cx="126.94" cy="457.8" r="1.15"/><circle cx="108.99" cy="485.84" r="1.15"/><circle cx="105.54" cy="456.76" r="1.15"/><circle cx="101.96" cy="494.34" r="1.15"/><circle cx="114.43" cy="439.36" r="1.15"/><circle cx="126.11" cy="462.87" r="1.15"/><circle cx="131.71" cy="482.89" r="1.15"/><circle cx="129.9" cy="462.63" r="1.15"/><circle cx="104.38" cy="442.73" r="1.15"/><circle cx="108.73" cy="464.33" r="1.15"/><circle cx="112.21" cy="494.35" r="1.15"/><circle cx="103.72" cy="438.39" r="1.15"/><circle cx="105.77" cy="489.45" r="1.15"/><circle cx="116.88" cy="436.84" r="1.15"/><circle cx="117.61" cy="469.02" r="1.15"/><circle cx="112.06" cy="463.15" r="1.15"/><circle cx="124.38" cy="490.4" r="1.15"/><circle cx="128.71" cy="468.94" r="1.15"/><circle cx="127.52" cy="495.06" r="1.15"/><circle cx="119.21" cy="465.29" r="1.15"/><circle cx="119.02" cy="490.64" r="1.15"/><circle cx="104.83" cy="515.08" r="1.15"/><circle cx="105.62" cy="494.94" r="1.15"/><circle cx="123.55" cy="518.34" r="1.15"/><circle cx="120.5" cy="465.7" r="1.15"/><circle cx="123.7" cy="503.04" r="1.15"/><circle cx="120.6" cy="458.98" r="1.15"/><circle cx="118.95" cy="501.38" r="1.15"/><circle cx="110.02" cy="491.23" r="1.15"/><circle cx="128.02" cy="507.47" r="1.15"/><circle cx="130.07" cy="477" r="1.15"/><circle cx="109.88" cy="505.65" r="1.15"/><circle cx="103.68" cy="486.14" r="1.15"/><circle cx="118.21" cy="495.6" r="1.15"/><circle cx="129.37" cy="487.37" r="1.15"/><circle cx="121.15" cy="483.12" r="1.15"/><circle cx="125.62" cy="482.41" r="1.15"/><circle cx="101.92" cy="492.49" r="1.15"/><circle cx="125.83" cy="439.77" r="1.15"/><circle cx="105.28" cy="509.28" r="1.15"/><circle cx="121.77" cy="501.77" r="1.15"/><circle cx="102.5" cy="508.82" r="1.15"/><circle cx="102.08" cy="486.82" r="1.15"/><circle cx="113.44" cy="498.94" r="1.15"/><circle cx="101.97" cy="503.09" r="1.15"/><circle cx="109.26" cy="498.86" r="1.15"/><circle cx="114.42" cy="494.37" r="1.15"/><circle cx="111.69" cy="492.78" r="1.15"/><circle cx="127.19" cy="521.78" r="1.15"/><circle cx="116.79" cy="465.21" r="1.15"/><circle cx="108.94" cy="523.67" r="1.15"/><circle cx="115.71" cy="453.6" r="1.15"/><circle cx="126.66" cy="503.08" r="1.15"/><circle cx="105.59" cy="454.31" r="1.15"/><circle cx="118.85" cy="486.51" r="1.15"/><circle cx="111.54" cy="510.37" r="1.15"/><circle cx="122.24" cy="478.62" r="1.15"/><circle cx="120.63" cy="477.44" r="1.15"/><circle cx="103.98" cy="491.98" r="1.15"/><circle cx="127.19" cy="522.12" r="1.15"/><circle cx="129.23" cy="456.2" r="1.15"/><circle cx="125.13" cy="515.17" r="1.15"/><circle cx="112.36" cy="505.67" r="1.15"/><circle cx="127.87" cy="503.47" r="1.15"/><circle cx="127.05" cy="459.46" r="1.15"/><circle cx="130.17" cy="491.82" r="1.15"/><circle cx="119.24" cy="498.86" r="1.15"/><circle cx="108.96" cy="472.3" r="1.15"/><circle cx="104.93" cy="491.81" r="1.15"/><circle cx="107.47" cy="461.06" r="1.15"/><circle cx="110.29" cy="508.44" r="1.15"/><circle cx="121.14" cy="476.09" r="1.15"/><circle cx="127.68" cy="485.46" r="1.15"/><circle cx="108.23" cy="464.2" r="1.15"/><circle cx="107.02" cy="485.01" r="1.15"/><circle cx="106.34" cy="500.27" r="1.15"/><circle cx="112.48" cy="515.06" r="1.15"/><circle cx="121.72" cy="454.66" r="1.15"/><circle cx="108.51" cy="513.81" r="1.15"/><circle cx="117.9" cy="481.67" r="1.15"/><circle cx="104.74" cy="520.91" r="1.15"/><circle cx="120.06" cy="483.62" r="1.15"/><circle cx="125.24" cy="514.67" r="1.15"/><circle cx="119.7" cy="500.38" r="1.15"/><circle cx="112.17" cy="485.24" r="1.15"/><circle cx="113.85" cy="445.68" r="1.15"/><circle cx="118.22" cy="489.97" r="1.15"/><circle cx="131.73" cy="458" r="1.15"/><circle cx="118.17" cy="462.98" r="1.15"/><circle cx="121.17" cy="467.31" r="1.15"/><circle cx="131.21" cy="443.44" r="1.15"/><circle cx="108.44" cy="463.66" r="1.15"/><circle cx="115.17" cy="483.51" r="1.15"/><circle cx="125.5" cy="501.08" r="1.15"/><circle cx="123.33" cy="501.86" r="1.15"/><circle cx="114.79" cy="487.03" r="1.15"/><circle cx="123.79" cy="468.47" r="1.15"/><circle cx="132.07" cy="438.19" r="1.15"/><circle cx="109.87" cy="460.82" r="1.15"/><circle cx="116.86" cy="472.77" r="1.15"/><circle cx="115.4" cy="446.7" r="1.15"/><circle cx="102.68" cy="492.89" r="1.15"/><circle cx="117.98" cy="487.88" r="1.15"/><circle cx="105.08" cy="495.13" r="1.15"/><circle cx="104.03" cy="487.27" r="1.15"/><circle cx="115.31" cy="505.68" r="1.15"/><circle cx="117" cy="493.3" r="1.15"/><circle cx="113.63" cy="485.22" r="1.15"/><circle cx="102.46" cy="508.63" r="1.15"/><circle cx="131.2" cy="483.92" r="1.15"/><circle cx="112.52" cy="497.22" r="1.15"/><circle cx="124.32" cy="494.58" r="1.15"/><circle cx="125.94" cy="486.86" r="1.15"/><circle cx="105.91" cy="523.39" r="1.15"/><circle cx="113.04" cy="503.02" r="1.15"/><circle cx="113.54" cy="491.03" r="1.15"/><circle cx="115.16" cy="442.34" r="1.15"/><circle cx="131" cy="483.2" r="1.15"/><circle cx="119.86" cy="475.9" r="1.15"/><circle cx="112" cy="458.81" r="1.15"/><circle cx="130.82" cy="519.82" r="1.15"/><circle cx="119.48" cy="485.03" r="1.15"/><circle cx="124.4" cy="516.26" r="1.15"/><circle cx="121.32" cy="492.17" r="1.15"/><circle cx="129.63" cy="497.04" r="1.15"/><circle cx="110.22" cy="492.39" r="1.15"/><circle cx="108.62" cy="454.14" r="1.15"/><circle cx="116.61" cy="498.02" r="1.15"/><circle cx="105.39" cy="439.71" r="1.15"/><circle cx="125.93" cy="502.69" r="1.15"/><circle cx="114.41" cy="515.27" r="1.15"/><circle cx="123.42" cy="462.02" r="1.15"/><circle cx="105.44" cy="461.31" r="1.15"/><circle cx="112.68" cy="454.42" r="1.15"/></g>
<path d="M171.6 433.3V528.6H303" fill="none" stroke="#a0a0a0" stroke-width="1"/>
<text x="169.8" y="439.1" text-anchor="end" class="tk">6</text>
<text x="169.8" y="468.8" text-anchor="end" class="tk">4</text>
<text x="169.8" y="497.8" text-anchor="end" class="tk">2</text>
<text x="169.8" y="526.9" text-anchor="end" class="tk">0</text>
<text transform="translate(163.2 482.4) rotate(-90)" text-anchor="middle" textLength="74.5" lengthAdjust="spacingAndGlyphs" class="yl">ANGPTL8 expression</text>
<text x="236.5" y="422.8" text-anchor="middle" class="ti">Head and Neck cancer</text>
<text x="218.3" y="437.2" class="pv">P=6.15 × 10<tspan dy="-3.6" class="sup">3</tspan></text>
<text x="207.1" y="534.2" text-anchor="middle" class="tk">Mutant</text>
<text x="266.2" y="534.2" text-anchor="middle" class="tk">Wild</text>
<text x="236.5" y="542.8" text-anchor="middle" class="xt">MAP3K19 mutation status</text>
<line x1="207.1" y1="437.3" x2="207.1" y2="480.7" stroke="#ff1a1a" stroke-width="1.3"/>
<rect x="184.7" y="480.7" width="44.9" height="29.3" fill="#fde7e7" stroke="#ff1a1a" stroke-width="1.25"/>
<line x1="184.7" y1="495.4" x2="229.6" y2="495.4" stroke="#ff1a1a" stroke-width="2"/>
<line x1="266.2" y1="473.6" x2="266.2" y2="495.1" stroke="#179a35" stroke-width="1.3"/>
<rect x="244.4" y="495.1" width="44.5" height="13.8" fill="#d9f5dd" stroke="#179a35" stroke-width="1.25"/>
<line x1="244.4" y1="503.7" x2="288.9" y2="503.7" stroke="#179a35" stroke-width="2"/>
<circle fill="#ff1a1a" cx="210.1" cy="441.1" r="1"/>
<circle fill="#ff1a1a" cx="206.7" cy="480.1" r="1"/>
<circle fill="#ff1a1a" cx="196.2" cy="480.7" r="1"/>
<circle fill="#ff1a1a" cx="200.9" cy="482" r="1"/>
<circle fill="#ff1a1a" cx="217.2" cy="483.1" r="1"/>
<circle fill="#ff1a1a" cx="195.6" cy="490.8" r="1"/>
<circle fill="#ff1a1a" cx="194.8" cy="494.6" r="1"/>
<circle fill="#ff1a1a" cx="207.6" cy="496.9" r="1"/>
<circle fill="#ff1a1a" cx="216.2" cy="496.9" r="1"/>
<circle fill="#ff1a1a" cx="196.2" cy="504.6" r="1"/>
<circle fill="#ff1a1a" cx="212.8" cy="505.5" r="1"/>
<circle fill="#ff1a1a" cx="214.7" cy="504.6" r="1"/>
<circle fill="#ff1a1a" cx="215.9" cy="511.2" r="1"/>
<circle fill="#ff1a1a" cx="204.8" cy="513.7" r="1"/>
<g fill="#028a0f"><circle cx="265.57" cy="486.37" r="1.15"/><circle cx="265.75" cy="476.4" r="1.15"/><circle cx="256.13" cy="508.58" r="1.15"/><circle cx="253.16" cy="500.38" r="1.15"/><circle cx="277.41" cy="511.8" r="1.15"/><circle cx="277.08" cy="497.72" r="1.15"/><circle cx="265.82" cy="512.25" r="1.15"/><circle cx="254.87" cy="501.33" r="1.15"/><circle cx="278.8" cy="508.38" r="1.15"/><circle cx="266.66" cy="491.72" r="1.15"/><circle cx="277.01" cy="496.49" r="1.15"/><circle cx="269.18" cy="460.89" r="1.15"/><circle cx="277.33" cy="518.72" r="1.15"/><circle cx="258.76" cy="511.78" r="1.15"/><circle cx="266.76" cy="512.73" r="1.15"/><circle cx="265.23" cy="497.42" r="1.15"/><circle cx="255.84" cy="501.29" r="1.15"/><circle cx="267.5" cy="491.97" r="1.15"/><circle cx="276.21" cy="506.82" r="1.15"/><circle cx="278.82" cy="466.06" r="1.15"/><circle cx="253.73" cy="450.03" r="1.15"/><circle cx="264.93" cy="504.08" r="1.15"/><circle cx="273.57" cy="508.62" r="1.15"/><circle cx="255.77" cy="474.64" r="1.15"/><circle cx="280.14" cy="500.04" r="1.15"/><circle cx="264.95" cy="476.74" r="1.15"/><circle cx="265.12" cy="513.84" r="1.15"/><circle cx="274.8" cy="499.65" r="1.15"/><circle cx="259.92" cy="511.04" r="1.15"/><circle cx="252.04" cy="450.11" r="1.15"/><circle cx="254.49" cy="496.44" r="1.15"/><circle cx="264.15" cy="490.48" r="1.15"/><circle cx="258.27" cy="470.81" r="1.15"/><circle cx="258.39" cy="478.19" r="1.15"/><circle cx="254.24" cy="518.97" r="1.15"/><circle cx="263.13" cy="516.27" r="1.15"/><circle cx="262.13" cy="454.55" r="1.15"/><circle cx="252.71" cy="492.03" r="1.15"/><circle cx="267.56" cy="499.71" r="1.15"/><circle cx="268.75" cy="514.19" r="1.15"/><circle cx="261.33" cy="502.11" r="1.15"/><circle cx="272.03" cy="484.27" r="1.15"/><circle cx="254.82" cy="513.3" r="1.15"/><circle cx="259.44" cy="518.52" r="1.15"/><circle cx="280.17" cy="495.56" r="1.15"/><circle cx="277.11" cy="455.67" r="1.15"/><circle cx="274.98" cy="513.16" r="1.15"/><circle cx="265.6" cy="489.94" r="1.15"/><circle cx="269.31" cy="440.74" r="1.15"/><circle cx="258.05" cy="513.37" r="1.15"/><circle cx="269.65" cy="512.98" r="1.15"/><circle cx="276.92" cy="495.99" r="1.15"/><circle cx="251.99" cy="522.53" r="1.15"/><circle cx="259.41" cy="454.29" r="1.15"/><circle cx="277.18" cy="508.36" r="1.15"/><circle cx="275.01" cy="513.61" r="1.15"/><circle cx="268.23" cy="475.71" r="1.15"/><circle cx="251.87" cy="496.53" r="1.15"/><circle cx="269.74" cy="496.59" r="1.15"/><circle cx="266.91" cy="489.53" r="1.15"/><circle cx="258.24" cy="513.52" r="1.15"/><circle cx="254.04" cy="494.96" r="1.15"/><circle cx="259.08" cy="513.77" r="1.15"/><circle cx="267.77" cy="488.37" r="1.15"/><circle cx="280.04" cy="505.17" r="1.15"/><circle cx="258.72" cy="497.47" r="1.15"/><circle cx="276.85" cy="498" r="1.15"/><circle cx="264.48" cy="504.77" r="1.15"/><circle cx="280.72" cy="497.59" r="1.15"/><circle cx="257.03" cy="495.49" r="1.15"/><circle cx="261.15" cy="497.44" r="1.15"/><circle cx="272.66" cy="501.17" r="1.15"/><circle cx="266.62" cy="521.58" r="1.15"/><circle cx="269.31" cy="506.64" r="1.15"/><circle cx="265.44" cy="485.53" r="1.15"/><circle cx="260.19" cy="495.8" r="1.15"/><circle cx="266.7" cy="508.64" r="1.15"/><circle cx="258.27" cy="499.14" r="1.15"/><circle cx="266.39" cy="489.81" r="1.15"/><circle cx="259.16" cy="505.22" r="1.15"/><circle cx="278.22" cy="483.44" r="1.15"/><circle cx="258.99" cy="466.36" r="1.15"/><circle cx="270.27" cy="516.74" r="1.15"/><circle cx="276.88" cy="521.15" r="1.15"/><circle cx="261.61" cy="493.76" r="1.15"/><circle cx="271.78" cy="502.27" r="1.15"/><circle cx="262.43" cy="511.93" r="1.15"/><circle cx="271.71" cy="488.81" r="1.15"/><circle cx="254.74" cy="497.32" r="1.15"/><circle cx="259.24" cy="509.98" r="1.15"/><circle cx="270.51" cy="520.51" r="1.15"/><circle cx="278.87" cy="497.75" r="1.15"/><circle cx="278.7" cy="498.38" r="1.15"/><circle cx="266.92" cy="501.32" r="1.15"/><circle cx="265.35" cy="507.77" r="1.15"/><circle cx="266.04" cy="466.83" r="1.15"/><circle cx="262.1" cy="523.3" r="1.15"/><circle cx="270.03" cy="510.64" r="1.15"/><circle cx="265.69" cy="499.94" r="1.15"/><circle cx="274.12" cy="470.21" r="1.15"/><circle cx="252.6" cy="515.21" r="1.15"/><circle cx="269.24" cy="492.77" r="1.15"/><circle cx="266.41" cy="494.99" r="1.15"/><circle cx="264.98" cy="520.1" r="1.15"/><circle cx="269.4" cy="483.62" r="1.15"/><circle cx="255.36" cy="519.3" r="1.15"/><circle cx="267.72" cy="474.67" r="1.15"/><circle cx="272.48" cy="511.78" r="1.15"/><circle cx="277.13" cy="471.04" r="1.15"/><circle cx="275.43" cy="495.26" r="1.15"/><circle cx="265.33" cy="515.18" r="1.15"/><circle cx="261.74" cy="486.87" r="1.15"/><circle cx="277.15" cy="512.49" r="1.15"/><circle cx="251.92" cy="492.59" r="1.15"/><circle cx="268.08" cy="517.46" r="1.15"/><circle cx="269.86" cy="460.85" r="1.15"/><circle cx="254.79" cy="478.36" r="1.15"/><circle cx="257.04" cy="497.64" r="1.15"/><circle cx="256.09" cy="506.03" r="1.15"/><circle cx="253.06" cy="501.5" r="1.15"/><circle cx="270.7" cy="494.8" r="1.15"/><circle cx="274.28" cy="474.67" r="1.15"/><circle cx="277.25" cy="516.32" r="1.15"/><circle cx="279.22" cy="498.78" r="1.15"/><circle cx="254.09" cy="500.53" r="1.15"/><circle cx="256.79" cy="492.61" r="1.15"/><circle cx="267.55" cy="450.33" r="1.15"/><circle cx="266.18" cy="474.99" r="1.15"/><circle cx="271.17" cy="506.22" r="1.15"/><circle cx="265.23" cy="492.35" r="1.15"/><circle cx="264.06" cy="507.97" r="1.15"/><circle cx="258.42" cy="492.12" r="1.15"/><circle cx="265.93" cy="512.01" r="1.15"/><circle cx="253.66" cy="494.73" r="1.15"/><circle cx="280.26" cy="508.11" r="1.15"/><circle cx="274.39" cy="508.26" r="1.15"/><circle cx="254.22" cy="506.93" r="1.15"/><circle cx="277.26" cy="500.73" r="1.15"/><circle cx="253.11" cy="489.25" r="1.15"/><circle cx="269.95" cy="492.64" r="1.15"/><circle cx="271.24" cy="500.86" r="1.15"/><circle cx="257.08" cy="499.51" r="1.15"/><circle cx="255.49" cy="493.01" r="1.15"/><circle cx="276.74" cy="506.79" r="1.15"/><circle cx="266.73" cy="497.91" r="1.15"/><circle cx="266.18" cy="492.34" r="1.15"/><circle cx="267.93" cy="504.24" r="1.15"/><circle cx="262.04" cy="521.38" r="1.15"/><circle cx="280.97" cy="519.75" r="1.15"/><circle cx="270.92" cy="474.26" r="1.15"/><circle cx="276.84" cy="512" r="1.15"/><circle cx="275.36" cy="507.71" r="1.15"/><circle cx="269.49" cy="495.05" r="1.15"/><circle cx="259.56" cy="490.89" r="1.15"/><circle cx="267.65" cy="483.78" r="1.15"/><circle cx="276.39" cy="490.18" r="1.15"/><circle cx="263.77" cy="508.69" r="1.15"/><circle cx="253.96" cy="505.01" r="1.15"/><circle cx="271.86" cy="478.44" r="1.15"/><circle cx="267.73" cy="500.6" r="1.15"/><circle cx="253.75" cy="477.9" r="1.15"/><circle cx="271.88" cy="505.14" r="1.15"/><circle cx="266.32" cy="499.06" r="1.15"/><circle cx="258.26" cy="508.55" r="1.15"/><circle cx="261.72" cy="494.17" r="1.15"/><circle cx="278.22" cy="466.6" r="1.15"/><circle cx="259.83" cy="455.15" r="1.15"/><circle cx="254.77" cy="499.76" r="1.15"/><circle cx="253.89" cy="505.09" r="1.15"/><circle cx="279.84" cy="500.2" r="1.15"/><circle cx="262.4" cy="489.93" r="1.15"/><circle cx="279.09" cy="507.95" r="1.15"/><circle cx="276.54" cy="518.5" r="1.15"/><circle cx="253.72" cy="480.97" r="1.15"/><circle cx="270.7" cy="461.85" r="1.15"/><circle cx="264.2" cy="504.07" r="1.15"/><circle cx="267.19" cy="496.53" r="1.15"/><circle cx="278.02" cy="479.44" r="1.15"/><circle cx="251.96" cy="506.21" r="1.15"/><circle cx="270.74" cy="489.18" r="1.15"/><circle cx="253.88" cy="494.87" r="1.15"/><circle cx="278.12" cy="516.3" r="1.15"/><circle cx="265.6" cy="504.93" r="1.15"/><circle cx="257.43" cy="454.08" r="1.15"/><circle cx="253.51" cy="495.61" r="1.15"/><circle cx="273.42" cy="498.15" r="1.15"/><circle cx="274.04" cy="512.03" r="1.15"/><circle cx="275.99" cy="455.72" r="1.15"/><circle cx="279.55" cy="488.63" r="1.15"/><circle cx="267.8" cy="492.03" r="1.15"/><circle cx="275.41" cy="485.05" r="1.15"/><circle cx="271.36" cy="495.82" r="1.15"/><circle cx="261.65" cy="511.31" r="1.15"/><circle cx="276.95" cy="506.25" r="1.15"/><circle cx="260.25" cy="489.05" r="1.15"/><circle cx="253.44" cy="442.3" r="1.15"/><circle cx="261.34" cy="517.64" r="1.15"/><circle cx="279.63" cy="516.16" r="1.15"/><circle cx="263.11" cy="505.11" r="1.15"/><circle cx="267.37" cy="481.11" r="1.15"/><circle cx="264.63" cy="495.77" r="1.15"/><circle cx="279.84" cy="501.62" r="1.15"/><circle cx="267.15" cy="507.91" r="1.15"/><circle cx="255.85" cy="500.99" r="1.15"/><circle cx="266.6" cy="512.41" r="1.15"/><circle cx="264.4" cy="488.26" r="1.15"/><circle cx="279.19" cy="517.89" r="1.15"/><circle cx="277.7" cy="512.71" r="1.15"/><circle cx="270.8" cy="519.21" r="1.15"/><circle cx="259.35" cy="512.42" r="1.15"/><circle cx="273.91" cy="502.95" r="1.15"/><circle cx="264" cy="502.48" r="1.15"/><circle cx="267.01" cy="503.61" r="1.15"/><circle cx="279.72" cy="507.79" r="1.15"/><circle cx="255.6" cy="510.89" r="1.15"/><circle cx="262.03" cy="498.59" r="1.15"/><circle cx="252.86" cy="491.82" r="1.15"/><circle cx="262.41" cy="493.88" r="1.15"/><circle cx="260.52" cy="470.17" r="1.15"/><circle cx="261.03" cy="502.56" r="1.15"/><circle cx="259.96" cy="499.11" r="1.15"/><circle cx="263.8" cy="494.2" r="1.15"/><circle cx="260.27" cy="492.43" r="1.15"/><circle cx="268.08" cy="501.75" r="1.15"/><circle cx="270.88" cy="491.95" r="1.15"/><circle cx="254.23" cy="502.69" r="1.15"/><circle cx="256.01" cy="513.58" r="1.15"/><circle cx="257.09" cy="511.12" r="1.15"/><circle cx="261.72" cy="494.55" r="1.15"/><circle cx="258.58" cy="474.24" r="1.15"/><circle cx="257.08" cy="508.99" r="1.15"/><circle cx="271.75" cy="512.47" r="1.15"/><circle cx="259.09" cy="497.56" r="1.15"/><circle cx="271.56" cy="486.86" r="1.15"/><circle cx="269.57" cy="502.71" r="1.15"/><circle cx="264.66" cy="494.8" r="1.15"/><circle cx="262.42" cy="514.79" r="1.15"/><circle cx="262.68" cy="463.59" r="1.15"/><circle cx="254.3" cy="495.48" r="1.15"/><circle cx="277.11" cy="489.4" r="1.15"/><circle cx="262.64" cy="504.61" r="1.15"/><circle cx="259.12" cy="499.81" r="1.15"/><circle cx="255.48" cy="510.22" r="1.15"/><circle cx="266.68" cy="493.4" r="1.15"/><circle cx="280" cy="460.05" r="1.15"/><circle cx="279.47" cy="478.62" r="1.15"/><circle cx="252.42" cy="483.27" r="1.15"/><circle cx="280.39" cy="512.98" r="1.15"/><circle cx="269.8" cy="478.67" r="1.15"/><circle cx="264.53" cy="496.14" r="1.15"/><circle cx="255.98" cy="502.84" r="1.15"/><circle cx="259.78" cy="498.6" r="1.15"/><circle cx="277.29" cy="513.25" r="1.15"/><circle cx="277.46" cy="497.69" r="1.15"/><circle cx="268.66" cy="507.33" r="1.15"/><circle cx="276.12" cy="507.92" r="1.15"/><circle cx="270.74" cy="510.25" r="1.15"/><circle cx="261.27" cy="498.37" r="1.15"/><circle cx="266.01" cy="515.9" r="1.15"/><circle cx="275.75" cy="499.46" r="1.15"/><circle cx="257.15" cy="510.46" r="1.15"/><circle cx="275.29" cy="506.94" r="1.15"/><circle cx="270.34" cy="509.46" r="1.15"/><circle cx="254.12" cy="520.45" r="1.15"/><circle cx="266.31" cy="492.42" r="1.15"/><circle cx="265.61" cy="513.56" r="1.15"/><circle cx="263.2" cy="465.54" r="1.15"/><circle cx="264.06" cy="498.29" r="1.15"/><circle cx="252.97" cy="500.07" r="1.15"/><circle cx="268.74" cy="477.49" r="1.15"/></g>
</svg></body></html>
